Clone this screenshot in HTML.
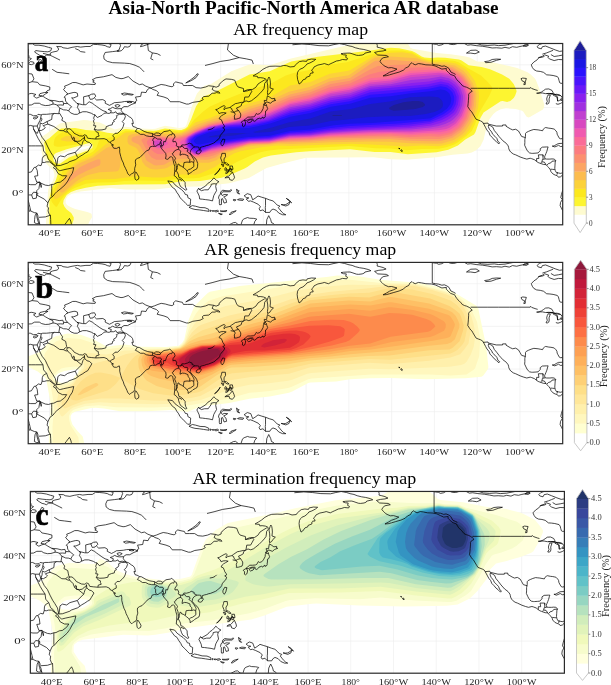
<!DOCTYPE html>
<html><head><meta charset="utf-8"><title>Asia-North Pacific-North America AR database</title>
<style>html,body{margin:0;padding:0;background:#fff;} svg{display:block;}</style></head>
<body>
<svg width="611" height="685" viewBox="0 0 611 685" font-family='"Liberation Serif", "DejaVu Serif", serif'>
<text x="108.6" y="13.8" font-size="18.8" font-weight="bold" textLength="390" lengthAdjust="spacingAndGlyphs" fill="#000">Asia-North Pacific-North America AR database</text>
<text x="233.3" y="35.0" font-size="16.8" textLength="134.8" lengthAdjust="spacingAndGlyphs" fill="#000">AR frequency map</text>
<text x="204.3" y="254.8" font-size="16.8" textLength="191.9" lengthAdjust="spacingAndGlyphs" fill="#000">AR genesis frequency map</text>
<text x="192.4" y="483.6" font-size="16.8" textLength="223.8" lengthAdjust="spacingAndGlyphs" fill="#000">AR termination frequency map</text>
<clipPath id="clipa"><rect x="28.20" y="43.50" width="534.50" height="181.30"/></clipPath>
<g>
<g clip-path="url(#clipa)">
<line x1="49.58" y1="43.50" x2="49.58" y2="224.80" stroke="#ececec" stroke-width="0.6"/>
<line x1="92.34" y1="43.50" x2="92.34" y2="224.80" stroke="#ececec" stroke-width="0.6"/>
<line x1="135.10" y1="43.50" x2="135.10" y2="224.80" stroke="#ececec" stroke-width="0.6"/>
<line x1="177.86" y1="43.50" x2="177.86" y2="224.80" stroke="#ececec" stroke-width="0.6"/>
<line x1="220.62" y1="43.50" x2="220.62" y2="224.80" stroke="#ececec" stroke-width="0.6"/>
<line x1="263.38" y1="43.50" x2="263.38" y2="224.80" stroke="#ececec" stroke-width="0.6"/>
<line x1="306.14" y1="43.50" x2="306.14" y2="224.80" stroke="#ececec" stroke-width="0.6"/>
<line x1="348.90" y1="43.50" x2="348.90" y2="224.80" stroke="#ececec" stroke-width="0.6"/>
<line x1="391.66" y1="43.50" x2="391.66" y2="224.80" stroke="#ececec" stroke-width="0.6"/>
<line x1="434.42" y1="43.50" x2="434.42" y2="224.80" stroke="#ececec" stroke-width="0.6"/>
<line x1="477.18" y1="43.50" x2="477.18" y2="224.80" stroke="#ececec" stroke-width="0.6"/>
<line x1="519.94" y1="43.50" x2="519.94" y2="224.80" stroke="#ececec" stroke-width="0.6"/>
<line x1="28.20" y1="192.81" x2="562.70" y2="192.81" stroke="#ececec" stroke-width="0.6"/>
<line x1="28.20" y1="150.15" x2="562.70" y2="150.15" stroke="#ececec" stroke-width="0.6"/>
<line x1="28.20" y1="107.49" x2="562.70" y2="107.49" stroke="#ececec" stroke-width="0.6"/>
<line x1="28.20" y1="64.83" x2="562.70" y2="64.83" stroke="#ececec" stroke-width="0.6"/>
<path fill="#fefbd0" fill-rule="evenodd" d="M47.2 229.1l3.4 0.5 20.4 0 13.9-1.3 1.1-0.3 1-1 2.4-5.4 2.7-4.3 -0.5-3.2 -1.5-1 -2.9-1.1 -12-3 -4.2-1.8 -3.2-1.6 -1.1-1.1 -1.1-2.1 0.3-3.2 2-3.2 4.1-2.2 8.6-2.2 28.8-3.6 16.1 1.6 28.8-0.1 25.7-2.7 20.3-0.4 29-3.2 19.5-5.3 17.8-9.9 16-4.6 23.5-5.6 67.4-0.6 17.1 2 16 0.6 30-2.6 16-2.5 15-1.3 4.2-1 4.3-2.2 4.3-3.9 3.2-6.5 2.8-12 3-8.6 4-5.3 3-2.5 4.3-2.2 5.3-0.9 9.7 0.7 6.4 1.8 1.2 1 3.1 4.8 2.1 0.9 1.4-0.4 13-7.5 1.2-2.1 0.1-3.2 -5-15.9 -3.2-8.1 -1.1-1.7 -4.1-4.2 -3.3-2.1 -10.3-4.3 -22.8-5.3 -4.4-0.7 -12.8-0.6 -7.5-3.8 -5.4-1.3 -13.8-2.1 -13.9-1.1 -23.9-4.3 -2.3-1 -3.9-6.4 -0.9-1.1 -1.1-0.3 -31 0.1 -27.1 5.5 -56.3 13.2 -20.3 6.5 -18.2-0.8 -3 0.3 -17.3 6.4 -20.3 12.8 -6.4 1.7 -2.2 1.5 -5.4 6.4 -4.2 10 -6.3 21 -1.2 1.8 -2.1 1 -4.3 0.6 -13.9-2.2 -9.6 2.9 -3.2 0.2 -11.8-0.4 -14.9-1.8 -10.7 2.8 -15-6.9 -12.1-2.3 -3.9-0.3 -23.5 3.2 -13.9 10.6 -5.4 3.5 -0.6 2.2 0.1 3.2 1.4 10.6 0.9 3.2 3.6 7.3 7 6.6 1.1 4.3 -0.2 2.1 -1.5 4.3 -3.6 5.3 -0.9 3.2 -1.8 20.3 -0.6 14.9 0.3 3.2 1 1.1zM58.1 160.9l-1.6-1.2 -0.3-1 0.4-2.2 1.5-1.3 10.3-4 10.4-3.2 8.2-2.1 2.5 0 0 1 -1.4 1.1 -19.3 7 -8.5 5.6 -2.2 0.3z"/>
<path fill="#fdf530" fill-rule="evenodd" d="M50.9 226.9l17.9 0.1 1.1-0.1 1.7-1 2.1-6.4 0-2.2 -2.5-4.2 -4.5-3.7 -2.2-2.7 -1.4-3.2 0.5-3.2 3.1-5.3 4.3-2.9 5.3-2 9.6-2.4 11.8-2 26.7-1.3 40.6-0.2 15-2.6 20.3-0.6 21.4-3.3 7.5-2.5 14.9-6.4 3.2-1.8 7.5-5.5 8.2-3.9 7.9-2.1 25.2-3.2 13.2-1.1 40.7-2 24.6 2.8 16-0.1 17.1 2.3 28.9-2 11.7-2.4 9.6-4.3 7.4-6 8.7-5.1 1.5-2.4 4.9-13.9 3.2-5.5 17.1-11.4 2.1-0.3 4.3 1.1 3.2-1 3.4-3.1 1.4-2.1 1.5-4.3 -0.4-2.1 -2.5-5.4 -4.4-5.3 -7.2-4.3 -12.1-5.1 -8.5-2.4 -12.9-1.6 -7-4.7 -2.6-1 -13.9-1.8 -7.5-0.3 -7.5 0.6 -5.7-0.7 -2.8-0.9 -6.4-4.1 -3.2-1.4 -12.9-2.8 -8.5-0.5 -23.8 3.3 -48.9 5.8 -21 3.8 -5.6 1 -3 1.1 -18.5 8.6 -20.3 3.3 -37.4 18.9 -8.6 3 -2.1 1.4 -5.4 8.7 -4.9 12.6 -3.6 7.5 -2.2 1.9 -3.8 1.3 -2.6 0.2 -13.9-1.7 -8.5 2 -3.2 0.3 -12.9-0.4 -14.9-1.3 -2.2 0.6 -7.4 3.6 -2.2 0.4 -6.4-0.8 -7.5-1.8 -13.9-1.1 -10.7-1.9 -13.9 0.5 -2.1 1 -9.6 8.6 -4.3 2.7 -1.2 1.9 1.7 10.6 1.6 5.2 2.1 3.4 6.5 6.1 1.1 2.4 0.8 3.2 -2 6.4 -4.3 8.5 -2.2 9.6 0 26.7 0.2 1.2 1.3 0.9zM56 163.1l-2.1-1.7 -0.6-2.7 0.9-4.3 1.8-1.4 10.7-3.8 21.4-5.9 3.2 0 1.2 1.5 0.1 2.1 -0.5 1.1 -1.9 1.6 -21.3 8 -8.6 6 -2.2 0.2 -2.1-0.7z"/>
<path fill="#fce81e" fill-rule="evenodd" d="M55.9 206.7l1.2-0.1 2.9-5.3 4-5.3 3.8-3.7 3.2-2.4 4.2-2.2 10.7-3.9 10.7-1.2 17.1-0.3 10.7-1.2 12.8-0.6 26.8 0.5 16-2.7 13.9 0 5.3-0.6 20.6-6.2 16.9-9.5 14.4-6.5 9.2-3.2 8.4-1.8 9.6-1.1 70.6-3.4 26.7 2.2 15 0.3 16 1.7 15-1.1 17.1-0.3 7.5-1.5 7.5-2.5 3.2-1.7 9.6-7.2 5.3-4.9 3.5-7.5 4-11.1 10-16.6 2.8-6.4 0.1-2.2 -4.4-5.3 -6.8-6.4 -13.4-7.5 -8.6-5.6 -4.3-1.3 -8.5-1 -7.5-0.2 -6.4 0.4 -5.4-0.8 -5.3-1.5 -9.6-5.8 -9.7-1.7 -11.7-0.1 -15 2.6 -28.8 9.3 -20.3 2.7 -19.3 5.5 -13.9 2.4 -7.5 2.6 -13.9 7.5 -7.5 2.8 -11.7 3 -25.7 10.2 -17.1 7.6 -6.4 4.7 -7.5 6.6 -2.1 2.1 -5.7 7.8 -3.9 2.5 -5.4 1.2 -13.9-1.2 -10.7 1.5 -28.8-1.1 -10.7 5.5 -15 3.5 -1 1.4 -1.9 5.8 -3.5 4.3 -3.2 2 -18.2 7.3 -8.6 7.8 -2 6.4 -7.9 14.9 -2.3 7.5 -0.3 2.1 0.8 2.5 2.2 3.1 2 1.9zM54.4 145.9l2.7 0.8 3.2 0 16-2.1 6.2-1.9 1.9-1.1 1.8-2.1 0.5-2.2 -2.1-2.1 -3-1.7 -6.4-1.9 -4.2-0.2 -8.6 0.9 -4.3 2.6 -2.6 2.4 -1.1 2.2 -0.6 3.2 -0.1 2.1 0.7 1.1z"/>
<path fill="#fcd23a" fill-rule="evenodd" d="M55 199.2l2.1-0.4 2.1-1.4 16-12.6 9.7-4.8 10.6-0.8 19.3-0.2 21.4-2.7 17.1 1.1 10.7 0 16-2.8 16 0.1 4.3-1.2 15-6.8 15-11.2 4.1-2.2 6.3-2.1 22.1-4.3 14.5-1.3 13.9 0.4 58.8-2.2 20.3 0.6 35.3 2.1 16-1 17.1 0.8 6.4-1.2 7.5-2.1 3.2-1.4 9.6-6.9 3.9-4.8 4.5-8.5 4.3-13.9 1-10.7 -0.4-5.3 -4-10.7 -6.1-8.5 -3.3-3.2 -9.5-5.7 -10.7-1.6 -13.9-0.2 -9.6-2.5 -9.6-5.4 -9.7-1.5 -11.7 0.5 -15 2.6 -4.3 1.9 -21.3 13 -3.2 0.9 -17.1 2.6 -19.3 8.3 -20.3 3.6 -21.3 12.3 -20.4 5.9 -16 5.3 -23.1 9.1 -13.3 4.1 -2.1 1.4 -6.4 5.9 -6.4 2.8 -2.2 0.3 -13.9-0.7 -10.7 0.7 -20.3-0.4 -7.5 0.2 -2 0.6 -6.5 4.6 -11.8 6.4 -13.9 11.5 -13.9 5.8 -3.2 1.8 -2.1 1.8 -5.8 6.5 -9.7 14.9 -2 4.3 -1.7 5.5 -0.2 1.9 1.3 1.1zM67.3 141.6l7.9-0.4 3.2-1.1 1-0.6 -0.1-1.1 -0.9-1.1 -2.3-1 -4.1-0.7 -6.5 0.7 -4.4 2.1 -0.4 1.1 0.7 1 5.9 1.1z"/>
<path fill="#fcbc4e" fill-rule="evenodd" d="M59.9 191.7l1.4 1 2.2-0.8 12.8-10.5 5.3-3.5 6.5-2.9 11.7-2.8 16.1-0.8 2.1-0.5 1.1-1.4 0.7-2.3 1.3-9.6 -0.6-3.2 -2.5-6.9 -2.1-1.1 -4.3 0.1 -2.2 0.3 -3 1.2 -13 9.3 -13.3 5.6 -3.6 2.2 -6.6 6.4 -5.4 7.5 -4.3 7.4 -0.7 3.2 0.4 2.1zM152.9 169.3l3.6 0.1 8.5-0.9 2.2-0.7 6.4-3.7 7.5-1.6 27.8 0.2 7.4-2.5 7.8-5.8 3.8-2.1 17.8-5.4 6.3-1 16.7-1.1 9.6-1.2 12.9 0.5 39.5-1.9 39.6-0.6 19.2 0.2 20.3 1.5 27.8 0.5 4.3-0.4 11.8-3.3 8.6-5.9 3.1-3.2 6.1-9.6 1.3-3.2 3.2-11.8 0.5-12.8 -3.9-10.6 -6.5-9.6 -2.8-2.7 -8.6-5.3 -8.5-1.4 -13.9-1.1 -10.7-2.7 -4.3-1.8 -3.2-0.5 -23.5-1.5 -15 1.2 -3.9 1.9 -22.8 15.8 -19.2 3 -20.4 8.7 -20.3 4.7 -19.2 8.8 -20.3 6 -20.3 8.3 -15 4 -16 5.5 -4.3 2 -6.4 4.5 -6.4 2.8 -15 0.7 -6.4-0.7 -22.5-0.1 -4.9 0.7 -3 1 -1.1 1.1 -0.7 2.1 0 3.2 0.8 2.1 1.5 1.3 5.3 2.3 2.1 1.6 2.5 4.4 2.7 8.6 3.1 4.2 4.6 2.6 2.8 0.6z"/>
<path fill="#fca564" fill-rule="evenodd" d="M66.4 184.3l0.3 0.2 4.3-4 7.4-5.4 8.6-4.3 12.8-5.5 0.7-2.4 -0.3-3.2 -1.4-0.5 -2.4 0.5 -8 3.2 -8.6 4.3 -7.8 6.5 -4.2 7.2 -1.4 3.4zM153.9 165.1l2.6 0.4 7.5-0.7 7.4-4.1 9.7-2 24.6 1 3.2-0.3 6.4-2 6.1-4.1 4.5-2.1 4.3-0.7 15-4.6 5.4-1.2 18.1-0.6 9.6-1.6 31-0.8 20.4-1.5 40.6-1 19.2-0.1 20.3 1.6 19.3 0.5 9.6 0.1 3.2-0.5 10.7-3 8.5-6 2.7-3 5.6-8.5 1.4-3.2 3.1-11.7 0.7-9.6 -0.2-2.2 -3.7-9.6 -6.3-9.1 -3.3-2.7 -8.5-5.1 -12.8-1.7 -22.5-4.2 -11.7-0.2 -15-1.3 -15 1 -2.1 1 -23.5 16.4 -20.3 3.3 -19.3 8.4 -20.3 4.7 -20.3 8.6 -20.3 6 -19 8 -22.7 5.7 -12.8 5.4 -7 3.8 -6.9 3 -15 1.2 -10.7-1.5 -13.9 0.3 -4.3 0.7 -4.5 1.6 -1.1 1.1 0 2.1 1.4 1.4 5.3 2.4 1.7 1.6 3.6 6.4 2.2 6.9 1 1.6 7.1 4.3z"/>
<path fill="#fc9070" fill-rule="evenodd" d="M156.3 159.7l6.6 0 7.5-3.2 8.5-1.3 5.4 0.3 10.7 2.3 12.8-0.8 6.4-1.7 10.7-4.7 6.4-1.1 15.4-4.7 4.9-0.9 17.1-0.4 8.6-1.6 6.4-0.5 26.7-1.1 20.3-1.7 41.7-1.2 18.2-0.2 20.3 1.6 27.8 0.1 3.2-0.4 9.6-2.6 8.6-5.9 2.8-3.3 4.9-7.5 1.6-4.2 2.7-9.6 0.7-8.6 -0.2-3.2 -3.2-8.5 -6.1-8.9 -3.2-2.7 -8.6-4.9 -22.4-3.6 -11.8-0.8 -25.6 0.8 -13.9 1.1 -9.7 4.3 -17.8 10.4 -19.6 3.3 -20.3 8.2 -20.3 4.7 -20.3 8.6 -19.2 5.7 -20.4 7.7 -21.3 4.9 -12.9 5.3 -9.6 5 -5.3 2.1 -4.3 0.6 -10.7 0.3 -12.8-1.4 -4.3 0.5 -6 2.1 -1.4 1.1 -0.1 1 7.5 14 2.6 3.1 4.7 2.1z"/>
<path fill="#fc7c80" fill-rule="evenodd" d="M194.3 156.5l3.9-0.1 16-3.4 10.7-3.2 5.3-0.7 19.3-5.5 19.2-0.7 8.6-1.6 11.7-1.2 21.4-0.8 20.3-2 39.6-1.3 19.2-0.5 20.3 1.4 20.3-0.6 8.6 0.4 8.5-1.6 4.3-1.4 7.5-5.1 2.1-2.4 5.3-8 4.1-12.8 0.7-8.6 -0.2-3.2 -3.1-8.5 -5.7-7.9 -3.2-2.7 -8.5-4.7 -20.4-2.5 -13.9 0.1 -6.4 0.3 -20.3 3.3 -9.6 0.8 -10.7 2.8 -19.2 9 -20.3 3.7 -19.3 7.4 -20.3 4.7 -20.3 8.6 -18.2 5.3 -17.6 5.9 -25.1 5.7 -12.9 5.3 -10.7 5.8 -3.2 1.1 -4.2 0.9 -11.8 0.1 -7.5-1 -5.3 0.1 -3.9 1.2 -2.6 3.2 0.3 2.1 3 5 4.2 3.6 3.2 1.6 4.3 0.3 8.6-2.3 8.5-0.7 6.4 1.2 9 4.1z"/>
<path fill="#fb6c98" fill-rule="evenodd" d="M193.5 155.5l3.6 0.3 12.8-3.8 20.3-3.6 19.3-5.2 19.2-0.8 21.4-3.3 20.3-0.8 20.3-2 25.4-1.1 33.4-1.1 21.4 1.2 19.2-1.2 9.7 0.4 7.4-1.5 4.3-1.6 6.9-4.7 6.6-9.6 4-11.7 0.8-8.6 -0.3-3.2 -2.6-7.4 -5.8-8.1 -2.1-1.9 -8.5-4.8 -9.7-1.6 -7.4-0.3 -22.5 1.2 -21.4 5.7 -19.2 1.8 -20.3 7.8 -19.3 3.6 -20.3 7.3 -20.3 4.6 -21.8 9.2 -38.3 10.7 -21.1 4.2 -11.8 4.8 -12.8 7.2 -4.3 1.5 -4.3 0.4 -8.5-0.3 -10.7-1.1 -4.3 0.9 -1.6 1.5 -0.3 2.2 1.5 3.2 1.5 1.3 3.2 1.7 2.1 0.6 3.2 0.1 8.6-2.2 7.5-0.2 6.4 2 9.2 6.3z"/>
<path fill="#f05ab0" fill-rule="evenodd" d="M193 154.4l2 0.8 2.1-0.1 12.8-4.2 20.3-3.4 19.3-4.8 19.2-0.7 21.4-3.7 20.3-0.8 20.3-2.1 38.5-1.9 21.4-0.6 20.3 0.8 19.2-1.3 9.7-0.1 6.4-1.2 4.3-1.5 6.4-4.3 6.4-8.6 4.1-11.3 0.9-7.5 -0.2-3.2 -2.7-8.2 -6.4-8.4 -8.5-5.1 -8.6-1.7 -9.6 0.1 -21.4 1.6 -20.3 5.7 -20.3 1.8 -20.3 7.4 -19.3 3.5 -20.3 7.2 -20.3 4.4 -21.4 9.2 -35.8 9.2 -23 4.5 -11.7 4.6 -10.7 5.8 -6.8 5.3 -0.7 1.1 0.3 1 1.1 1.1 6.1 5.5 5.5 4.1zM155.4 146.9l3.2 1.1 3.2-0.6 4.9-2.6 1.1-1.1 0.3-1 -1.2-1.1 -5.7-2.1 -2.6-0.5 -3.6 0.5 -2 1 -0.6 2.2 0.8 2.1 2.2 2.1z"/>
<path fill="#d848c0" fill-rule="evenodd" d="M194.4 154.4l1.6 0.2 2.2-0.4 12.8-4.5 18.2-3.1 20.3-4.4 19.2-0.7 21.4-4 20.3-0.8 20.3-2.2 39.6-2.3 19.2-0.3 21.4 0.4 27.8-2 7.5-1.4 3.2-1.2 6.4-4.1 5.9-7.6 4.1-10.6 1-7.5 -0.3-3.2 -2.4-7.5 -5.6-7.4 -9.1-5.5 -7.5-1.4 -3.2-0.2 -27.8 2.3 -20.3 5.6 -20.3 1.9 -20.3 7.2 -19.3 3.3 -20.3 7.2 -20.3 4.1 -21.4 9.4 -32.7 7.7 -26.1 5 -11.7 4.6 -5.4 2.6 -5.3 3.3 -1.5 1.5 -1.5 3.2 0.2 3.2 1.7 3.2 2.1 2.3 5.9 4.1zM155.8 145.9l1.7 0.8 2.2-0.1 2.6-1.8 0.5-1.1 -0.3-1 -2.8-2.2 -2.2-0.3 -2.1 0.6 -1 0.8 -0.3 1.1 0.7 2.1 1 1.1z"/>
<path fill="#c040d0" fill-rule="evenodd" d="M193.6 153.3l1.4 0.6 2.1 0 15-5.2 36.3-6.9 21.4-1 20.3-4 20.3-0.8 20.3-2.4 39.6-2.4 40.6-0.3 19.2-1.6 11.8-1.8 5.3-1.4 6.5-3.6 5.7-6.5 1.7-3 2.9-7.6 1.1-6.4 -0.1-3.2 -2.3-7.5 -5.6-7.5 -7.7-4.6 -8.6-1.7 -29.9 2.8 -20.3 5.2 -20.3 1.8 -20.3 7.1 -19.3 3.2 -20.3 7.1 -20.3 4 -21.4 9.5 -20.3 4.5 -27.8 5 -11.7 2.6 -13.9 5.7 -6.5 3.8 -1.7 1.6 -0.9 2.1 -0.1 2.2 0.8 4.2 1.9 2.7 5.1 3.7zM157 143.7l0.5 0.8 1.1-0.3 0.3-0.5 -1.4-1 -0.5 1z"/>
<path fill="#a030e0" fill-rule="evenodd" d="M193.2 152.3l1.8 0.9 2.1 0 15-5.3 19.2-3.8 18.2-3 20.3-0.9 20.3-4.1 20.3-0.9 20.3-2.5 38.5-2.4 41.7-0.9 19.2-1.9 8.6-1.6 6.4-1.8 5.4-2.7 3-2.2 4.1-4.2 1.4-2.3 3.1-7.3 1-6.4 -0.1-3.2 -2.5-7.5 -4.7-5.8 -4.3-2.9 -3.2-1.6 -7.5-1.4 -11.7 1.9 -18.2 1.6 -20.3 4.2 -20.3 1.8 -20.3 7.2 -19.3 3.1 -20.3 7 -20.3 3.9 -21.4 9.3 -19.2 4.2 -28.9 4.4 -11.7 2.6 -13 5.3 -7.3 4.2 -1.1 1.1 -0.9 3.2 0.7 5.3 1.6 2.2 4.3 3.2z"/>
<path fill="#8a20ee" fill-rule="evenodd" d="M195.3 152.3l3.9-0.3 12.9-5 17.1-3.4 20.3-3.1 20.3-1 20.3-4.2 20.3-0.9 20.3-2.6 19.3-1.4 59.8-2.5 21.4-2.5 8.6-2.2 5.3-2 5.4-3 5-4.3 1.5-2.1 2.9-6.4 1-6.4 0-3.2 -2.9-7.5 -3.3-3.7 -5.5-3.8 -8.4-1.7 -2.1 0.1 -9.6 2.2 -17.1 1.7 -21.4 3 -20.3 1.7 -20.3 7.4 -19.3 3.1 -20.3 6.8 -20.3 3.8 -21.4 9.1 -19.2 4.2 -28.6 3.4 -13.1 3.2 -12.9 5.4 -5.3 3.2 -1.9 2.1 -0.3 4.2 0.7 3.2 3.3 3.2 3.9 2.2z"/>
<path fill="#6a18f8" fill-rule="evenodd" d="M196.4 151.2l2.8-0.2 12.9-4.9 16-3.1 21.4-3.2 20.3-1 20.3-4.3 20.3-1.1 20.3-2.7 18.2-1.5 59.9-2.8 21.3-2.6 11.8-3.9 6.4-3.4 5.4-4 1.9-2.9 2.3-5.1 0.8-5.5 0-3.2 -2.6-6.4 -3.5-3.6 -4.3-2.9 -7.5-1.4 -12.8 2.8 -57.7 5.5 -20.3 7.4 -19.3 3 -20.3 6.6 -20.3 3.9 -21.4 8.7 -18.1 4 -24.6 2.2 -7.2 1.1 -9.1 2.1 -13.7 5.4 -5.1 3.1 -2.4 2.2 -0.2 4.2 0.3 2.2 0.6 1 3.6 3 3.6 1.3z"/>
<path fill="#4a14fc" fill-rule="evenodd" d="M195.3 149.1l3.9 0.4 12.9-4.5 16-2.8 21.4-3.2 20.3-1 20.3-4.4 20.3-1.2 20.3-3 17.1-1.5 44.9-2.1 17.2-1.2 20.2-2.5 10.3-3.9 6.8-3.8 4.3-3.2 2.2-2.7 2-4.2 0.7-4.3 0.1-3.2 -1.9-5.3 -2.7-3.2 -4.7-3.3 -6.4-1.1 -12.8 2.8 -57.7 5.5 -20.3 6.9 -19.3 3.1 -20.3 6.5 -20.3 3.8 -21.4 8.2 -18.1 4 -19.3 1.1 -7.3 0.9 -14.9 3.2 -13.6 5.3 -5.7 4.3 -0.6 2.1 1.1 4.3 2.5 2.1 2.5 1.1z"/>
<path fill="#2a12fe" fill-rule="evenodd" d="M195.9 146.9l3.3 0.5 13.9-3.9 35.3-5.2 21.4-1.2 20.3-4.6 20.3-1.4 20.3-3.2 19.3-1.9 48.4-2.5 31.7-3 13.7-6.6 5.9-4.3 1.8-2.1 1.7-3.2 1-4.3 -0.1-3.2 -1.6-4.2 -3.1-3.3 -3.2-2.1 -5.4-0.9 -11.7 2.5 -38.5 4.4 -20.3 1.6 -20.3 6.4 -19.3 3 -20.3 6.4 -20.3 3.9 -18.2 6.6 -7.5 1.9 -13.8 3 -21.4 1.2 -11.1 1.6 -8.2 1.9 -12.4 4.5 -3.6 2.1 -2.3 2.2 -0.8 2.1 1 2.5 1.8 1.8 2.3 1z"/>
<path fill="#1a16e4" fill-rule="evenodd" d="M196 143.7l2.2 0.8 2.1 0 11.8-2.5 36.3-4.9 21.4-1.3 20.3-4.8 20.3-1.6 23.5-4.1 16.1-1.5 22.4-0.9 56.7-4.4 2.1-0.6 10.7-5.5 5.2-3.8 2.3-3 1.1-2.1 0.7-3.5 -0.1-2.1 -1.7-4.3 -2.2-2 -2.1-1.4 -4.3-0.8 -10.7 1.9 -21.3 2.3 -18.2 2.7 -20.3 1.5 -20.3 5.9 -19.3 3.1 -20.3 6.3 -20.3 3.7 -19.2 6.4 -18.2 4.1 -4.3 0.7 -19.2 0.8 -19 3.2 -9.1 3.2 -4.5 2.1 -2.8 3.2 0.1 1.3 2.1 1.9z"/>
<path fill="#1c1cc0" fill-rule="evenodd" d="M208.6 137.3l7.4 0 19.5-2.1 10.8-1.9 4.9-0.2 -21-0.2 -14.9 2.3 -5 1.1 -1.7 1zM253.3 132l0.5 0.5 2.1 0.2 14.2-0.7 18.9-5.1 20.3-1.3 21.4-4.7 11.8-0.8 24.6-2.8 20.3-1 22.4-0.3 16.1-2.1 8.5-1.9 5.7-2.4 2.7-3.2 0.1-3.2 -0.7-2.1 -1.7-2.1 -1.8-1.4 -2.1-0.6 -7.5-0.6 -19.3 0.9 -20.3 4.3 -19.2 2.4 -19.3 4.9 -20.3 2.6 -20.3 6.9 -22 4 -16.5 5.1 -18.6 4.5z"/>
<path fill="#1e1e98" fill-rule="evenodd" d="M332 116l9.4 0 0.8-1 -9 0 -1.2 1zM393.6 110.7l10.9-0.6 10.7-1.2 7.5-1.9 2.2-1.6 0.1-1.1 -2.3-2.2 -4.3-1 -5.4-0.2 -9.7 1.3 -9.5 2.7 -4.3 2.6 -0.4 1.1 0.9 1 3.6 1.1z"/>
<g transform="matrix(2.1380 0 0 2.1329 -35.940 192.806)"><path d="M29.9,-31.2 31.0,-31.6 32.3,-31.3 34.2,-31.3 34.9,-32.8 35.5,-33.9 35.9,-35.3 36.0,-36.0 36.2,-36.6 35.6,-36.6 34.6,-36.8 34.0,-36.2 32.5,-36.1 31.0,-36.8 30.6,-36.8 30.0,-36.3M32.3,-35.0 33.0,-34.6 34.0,-34.9 34.6,-35.7 33.0,-35.4 32.3,-35.0M30.0,-41.1 31.5,-41.2 33.0,-42.0 35.2,-42.0 36.3,-41.3 38.0,-40.9 39.7,-41.0 41.6,-41.6 41.6,-42.6 40.0,-43.4 38.2,-44.4 37.3,-45.0 36.6,-45.3 38.0,-46.3 39.3,-47.1 37.5,-47.0 35.5,-46.5 35.0,-45.7 36.5,-45.4 35.3,-45.0 34.0,-44.4 33.5,-44.6 32.5,-45.4 33.6,-46.1 31.7,-46.6 30.7,-46.5 30.0,-45.9M47.9,-46.0 49.0,-46.5 51.0,-47.0 51.9,-47.1 53.0,-46.7 53.2,-45.3 51.3,-44.5 50.3,-44.5 51.3,-43.5 52.7,-42.0 53.5,-41.5 53.0,-40.0 53.8,-38.8 54.0,-37.4 53.0,-36.8 51.5,-36.8 50.0,-37.4 48.9,-38.4 49.5,-39.5 50.3,-40.4 49.5,-41.0 48.3,-42.0 47.5,-43.0 47.3,-44.6 46.8,-44.8 47.5,-45.6 47.9,-46.0M58.3,-45.5 59.5,-46.2 61.0,-46.4 61.6,-45.3 60.3,-44.0 59.0,-43.8 58.3,-45.5M73.6,-46.4 75.0,-46.8 77.0,-46.5 79.2,-46.1 78.5,-45.8 76.5,-46.1 74.5,-45.8 73.6,-46.4M76.2,-42.5 77.5,-42.8 78.5,-42.4 77.5,-42.2 76.2,-42.5M32.3,-31.3 32.5,-29.9 33.3,-28.3 33.8,-27.2 34.6,-25.6 35.6,-23.9 36.9,-22.0 37.2,-19.6 38.6,-18.0 39.5,-15.6 40.5,-14.9 41.6,-13.5 42.7,-12.8 43.2,-11.6 44.5,-10.4 45.0,-10.4 46.6,-10.8 48.5,-11.2 51.3,-11.8 51.0,-10.4 50.6,-9.1 49.6,-7.6 48.5,-5.5 47.2,-3.7 45.3,-2.0 43.5,-0.6 42.5,0.4 41.6,1.6 40.2,2.6 39.2,4.7 38.8,6.4 39.5,7.0 39.3,8.5 39.8,10.0 40.4,10.5 40.5,12.5 40.6,15.0M32.5,-29.9 33.6,-28.2 34.3,-27.9 34.6,-28.8 35.0,-29.5 35.5,-28.0 36.5,-26.0 38.0,-24.1 39.2,-21.5 40.5,-19.0 41.5,-17.5 42.7,-15.5 43.3,-12.7 45.0,-12.8 48.5,-14.0 49.1,-14.5 52.2,-15.6 54.1,-17.0 55.5,-17.8 56.8,-18.7 57.8,-19.2 58.6,-20.5 59.8,-22.5 58.6,-23.6 57.5,-23.9 56.4,-24.9 56.3,-26.4 56.0,-25.4 55.3,-25.3 54.4,-24.3 53.0,-24.1 51.6,-24.3 51.6,-25.8 51.2,-26.1 50.8,-25.0 50.2,-26.3 50.1,-26.8 49.4,-27.6 48.6,-28.2 48.0,-29.3 48.5,-30.0M48.5,-30.0 49.5,-30.0 50.8,-28.9 51.5,-27.9 52.5,-27.4 54.0,-26.7 55.5,-26.6 56.3,-27.2 57.2,-26.9 57.8,-25.6 59.5,-25.4 61.6,-25.2 63.5,-25.3 65.5,-25.4 67.0,-24.8 67.5,-23.9 68.5,-23.6 68.9,-22.8 69.9,-22.4 69.1,-22.4 70.0,-20.9 71.3,-20.8 72.6,-21.5 72.8,-20.4 72.8,-19.0 73.3,-17.0 73.8,-15.4 74.5,-14.0 74.8,-12.9 75.5,-11.5 76.2,-10.0 76.6,-8.9 77.5,-8.1 78.2,-8.8 79.0,-9.2 79.3,-9.3 79.8,-10.3 79.8,-11.5 80.3,-13.1 80.1,-14.5 80.2,-15.5 81.2,-16.2 82.3,-16.6 83.3,-17.7 84.5,-18.8 85.3,-19.7 86.5,-20.1 87.0,-21.5 88.1,-21.8 89.0,-21.7 90.0,-21.9 90.5,-22.5 91.5,-22.6 91.8,-22.3 92.0,-21.4 92.5,-20.6 92.9,-20.1 93.6,-19.3 94.3,-18.5 94.5,-17.3 94.2,-16.0 95.0,-15.7 95.5,-15.8 96.2,-16.8 97.0,-16.9 97.6,-16.5 97.8,-15.2 98.1,-13.8 98.6,-12.2 98.5,-10.0 98.3,-8.0 99.1,-7.5 100.3,-6.0 100.3,-5.4 100.8,-3.9 101.3,-2.9 102.3,-2.2 103.5,-1.3 103.9,-1.4 104.2,-1.5 103.6,-2.6 103.4,-3.8 103.4,-4.8 102.3,-6.1 101.3,-6.9 100.4,-7.3 100.3,-8.4 99.9,-9.3 99.2,-10.5 99.6,-11.8 99.9,-12.6 100.0,-13.4 100.5,-13.5 100.9,-12.7 101.5,-12.6 102.3,-12.1 103.0,-11.5 104.1,-10.6 104.8,-9.5 104.8,-8.6 105.5,-9.1 106.3,-9.6 106.8,-10.0 107.1,-10.3 108.2,-10.9 108.9,-11.3 109.2,-12.2 109.3,-13.7 108.8,-15.1 108.2,-16.1 107.6,-16.5 106.6,-17.6 105.7,-18.7 106.0,-19.9 106.7,-20.8 107.5,-21.3 108.0,-21.5 109.1,-21.5 109.8,-21.4 110.0,-20.3 110.5,-20.4 110.4,-21.2 111.5,-21.6 112.5,-21.8 113.5,-22.2 114.2,-22.3 115.5,-22.8 116.7,-23.3 117.5,-23.8 118.1,-24.5 118.9,-25.0 119.6,-26.0 119.8,-26.8 120.7,-28.0 121.5,-28.7 121.9,-29.9 121.0,-30.5 121.9,-31.0 121.6,-31.7 121.0,-32.5 120.8,-33.2 120.3,-34.3 119.3,-34.7 119.8,-35.6 120.4,-36.1 121.4,-36.7 122.6,-37.4 121.4,-37.6 120.2,-37.5 119.3,-37.1 118.9,-38.0 117.7,-39.0 118.5,-39.2 119.6,-39.9 120.7,-40.5 121.6,-40.9 122.2,-40.4 121.6,-39.5 121.6,-38.9 122.3,-39.5 123.5,-39.8 124.4,-40.0 125.2,-39.5 125.3,-38.8 125.5,-38.7 126.2,-37.7 126.6,-37.5 126.8,-36.8 126.4,-36.0 126.5,-35.0 126.4,-34.5 127.5,-34.6 128.5,-34.9 129.1,-35.1 129.4,-36.0 129.4,-37.0 128.9,-37.8 128.4,-38.6 127.6,-39.2 127.5,-39.8 128.6,-40.2 129.7,-40.9 129.8,-41.8 130.6,-42.4 131.3,-42.8 131.9,-43.1 133.2,-42.7 134.5,-43.2 135.5,-44.0 137.0,-45.2 138.3,-46.5 139.5,-47.8 140.3,-48.9 140.5,-50.1 140.6,-51.3 141.4,-52.3 141.2,-53.3 140.0,-53.8 138.5,-54.0 137.4,-53.9 137.2,-54.6 136.0,-54.7 135.2,-54.8 136.9,-55.8 138.2,-56.6 139.8,-57.9 141.5,-58.8 143.0,-59.3 145.5,-59.4 148.0,-59.3 149.5,-59.7 150.8,-59.6 152.5,-59.0 154.5,-59.2 155.0,-60.0 156.8,-61.5 158.5,-61.8 160.2,-61.6 160.5,-62.3 162.5,-62.7 164.5,-62.6 163.5,-61.8 161.8,-60.9 160.4,-60.4 159.8,-59.6 158.5,-58.5 157.2,-58.0 156.5,-57.3 156.0,-56.5 155.8,-55.0 156.0,-53.2 156.4,-52.0 156.7,-51.0 157.5,-51.5 158.6,-53.0 159.8,-53.4 160.0,-54.1 161.8,-54.8 161.8,-55.7 162.2,-56.1 163.3,-56.2 163.0,-57.0 162.5,-57.5 163.3,-58.2 163.7,-59.0 165.5,-59.9 167.5,-60.3 168.5,-60.6 170.4,-60.0 171.6,-60.6 172.5,-61.0 174.2,-61.8 175.5,-62.0 177.0,-62.5 179.0,-62.3 179.4,-63.0 178.5,-63.5 178.8,-64.6 177.5,-64.7 176.3,-65.2 177.5,-65.4 179.5,-65.5 180.5,-65.5 181.5,-65.2 183.5,-64.5 184.5,-64.4 186.2,-64.6 187.2,-65.0 187.5,-65.5 188.0,-65.6 190.3,-66.1 189.3,-66.6 187.0,-67.2 185.0,-67.5 183.0,-68.0 181.5,-68.6 180.0,-68.9 178.0,-69.5 176.5,-69.8 175.5,-70.0M30.0,-69.8 32.0,-69.9 33.1,-69.2 35.0,-69.2 37.5,-68.8 39.5,-68.2 41.0,-67.8 40.5,-66.5 39.2,-66.1 37.5,-66.2 35.5,-66.4 33.5,-66.7 33.0,-66.0 34.5,-65.0 35.5,-64.4 36.5,-64.2 37.5,-63.8 38.5,-64.5 39.7,-64.6 40.5,-64.8 40.3,-65.5 41.5,-66.0 43.5,-66.4 44.2,-67.0 44.0,-68.0 43.3,-68.6 45.5,-68.5 46.3,-68.0 48.5,-67.7 50.5,-68.2 53.0,-68.6 54.5,-68.3 57.0,-68.6 59.0,-68.6 60.5,-69.6 62.5,-69.5 64.5,-69.3 66.0,-69.0 67.0,-68.5 68.3,-68.2 68.8,-69.5 67.5,-70.0M72.8,-70.0 73.2,-69.0 72.8,-68.0 72.5,-67.0 71.5,-66.5 72.0,-66.3 73.5,-66.6 74.5,-67.5 75.0,-68.5 76.5,-68.3 77.5,-68.6 78.2,-70.0M84.0,-70.0 83.0,-69.5 82.5,-68.5 84.0,-68.9 86.0,-69.6 87.0,-70.0M129.8,-33.3 130.9,-33.9 131.7,-33.3 131.6,-32.3 131.3,-31.4 130.7,-31.0 130.2,-31.3 130.3,-32.5 129.7,-33.0 129.8,-33.3M132.5,-33.3 133.0,-34.0 134.0,-34.3 134.6,-34.2 134.7,-33.8 134.2,-33.2 133.0,-32.8 132.5,-33.3M130.9,-34.0 131.5,-34.5 132.7,-35.5 134.0,-35.5 135.3,-35.6 136.0,-35.9 136.7,-37.2 137.3,-36.8 138.3,-37.1 139.1,-38.0 139.9,-39.5 140.0,-40.5 140.3,-41.2 141.1,-40.9 141.4,-41.4 141.6,-40.5 142.0,-39.5 141.5,-38.5 141.0,-38.3 141.0,-37.0 140.8,-36.0 140.9,-35.7 140.4,-35.1 139.8,-35.0 139.8,-35.5 139.2,-35.2 138.8,-34.6 138.3,-35.0 137.0,-34.6 136.9,-34.3 136.0,-33.5 135.3,-33.7 135.1,-34.2 135.2,-34.6 134.0,-34.6 133.0,-34.4 132.0,-33.9 130.9,-34.0M140.0,-41.5 141.0,-41.8 140.5,-42.6 140.4,-43.3 141.5,-43.2 141.7,-44.5 141.9,-45.5 143.0,-44.8 144.0,-44.1 145.3,-44.3 145.2,-43.6 145.8,-43.4 144.4,-42.9 143.3,-42.0 141.7,-42.6 141.0,-42.3 140.4,-41.4 140.0,-41.5M142.0,-46.0 143.0,-46.6 143.5,-47.5 144.7,-48.6 143.1,-49.2 143.3,-51.0 143.2,-52.5 143.0,-53.6 142.6,-54.3 142.2,-53.5 141.7,-52.0 142.0,-50.5 142.1,-48.5 141.9,-47.0 142.0,-46.0M121.0,-25.2 122.0,-25.0 121.5,-23.0 120.8,-21.9 120.2,-22.7 120.1,-23.5 121.0,-25.2M108.6,-19.2 109.7,-20.0 110.7,-20.1 111.0,-19.6 110.1,-18.3 109.5,-18.2 108.6,-18.5 108.6,-19.2M79.8,-8.0 80.0,-9.6 80.4,-9.8 81.2,-8.5 81.8,-7.4 81.6,-6.4 80.6,-5.9 80.0,-6.4 79.8,-8.0M47.0,15.0 47.8,14.0 48.3,13.3 49.3,12.0 49.9,13.3 50.2,14.5 50.4,15.0M95.3,-5.6 96.0,-4.5 97.5,-2.5 98.7,-1.7 99.5,-0.2 100.4,1.0 101.0,2.3 102.3,3.5 103.7,5.0 104.6,5.9 105.8,5.8 105.9,4.2 106.0,3.0 104.7,2.3 104.5,1.0 103.5,0.8 103.0,-0.2 101.5,-1.7 100.3,-2.5 98.7,-3.7 97.5,-5.2 95.3,-5.6M105.2,6.8 106.8,6.0 108.3,6.3 110.4,6.9 112.7,7.0 114.4,7.7 114.6,8.7 112.0,8.3 110.0,8.0 108.0,7.8 106.5,7.4 105.2,6.8M115.1,8.1 115.7,8.4 115.2,8.8 115.1,8.1M116.0,8.4 116.7,8.3 116.5,8.9 116.0,8.4M117.0,8.5 118.5,8.2 119.1,8.6 117.8,9.0 117.0,8.5M119.8,8.5 121.5,8.5 123.0,8.3 122.5,8.8 120.5,8.8 119.8,8.5M124.0,10.1 125.2,9.0 127.3,8.4 126.0,9.3 124.4,10.3 124.0,10.1M119.0,9.6 120.8,10.0 120.2,10.3 119.0,9.6M109.6,-2.0 110.3,-1.6 111.3,-2.2 113.0,-3.2 114.0,-4.4 115.0,-5.0 116.0,-6.0 116.8,-7.0 117.5,-6.4 118.1,-5.8 119.2,-5.2 118.0,-4.3 117.7,-3.0 118.1,-1.0 117.5,-0.0 116.8,1.3 116.5,2.5 116.2,3.8 114.6,3.4 113.0,3.2 111.5,3.0 110.2,2.9 110.0,1.5 109.3,-0.0 108.9,-0.8 109.6,-2.0M119.8,0.9 120.1,-0.5 121.0,-1.2 122.5,-1.0 124.0,-0.9 124.9,-1.5 125.2,-1.3 124.5,-0.5 123.0,-0.5 121.0,-0.5 120.3,0.5 120.8,1.3 121.6,0.8 123.3,0.9 122.5,1.5 121.4,2.0 122.5,3.0 122.8,4.5 121.6,4.8 121.3,3.8 120.9,2.7 120.4,2.9 120.4,5.5 119.5,5.6 119.4,5.1 119.4,3.0 119.0,2.5 119.3,1.2 119.8,0.9M127.5,-1.8 128.0,-1.0 128.7,-0.9 128.0,-0.4 128.9,0.6 127.9,0.2 127.6,-0.8 127.5,-1.8M127.9,3.2 129.0,2.8 130.8,3.0 130.4,3.6 128.5,3.4 127.9,3.2M126.0,3.1 127.2,3.3 126.7,3.8 126.0,3.6 126.0,3.1M131.0,1.4 132.5,0.4 134.1,0.9 135.0,3.3 136.5,2.3 137.5,1.5 139.0,2.0 141.0,2.6 142.8,3.3 144.5,3.8 145.8,5.0 146.5,5.8 147.7,6.2 147.0,7.0 147.8,8.0 148.6,9.0 149.5,9.8 150.5,10.3 149.0,10.3 147.2,9.5 146.0,8.2 144.5,7.6 143.5,8.3 143.0,9.2 141.0,9.2 139.8,8.0 138.5,8.4 138.0,7.5 138.6,6.5 137.6,5.4 135.5,4.4 134.0,3.8 133.0,4.0 132.0,2.9 133.2,2.4 132.0,2.2 131.0,1.4M148.3,5.5 149.5,5.6 150.5,5.5 151.5,4.9 152.3,4.2 152.0,5.5 150.5,6.2 148.3,5.5M150.7,2.6 152.0,3.3 153.2,4.7 152.5,4.2 150.7,2.6M129.5,15.0 130.1,13.2 130.3,12.7 131.0,12.2 132.6,11.6 133.5,11.9 135.5,12.0 136.9,12.3 136.0,13.4 135.5,15.0M141.4,15.0 141.6,12.6 142.5,10.7 143.4,12.5 143.8,14.0 144.5,14.3 145.3,15.0M124.0,15.0 125.0,14.5 126.0,14.0 127.0,13.9 128.2,14.9 129.0,15.0M120.6,-18.5 122.2,-18.5 122.3,-17.0 121.6,-15.9 121.6,-14.9 121.8,-14.0 122.6,-14.2 123.1,-13.7 124.0,-13.0 123.0,-13.0 122.0,-13.8 120.6,-14.2 120.6,-14.8 120.0,-16.3 120.4,-17.5 120.6,-18.5M122.0,-7.0 123.0,-7.7 123.8,-7.8 124.5,-8.5 125.5,-9.8 126.3,-8.0 126.5,-7.0 125.5,-5.8 124.2,-6.2 124.0,-7.2 122.0,-7.0M124.5,-11.0 125.8,-11.0 125.5,-12.6 124.3,-12.5 124.5,-11.0M124.3,-10.0 125.3,-10.2 125.0,-11.3 124.3,-11.6 124.3,-10.0M122.0,-10.5 123.0,-11.0 122.5,-11.8 122.0,-11.5 122.0,-10.5M122.4,-9.0 123.3,-9.3 123.5,-10.8 122.8,-10.6 122.4,-9.0M123.3,-9.5 124.1,-11.2 123.8,-10.3 123.3,-9.5M120.3,-13.5 121.5,-13.2 121.2,-12.2 120.3,-13.5M117.2,-8.4 118.5,-9.4 119.8,-11.5 119.3,-10.5 117.9,-9.2 117.2,-8.4M204.2,-19.8 204.9,-19.3 205.0,-19.8 204.4,-20.2 204.2,-19.8M203.3,-20.9 203.9,-20.7 203.5,-20.6 203.3,-20.9M193.0,-70.0 193.3,-69.0 193.2,-68.3 194.5,-68.0 196.0,-67.6 197.4,-66.9 196.0,-66.5 194.0,-66.3 192.0,-65.8 193.5,-64.6 195.5,-64.5 197.5,-64.4 198.5,-63.8 196.0,-63.3 195.0,-62.5 194.5,-61.5 195.5,-60.5 196.5,-59.5 198.5,-58.6 200.0,-58.7 202.5,-58.0 201.0,-57.2 199.0,-56.5 197.5,-55.6 196.0,-54.8 197.5,-54.9 199.0,-55.3 201.0,-55.9 203.5,-56.6 205.5,-57.5 206.5,-58.5 208.0,-59.2 208.5,-60.3 209.5,-61.0 210.0,-60.5 211.0,-60.0 212.5,-60.6 214.0,-60.4 216.0,-60.0 218.5,-59.9 220.3,-59.5 222.0,-58.7 223.5,-58.0 225.6,-58.3 225.5,-57.5 226.5,-56.5 227.5,-55.5 229.5,-54.8 229.7,-54.3 230.5,-53.0 231.5,-52.0 232.5,-51.0 233.0,-50.3 234.0,-49.8 235.0,-49.5 236.5,-48.8 237.0,-48.2 237.7,-47.6 236.6,-47.0 236.0,-46.2 236.0,-45.0 235.9,-43.4 235.8,-42.0 235.6,-40.4 236.5,-39.0 237.0,-38.3 237.6,-37.8 238.0,-37.0 238.9,-35.5 239.5,-34.5 240.5,-34.1 241.6,-33.7 242.5,-33.2 242.8,-32.7 243.3,-31.8 244.0,-30.5 244.6,-29.4 245.5,-28.3 246.0,-27.0 247.0,-26.0 248.0,-24.8 249.0,-24.0 250.1,-22.9 250.5,-23.5 249.7,-24.1 249.2,-25.5 248.3,-26.5 247.2,-27.5 246.8,-28.5 245.7,-29.8 245.2,-31.0 245.3,-31.8 246.3,-31.4 247.3,-30.8 248.0,-29.2 249.1,-27.9 250.3,-26.3 251.2,-25.3 252.0,-24.4 253.6,-23.2 254.5,-22.0 254.7,-21.3 254.8,-20.6 255.3,-19.6 255.7,-19.1 256.9,-18.2 258.0,-17.8 260.1,-16.8 261.8,-16.2 263.2,-15.8 264.8,-16.2 265.5,-16.0 266.8,-15.5 267.8,-14.7 268.5,-14.2 269.3,-13.9 271.0,-13.3 272.2,-13.2 272.8,-12.5 273.5,-11.8 274.3,-10.7 274.5,-9.9 275.5,-8.8 276.5,-8.3 277.5,-8.0 278.0,-7.3 279.0,-7.5 279.8,-8.2 280.0,-8.5M280.0,-9.4 279.0,-9.1 278.0,-9.3 277.0,-9.5 276.5,-10.5 276.3,-11.5 276.4,-13.0 276.5,-14.5 276.8,-15.1 276.0,-15.8 275.0,-15.9 274.0,-15.8 272.5,-15.8 271.8,-15.9 271.5,-16.8 271.8,-17.5 272.2,-18.5 272.6,-19.5 273.0,-21.0 273.2,-21.5 272.5,-21.5 270.5,-21.4 269.5,-20.7 269.5,-19.8 268.5,-18.7 267.5,-18.6 266.0,-18.5 265.5,-18.5 264.5,-18.7 263.9,-19.2 263.3,-20.0 262.8,-21.0 262.2,-22.3 262.3,-23.5 262.3,-25.0 262.6,-26.5 262.6,-27.8 263.0,-28.3 264.0,-28.8 265.2,-29.3 266.5,-29.7 267.5,-29.6 268.5,-29.5 269.5,-29.3 270.6,-29.1 270.9,-29.8 271.5,-30.3 272.0,-30.6 273.5,-30.3 274.5,-30.2 275.5,-30.0 276.0,-29.9 276.9,-29.0 277.3,-28.3 277.4,-27.5 277.8,-26.7 278.5,-25.5 279.1,-25.3 279.8,-25.4 280.0,-25.7M275.1,-21.9 276.0,-22.0 277.0,-22.6 278.0,-23.1 280.0,-23.2M280.0,-21.8 279.0,-21.7 278.0,-22.3 277.5,-22.0 276.3,-21.5 275.1,-21.9M265.8,-58.8 266.5,-57.8 267.8,-57.1 269.5,-56.9 271.0,-56.5 272.5,-55.3 274.0,-55.2 275.5,-55.0 277.5,-54.5 278.0,-53.8 278.3,-52.6 278.6,-51.6 279.2,-51.3 280.0,-51.4M280.0,-62.4 278.0,-62.5 276.0,-62.0 274.0,-62.7 273.0,-63.5 273.5,-64.0 271.5,-64.7 270.5,-64.0 269.0,-63.5 268.0,-62.3 266.5,-61.3 265.3,-60.0 265.5,-59.5 265.8,-58.8M280.0,-66.5 278.5,-66.3 276.5,-67.0 274.0,-68.0 272.0,-68.8 270.5,-68.5 270.0,-67.5 268.5,-67.9 268.0,-68.5 269.0,-69.5 270.5,-70.0M197.8,-70.0 200.0,-70.3M224.5,-70.0 223.5,-69.4 222.0,-69.1 221.0,-69.6 219.5,-69.8 218.5,-70.0M226.5,-70.0 227.5,-69.6 229.0,-69.5 230.5,-69.9M234.0,-70.0 235.5,-69.2 237.0,-69.4 239.5,-69.0 242.5,-68.7 245.0,-68.3 247.0,-67.9 249.0,-68.0 251.5,-67.8 253.0,-68.2 255.0,-67.8 256.5,-68.5 258.5,-68.2 260.0,-68.6 262.0,-69.0 263.5,-69.3 264.0,-70.0M267.8,-46.7 269.0,-46.9 270.0,-47.2 271.0,-47.9 272.0,-48.6 273.5,-48.7 275.0,-48.0 275.5,-47.0 275.4,-46.5 273.5,-46.6 272.0,-46.5 270.5,-46.8 269.5,-46.8 268.5,-46.6 267.8,-46.7M272.2,-41.7 272.8,-42.8 272.5,-44.0 272.8,-45.1 273.2,-45.9 274.2,-45.8 273.9,-44.9 273.6,-44.0 273.7,-43.0 273.5,-42.0 272.8,-41.6 272.2,-41.7M275.5,-45.9 277.0,-46.2 278.4,-46.0 279.3,-45.4 279.7,-44.6 278.4,-43.2 277.6,-43.0 277.5,-44.0 277.2,-45.0 276.3,-45.4 275.5,-45.9M276.8,-41.8 277.8,-41.5 279.0,-41.9 280.0,-42.5M280.0,-43.3 279.0,-43.4 280.0,-43.9M235.0,-65.5 237.0,-66.8 239.5,-66.9 241.0,-66.0 239.0,-65.2 237.0,-65.5 235.0,-65.5M243.5,-61.5 245.5,-61.8 247.0,-62.5 249.0,-62.7 251.0,-62.6 249.0,-62.1 246.5,-61.2 244.0,-61.0 243.5,-61.5M261.8,-50.7 262.2,-52.0 261.0,-52.5 260.5,-53.5 261.3,-53.8 263.0,-53.6 262.5,-52.0 262.5,-50.8 261.8,-50.7M103.7,-51.5 104.5,-51.8 106.5,-52.7 108.5,-54.0 109.6,-55.7 109.0,-55.8 108.0,-54.5 106.0,-53.0 104.0,-51.7 103.7,-51.5M31.6,1.0 32.5,-0.3 33.9,-0.1 34.6,0.4 34.0,1.0 33.8,2.5 32.2,2.8 31.6,1.0M30.0,3.5 30.5,5.5 30.8,6.8 31.2,8.5 30.6,8.7 30.1,7.0 29.6,5.5 29.3,4.0 30.0,3.5M34.0,9.5 34.5,10.5 34.6,11.8 35.0,12.8 35.3,14.3 34.8,14.0 34.3,12.3 34.0,11.0 34.0,9.5M35.7,-4.5 36.2,-3.5 36.1,-2.5 35.8,-3.5 35.7,-4.5M72.6,-66.6 69.5,-66.2 66.0,-65.8 65.3,-64.2 65.5,-62.7 67.0,-61.6 69.5,-61.0 72.5,-60.9 75.0,-60.8 77.5,-60.6 80.0,-59.8 82.0,-58.9 83.5,-57.5 84.2,-56.7M85.8,-70.2 86.2,-66.7 88.1,-65.6 87.3,-62.9 88.5,-62.3M88.1,-65.6 90.4,-65.2 91.9,-64.4M123.7,-70.2 123.2,-67.0 126.0,-64.5 128.6,-63.4 132.0,-62.8 134.7,-62.2 135.3,-60.4M128.6,-63.4 124.0,-62.2 120.0,-61.6 116.0,-60.5 112.7,-59.7M130.7,-47.5 132.5,-48.3 135.0,-48.5 136.5,-49.5 137.5,-51.0 139.0,-52.0 140.7,-53.0M114.0,-29.5 115.5,-29.8 116.5,-30.3 117.2,-31.0M274.0,-46.5 276.0,-46.3 277.5,-45.8 279.0,-45.5M36.9,-65.4 40.0,-64.6 41.5,-63.9 43.5,-62.9 44.9,-62.2M52.0,-67.6 53.5,-67.0 54.5,-66.2 56.7,-65.9M41.2,-57.9 43.5,-56.5 46.0,-56.2 49.2,-55.8M30.2,-60.8 31.0,-61.5 32.5,-61.3 32.8,-60.6 31.6,-60.1 30.6,-60.2 30.2,-60.8M34.6,-61.2 35.4,-62.6 36.3,-62.1 35.9,-61.3 35.2,-61.0 34.6,-61.2M280.0,-1.2 279.8,-0.5 279.4,0.8 279.1,2.2 279.8,3.2 279.0,4.5 278.8,6.0 279.5,7.5 280.0,8.3M240.0,-70.0 242.0,-69.3 245.0,-69.1 248.0,-69.3 250.0,-69.0 253.0,-69.2 255.0,-69.6 257.0,-70.0M261.5,-68.8 263.0,-68.6 264.0,-69.2 262.5,-69.6 261.5,-68.8M274.5,-64.8 276.0,-63.9 278.0,-64.2 280.0,-64.6M270.5,-65.0 272.5,-65.6 274.0,-66.2 275.5,-66.8M268.5,-63.3 270.5,-63.6 271.5,-64.0M153.6,-69.4 158.0,-69.8 162.0,-69.5 166.0,-69.0 170.5,-68.9 173.0,-69.5 175.5,-70.0M30.0,-22.0 31.4,-22.0 33.5,-22.0 36.9,-22.0M36.5,-14.3 36.6,-16.0 37.0,-17.0 38.6,-18.0M36.5,-14.3 37.5,-14.2 38.5,-14.5 40.0,-14.5 41.7,-13.2 42.4,-12.5M42.4,-12.5 41.8,-11.7 42.9,-11.0 43.2,-11.5M42.9,-11.0 44.0,-9.0 46.0,-8.0 48.0,-8.0 47.0,-6.5 45.0,-5.0 43.5,-4.8 42.0,-4.0M42.0,-4.0 41.0,-3.9 39.5,-3.4 38.0,-3.6 36.0,-4.5 35.5,-5.0M41.0,-3.9 41.0,-2.0 41.0,1.7M33.9,1.0 37.6,3.0 39.2,4.7M40.4,10.5 38.0,11.3 35.0,11.5M33.9,1.0 34.0,-1.0 35.0,-2.0 35.5,-5.0M30.0,1.0 31.6,1.0M33.9,9.4 32.9,9.3 31.3,8.6M33.9,9.4 33.2,10.8 33.0,12.5 32.9,14.0 34.0,14.5 35.3,14.3M35.3,14.3 35.8,16.0M30.0,-4.0 31.2,-3.8 33.5,-3.8 34.0,-4.6 35.5,-5.0M33.5,-12.0 34.2,-10.5 34.5,-8.0 33.0,-7.8 34.0,-5.0 35.5,-5.0M30.0,-9.5 31.5,-9.8 32.8,-11.9 33.5,-12.0M33.5,-12.0 34.8,-13.0 36.0,-12.7 36.5,-14.3M34.2,-31.3 34.9,-29.5M35.5,-33.0 35.6,-32.5 35.5,-31.0 35.0,-29.5M35.9,-35.3 36.5,-34.6 36.0,-33.5 35.8,-33.3M35.6,-32.7 36.8,-32.3 38.8,-33.4M36.2,-36.6 36.8,-36.8 38.5,-36.8 40.5,-37.0 42.3,-37.2M38.8,-33.4 41.0,-34.4 41.2,-36.5 42.3,-37.2M38.8,-33.4 39.2,-32.2 37.0,-31.5 38.0,-30.5 37.5,-30.0 36.1,-29.2 34.9,-29.3M39.2,-32.2 42.0,-31.1 44.7,-29.2 46.5,-29.1 47.7,-28.5 48.4,-28.5M46.5,-29.1 47.4,-30.0 48.0,-30.0M42.3,-37.2 44.3,-37.1 44.8,-37.2 45.5,-35.9 46.1,-35.1 45.7,-34.0 47.5,-33.0 47.8,-31.5 48.0,-30.5 48.5,-30.0M44.3,-37.1 44.8,-39.7 44.4,-40.0 43.6,-41.1 42.5,-41.5 41.6,-41.6M44.8,-39.7 46.5,-38.9 48.0,-38.8 48.9,-38.4M43.6,-41.1 45.0,-41.2 46.5,-41.1 46.5,-41.9 46.2,-42.9 44.5,-42.7 42.5,-43.2 40.0,-43.4M46.5,-41.9 48.5,-41.8M43.3,-12.7 43.5,-13.5 43.9,-16.5 45.0,-17.3 47.0,-16.9 48.5,-18.0 52.0,-19.0 53.1,-16.6M52.0,-19.0 55.0,-22.0 55.2,-22.7 55.6,-24.0 56.4,-24.9M51.6,-24.3 52.5,-24.0 55.0,-22.0M50.8,-25.0 51.6,-24.3M54.0,-37.4 55.5,-38.0 57.3,-38.0 59.5,-37.3 60.5,-36.7 61.2,-36.6M61.2,-36.6 60.6,-35.0 60.9,-34.3 60.5,-33.7 60.9,-32.5 60.6,-31.5 61.7,-31.4 60.9,-29.8M60.9,-29.8 61.8,-28.6 62.8,-28.2 62.8,-27.4 63.2,-26.6 61.8,-26.2 61.6,-25.2M60.9,-29.8 62.5,-29.4 64.5,-29.5 66.3,-29.9 66.5,-31.0 68.0,-31.6 69.3,-31.9 69.5,-33.0 70.3,-33.4 69.9,-34.0 71.1,-34.7 71.5,-35.6 71.2,-36.1 72.6,-36.8 74.0,-36.8 74.8,-37.0M61.2,-36.6 62.3,-35.3 64.5,-36.3 65.5,-37.3 66.5,-37.4 67.8,-37.2 68.5,-37.5 70.0,-37.5 71.0,-38.0 71.5,-37.1 73.0,-37.4 74.8,-37.0M52.9,-41.9 55.5,-41.3 56.0,-41.3 57.0,-41.3 58.5,-42.7 60.0,-42.0 61.0,-41.2 62.0,-40.5 63.5,-39.4 65.0,-38.5 66.5,-38.0 66.5,-37.4M53.5,-41.5 52.9,-41.9M55.9,-45.0 56.0,-41.3M55.9,-45.0 58.5,-45.6M61.0,-44.4 62.0,-43.5 64.9,-43.7 66.1,-43.0 66.0,-42.0 68.0,-41.0 69.0,-41.5 70.4,-42.3 71.0,-42.3M71.0,-42.3 73.5,-42.5 75.0,-42.8 77.0,-42.9 79.0,-42.8 80.2,-42.1M68.5,-37.5 68.9,-38.5 67.4,-39.1 68.5,-39.5 69.5,-40.1 70.5,-39.6 71.7,-39.4 73.6,-39.5M70.6,-41.0 71.0,-40.3 71.8,-40.1 73.0,-40.9 71.9,-41.4 70.6,-41.0M73.6,-39.5 73.5,-38.5 74.8,-37.0M73.6,-39.5 74.8,-40.4 76.5,-40.4 78.5,-41.5 80.2,-42.1M80.2,-42.1 80.1,-42.8 80.8,-43.2 80.2,-44.9 82.6,-45.2 83.0,-47.2 85.1,-47.0 85.7,-48.3 86.8,-49.1 87.4,-49.1M46.5,-48.5 47.3,-49.2 47.0,-50.0 48.6,-50.6 50.8,-51.7 52.3,-51.7 55.7,-50.6 57.5,-51.0 59.9,-50.8 61.3,-50.8 61.5,-51.3 60.2,-52.0 60.9,-52.5 60.0,-53.0 61.7,-53.9 65.2,-54.4 69.2,-55.4 71.0,-54.1 73.4,-53.5 74.4,-53.6 76.8,-54.5 79.0,-52.4 82.0,-50.7 83.4,-51.0 85.0,-50.0 87.4,-49.1M46.5,-48.5 47.5,-47.3 48.5,-46.5 47.9,-46.0M87.4,-49.1 89.0,-49.6 90.7,-50.3 92.2,-50.8 94.1,-50.5 95.8,-50.0 97.3,-49.7 98.2,-50.4 97.8,-51.0 99.0,-52.0 101.0,-51.5 102.1,-51.3 102.6,-50.3 104.6,-50.3 106.9,-50.3 108.5,-49.3 110.7,-49.1 113.0,-49.6 114.4,-50.2 116.7,-49.9M87.4,-49.1 88.2,-48.5 90.0,-47.9 91.0,-46.9 90.3,-45.7 93.5,-44.9 95.3,-44.2 96.4,-42.7 100.8,-42.7 104.0,-41.6 105.0,-41.6 107.0,-42.4 110.4,-42.9 111.9,-43.7 111.4,-44.4 112.0,-45.1 114.5,-45.3 116.0,-46.7 117.4,-46.7 118.0,-47.0 119.7,-46.7 119.0,-47.5 117.3,-47.7 116.0,-48.5 116.7,-49.9M116.7,-49.9 117.9,-49.5 119.3,-50.1 119.3,-50.9 120.2,-51.6 121.0,-52.5 122.5,-53.4 125.0,-53.2 126.6,-52.8 127.5,-50.5 128.2,-49.6 130.7,-48.9 130.7,-47.5 132.5,-47.8 134.0,-48.3 134.6,-47.6 133.9,-46.3 133.1,-44.9 131.3,-44.9 131.0,-43.0 130.6,-42.4M130.6,-42.4 129.6,-42.4 128.0,-42.0 126.9,-41.8 125.0,-40.5 124.4,-40.0M124.7,-38.0 126.2,-37.7 127.0,-38.2 128.4,-38.6M74.8,-37.0 75.9,-36.7 77.5,-35.5 78.0,-35.3 78.8,-34.3 79.2,-32.5 78.5,-32.6 79.0,-31.1 80.0,-30.8 81.1,-30.2M74.8,-37.0 75.5,-35.9 75.0,-34.5 74.0,-33.4 74.8,-32.5 74.4,-31.0 73.9,-30.0 72.9,-28.9 71.8,-27.9 70.6,-27.9 69.5,-26.7 70.2,-26.0 70.2,-24.8 69.1,-24.3 68.3,-23.7M81.1,-30.2 80.1,-28.8 81.0,-28.4 82.5,-27.4 84.0,-27.4 85.3,-26.7 86.8,-26.4 88.1,-26.4 88.2,-27.8 87.0,-28.0 85.9,-28.2 84.2,-28.8 82.0,-30.1 81.1,-30.2M88.8,-27.3 89.6,-28.1 91.0,-28.0 92.0,-27.5 91.7,-26.8 90.0,-26.8 88.8,-27.3M88.2,-27.8 88.8,-27.3M92.0,-27.5 93.5,-28.7 95.5,-29.0 96.2,-29.4 97.3,-28.3 97.4,-27.9M88.1,-26.4 88.8,-26.3 89.4,-25.9 88.5,-25.5 88.2,-24.5 88.7,-24.2 88.6,-22.9 89.0,-22.0M89.4,-25.9 90.5,-25.2 92.0,-25.2 92.4,-24.3 91.9,-24.1 91.6,-23.0 92.1,-23.6 92.4,-22.0 92.6,-21.3M92.4,-22.0 93.2,-22.3 93.3,-23.0 93.4,-24.1 94.2,-23.9 94.6,-25.2 95.3,-26.6 96.4,-27.3 97.1,-27.1 97.4,-27.9M97.4,-27.9 98.3,-27.5 98.7,-26.2 97.7,-24.8 97.7,-23.9 98.9,-24.1 99.5,-22.9 99.2,-22.1 100.1,-21.6 101.2,-21.4M101.2,-21.4 101.8,-22.4 102.2,-22.5 103.0,-22.4 104.5,-22.8 105.3,-23.3 106.7,-22.8 106.6,-22.2 107.9,-21.6M100.1,-21.6 100.5,-20.4 100.1,-20.4 99.5,-20.2 98.5,-19.7 97.8,-18.6 97.4,-18.4 97.8,-17.6 98.5,-16.8 98.9,-16.2 98.5,-15.3 99.1,-13.8 99.2,-12.8 99.7,-11.2 98.9,-10.0 98.6,-9.9M100.5,-20.4 101.3,-19.5 101.0,-17.6 102.1,-18.1 103.2,-18.0 104.7,-17.4 104.8,-16.4 105.6,-15.6 105.5,-14.3M101.2,-21.4 102.2,-22.0 102.4,-21.4 103.2,-20.8 104.4,-20.8 104.8,-19.9 104.2,-19.6 105.1,-18.7 106.0,-17.9 106.6,-17.0 107.3,-15.9 107.6,-15.2 107.4,-14.2M105.5,-14.3 106.5,-14.6 107.4,-14.2M105.5,-14.3 104.3,-14.4 102.9,-14.2 102.6,-12.2 102.3,-12.1M107.4,-14.2 107.5,-12.3 106.0,-11.2 105.1,-10.9 104.4,-10.4M100.4,-6.5 101.0,-6.3 101.8,-5.8 102.1,-6.2M109.6,-2.0 111.0,-1.0 112.5,-1.4 114.2,-1.4 114.8,-2.3 115.5,-3.2 115.6,-4.0 117.0,-4.3 117.9,-4.1M141.0,2.6 141.0,6.0 140.9,6.9 141.0,9.2M124.9,9.1 125.1,9.4M219.0,-70.0 219.0,-60.3M219.0,-60.3 220.5,-60.0 222.0,-59.8 223.5,-59.3 224.6,-59.5 225.8,-59.0 226.8,-58.3 227.7,-56.6 229.0,-56.0 229.9,-55.5M236.9,-49.0 240.0,-49.0 245.0,-49.0 250.0,-49.0 255.0,-49.0 260.0,-49.0 264.8,-49.0 265.0,-49.4 265.5,-48.9 267.5,-48.2 268.3,-48.0M272.5,-46.5 276.0,-46.3 277.6,-45.0 277.6,-43.0M242.9,-32.5 245.0,-32.7 245.2,-32.2 248.9,-31.3 251.9,-31.3 251.9,-31.8 253.5,-31.8 253.5,-31.2 255.5,-30.0 256.6,-29.5 258.0,-29.8 259.3,-29.0 260.0,-27.8 260.8,-26.4 262.6,-25.9M267.8,-14.7 267.8,-16.1 268.9,-16.1 268.6,-17.8 270.8,-17.8 270.8,-17.0M270.8,-15.8 270.8,-17.8M269.7,-14.0 270.3,-14.5 270.5,-15.6 271.8,-15.9M270.3,-14.5 271.4,-14.4 272.2,-13.2M272.7,-13.0 273.3,-13.7 274.4,-14.0 275.0,-14.8 276.8,-15.0M274.3,-11.1 275.2,-11.0 276.3,-10.9M277.3,-8.5 277.6,-9.6M30.0,-67.5 30.1,-65.7 29.8,-64.8 30.5,-64.2 30.0,-63.5 31.5,-62.9 30.0,-61.7M30.0,-55.9 31.8,-55.7 32.7,-53.4 31.8,-52.1M30.0,-51.5 31.8,-52.1 34.4,-51.8 35.4,-50.6 38.2,-50.1 40.1,-49.6 40.1,-48.3 38.8,-47.8 38.2,-47.1" fill="none" stroke="#000" stroke-width="0.337" stroke-linejoin="round"/></g>
</g>
<rect x="28.20" y="43.50" width="534.50" height="181.30" fill="none" stroke="#2a2a2a" stroke-width="1.2"/>
<text x="38.58" y="236.40" font-size="8.8" fill="#222" textLength="22.0" lengthAdjust="spacingAndGlyphs">40°E</text>
<text x="81.34" y="236.40" font-size="8.8" fill="#222" textLength="22.0" lengthAdjust="spacingAndGlyphs">60°E</text>
<text x="124.10" y="236.40" font-size="8.8" fill="#222" textLength="22.0" lengthAdjust="spacingAndGlyphs">80°E</text>
<text x="164.36" y="236.40" font-size="8.8" fill="#222" textLength="27.0" lengthAdjust="spacingAndGlyphs">100°E</text>
<text x="207.12" y="236.40" font-size="8.8" fill="#222" textLength="27.0" lengthAdjust="spacingAndGlyphs">120°E</text>
<text x="249.88" y="236.40" font-size="8.8" fill="#222" textLength="27.0" lengthAdjust="spacingAndGlyphs">140°E</text>
<text x="292.64" y="236.40" font-size="8.8" fill="#222" textLength="27.0" lengthAdjust="spacingAndGlyphs">160°E</text>
<text x="339.75" y="236.40" font-size="8.8" fill="#222" textLength="18.3" lengthAdjust="spacingAndGlyphs">180°</text>
<text x="376.86" y="236.40" font-size="8.8" fill="#222" textLength="29.6" lengthAdjust="spacingAndGlyphs">160°W</text>
<text x="419.62" y="236.40" font-size="8.8" fill="#222" textLength="29.6" lengthAdjust="spacingAndGlyphs">140°W</text>
<text x="462.38" y="236.40" font-size="8.8" fill="#222" textLength="29.6" lengthAdjust="spacingAndGlyphs">120°W</text>
<text x="505.14" y="236.40" font-size="8.8" fill="#222" textLength="29.6" lengthAdjust="spacingAndGlyphs">100°W</text>
<text x="12.00" y="195.71" font-size="8.8" fill="#222" textLength="11.6" lengthAdjust="spacingAndGlyphs">0°</text>
<text x="1.20" y="153.05" font-size="8.8" fill="#222" textLength="22.4" lengthAdjust="spacingAndGlyphs">20°N</text>
<text x="1.20" y="110.39" font-size="8.8" fill="#222" textLength="22.4" lengthAdjust="spacingAndGlyphs">40°N</text>
<text x="1.20" y="67.73" font-size="8.8" fill="#222" textLength="22.4" lengthAdjust="spacingAndGlyphs">60°N</text>
<text x="34.80" y="71.00" font-size="32" font-weight="bold" fill="#000" stroke="#000" stroke-width="0.7" textLength="13.5" lengthAdjust="spacingAndGlyphs">a</text>
<rect x="574.00" y="214.47" width="12.30" height="8.94" fill="#ffffff"/>
<rect x="574.00" y="205.83" width="12.30" height="8.94" fill="#fefbd0"/>
<rect x="574.00" y="197.19" width="12.30" height="8.94" fill="#fdf530"/>
<rect x="574.00" y="188.56" width="12.30" height="8.94" fill="#fce81e"/>
<rect x="574.00" y="179.93" width="12.30" height="8.94" fill="#fcd23a"/>
<rect x="574.00" y="171.29" width="12.30" height="8.94" fill="#fcbc4e"/>
<rect x="574.00" y="162.66" width="12.30" height="8.94" fill="#fca564"/>
<rect x="574.00" y="154.02" width="12.30" height="8.94" fill="#fc9070"/>
<rect x="574.00" y="145.38" width="12.30" height="8.94" fill="#fc7c80"/>
<rect x="574.00" y="136.75" width="12.30" height="8.94" fill="#fb6c98"/>
<rect x="574.00" y="128.12" width="12.30" height="8.94" fill="#f05ab0"/>
<rect x="574.00" y="119.48" width="12.30" height="8.94" fill="#d848c0"/>
<rect x="574.00" y="110.84" width="12.30" height="8.94" fill="#c040d0"/>
<rect x="574.00" y="102.21" width="12.30" height="8.94" fill="#a030e0"/>
<rect x="574.00" y="93.57" width="12.30" height="8.94" fill="#8a20ee"/>
<rect x="574.00" y="84.94" width="12.30" height="8.94" fill="#6a18f8"/>
<rect x="574.00" y="76.31" width="12.30" height="8.94" fill="#4a14fc"/>
<rect x="574.00" y="67.67" width="12.30" height="8.94" fill="#2a12fe"/>
<rect x="574.00" y="59.03" width="12.30" height="8.94" fill="#1a16e4"/>
<rect x="574.00" y="50.40" width="12.30" height="8.94" fill="#1c1cc0"/>
<polygon points="574.00,50.70 580.15,40.80 586.30,50.70" fill="#1e1e98"/>
<polygon points="574.00,50.40 580.15,40.80 586.30,50.40 586.30,223.10 580.15,232.60 574.00,223.10" fill="none" stroke="#bbbbbb" stroke-width="0.8"/>
<line x1="586.30" y1="223.10" x2="588.10" y2="223.10" stroke="#444" stroke-width="0.6"/>
<text x="588.90" y="225.60" font-size="7.4" fill="#333" textLength="3.6" lengthAdjust="spacingAndGlyphs">0</text>
<line x1="586.30" y1="197.19" x2="588.10" y2="197.19" stroke="#444" stroke-width="0.6"/>
<text x="588.90" y="199.69" font-size="7.4" fill="#333" textLength="3.6" lengthAdjust="spacingAndGlyphs">3</text>
<line x1="586.30" y1="171.29" x2="588.10" y2="171.29" stroke="#444" stroke-width="0.6"/>
<text x="588.90" y="173.79" font-size="7.4" fill="#333" textLength="3.6" lengthAdjust="spacingAndGlyphs">6</text>
<line x1="586.30" y1="145.38" x2="588.10" y2="145.38" stroke="#444" stroke-width="0.6"/>
<text x="588.90" y="147.88" font-size="7.4" fill="#333" textLength="3.6" lengthAdjust="spacingAndGlyphs">9</text>
<line x1="586.30" y1="119.48" x2="588.10" y2="119.48" stroke="#444" stroke-width="0.6"/>
<text x="588.90" y="121.98" font-size="7.4" fill="#333" textLength="7.3" lengthAdjust="spacingAndGlyphs">12</text>
<line x1="586.30" y1="93.58" x2="588.10" y2="93.58" stroke="#444" stroke-width="0.6"/>
<text x="588.90" y="96.08" font-size="7.4" fill="#333" textLength="7.3" lengthAdjust="spacingAndGlyphs">15</text>
<line x1="586.30" y1="67.67" x2="588.10" y2="67.67" stroke="#444" stroke-width="0.6"/>
<text x="588.90" y="70.17" font-size="7.4" fill="#333" textLength="7.3" lengthAdjust="spacingAndGlyphs">18</text>
<text x="573.60" y="137.00" font-size="9.6" fill="#222" textLength="62" lengthAdjust="spacingAndGlyphs" transform="rotate(-90 604.60 137.00)">Frequency (%)</text>
</g>
<clipPath id="clipb"><rect x="28.20" y="262.40" width="534.50" height="181.30"/></clipPath>
<g>
<g clip-path="url(#clipb)">
<line x1="49.58" y1="262.40" x2="49.58" y2="443.70" stroke="#ececec" stroke-width="0.6"/>
<line x1="92.34" y1="262.40" x2="92.34" y2="443.70" stroke="#ececec" stroke-width="0.6"/>
<line x1="135.10" y1="262.40" x2="135.10" y2="443.70" stroke="#ececec" stroke-width="0.6"/>
<line x1="177.86" y1="262.40" x2="177.86" y2="443.70" stroke="#ececec" stroke-width="0.6"/>
<line x1="220.62" y1="262.40" x2="220.62" y2="443.70" stroke="#ececec" stroke-width="0.6"/>
<line x1="263.38" y1="262.40" x2="263.38" y2="443.70" stroke="#ececec" stroke-width="0.6"/>
<line x1="306.14" y1="262.40" x2="306.14" y2="443.70" stroke="#ececec" stroke-width="0.6"/>
<line x1="348.90" y1="262.40" x2="348.90" y2="443.70" stroke="#ececec" stroke-width="0.6"/>
<line x1="391.66" y1="262.40" x2="391.66" y2="443.70" stroke="#ececec" stroke-width="0.6"/>
<line x1="434.42" y1="262.40" x2="434.42" y2="443.70" stroke="#ececec" stroke-width="0.6"/>
<line x1="477.18" y1="262.40" x2="477.18" y2="443.70" stroke="#ececec" stroke-width="0.6"/>
<line x1="519.94" y1="262.40" x2="519.94" y2="443.70" stroke="#ececec" stroke-width="0.6"/>
<line x1="28.20" y1="411.71" x2="562.70" y2="411.71" stroke="#ececec" stroke-width="0.6"/>
<line x1="28.20" y1="369.05" x2="562.70" y2="369.05" stroke="#ececec" stroke-width="0.6"/>
<line x1="28.20" y1="326.39" x2="562.70" y2="326.39" stroke="#ececec" stroke-width="0.6"/>
<line x1="28.20" y1="283.73" x2="562.70" y2="283.73" stroke="#ececec" stroke-width="0.6"/>
<path fill="#ffffd1" fill-rule="evenodd" d="M50.3 448l3.6 0.5 24.5 0 4.3-0.5 1.8-1.1 0.1-2.1 -1.9-8.3 -5.3-5.4 -5-6.6 -1.7-5.3 -0.1-3.2 1.4-2.6 2.8-1.7 16.5-3.7 4.2-0.2 8.5 0.7 16.1 2.7 25.7 0 25.6-1.1 16.1 1.8 12.8-5.5 28.9-3.4 20.3-4.2 20.3-2.3 19.2-3.8 3.2-1.2 16.1-8.4 2.1-0.7 25.7-0.9 13.9-2.2 20.3-1 20.3-0.2 35.3 1.2 39.5-1.1 16.1-1.5 1.8-1.3 2.4-3.1 2.2-3.3 0.5-2.1 -1.6-14.9 -2.1-12.8 -6.5-30.9 -1.4-2.2 -16.7-10.2 -11.8-6.5 -3.2-1.1 -20.3-4.3 -9.6-1.5 -33.2-2.6 -23.5-3.6 -21.4-0.9 -8.5 1.4 -88.7 9.1 -30 5.9 -2.1 1.3 -3.2 3 -9 9 -1.6 2.1 -5.8 13.9 -3.9 18.4 -2.2 3.6 -3.2 2.6 -12.8 1.2 -24.6-0.2 -17.1-2.3 -17.1 2 -2.6-0.8 -11.3-6.4 -12.8-4.5 -12.8-1.1 -11.8 2.6 -2.1 1 -2.2 1.9 -11.7 12.8 -11.5 4.3 -1.3 1.1 -0.2 1.1 0.3 7.4 1.2 1.1 9.3 4.5 6.4 5.4 1.5 1.8 0.7 2 4.7 24.7 -2.3 21.3 0.1 19.2 0.3 1.1 1.1 1.1zM61.3 383l-2.1-0.7 -2.4-1.5 -1.6-2.2 0.2-2.1 2.7-2.9 2.2-1.2 4.2-1.3 10.7-1.9 3.2 0.1 0.4 0.8 -1.2 3.2 -5.6 6.6 -5.3 2.3 -5.4 0.8z"/>
<path fill="#fff7be" fill-rule="evenodd" d="M55.9 445.8l19.6 0 1.9-0.1 1.7-0.9 -0.7-7.5 -7.7-11.7 -1.5-5.4 -0.3-4.2 1.5-3.2 2.7-2.8 3.2-1.3 8.6-2.4 13.9-1 17.1 2 37.4 0.2 24.6-1 8.5-0.8 41.7-7 21.4-5.9 20.3-1.8 18.2-3 3.2-1 17.1-7.7 3.2-0.7 59.8-4 57.8-0.2 21.4 1.1 16-1.1 6.8-4.3 1.7-1.7 4.2-12.2 1-17 -3.1-17.1 -5.9-12.8 -8.1-8.5 -3-2.5 -7.5-4.3 -8.6-3.3 -28.8-6.9 -34.2-0.7 -31-3.3 -12.9 0.2 -20.3 1.1 -20.3 2.8 -24.6 4.6 -50.2 8.1 -12.8 4.2 -2.2 1.5 -7.5 7.2 -3.2 4.1 -5.3 9.4 -6.1 18.3 -2.4 3.2 -3.3 2.2 -12.8 1.6 -22.4 0.4 -19.3-1.6 -17.1 2.1 -3.2-0.8 -12.8-6 -10.7-3.4 -12.8-1 -8.8 2.3 -3 1.2 -5.4 4.5 -5.3 6.8 -1.1 2.4 0.6 6.4 4.3 17 3.2 16 1.3 9.6 0.4 4.3 -1.5 18.1 0.2 17.1 0.1 1.1 1.1 0.7 2 0.3zM59.2 384.1l-5.3-3.3 -0.9-2.2 0.2-3.2 0.7-1 4.2-3.7 3.2-2.2 4.3-1.1 9.6-0.8 5.4 0.6 1 0.8 -3 5.3 -6.6 8.5 -6.4 2.3 -4.3 0.5 -2.1-0.5z"/>
<path fill="#fff0ac" fill-rule="evenodd" d="M61 416l1.4 0.5 1.1-0.7 6.7-6.2 2.9-2 11.8-3.9 14.9-1.4 13.9 0.8 42.8 1.1 13.9-0.4 17.1-1.8 13.9-2.3 33.1-11.6 15-3.3 19.2-1.6 19.3-2.4 4.2-1.1 15-5.9 4.3-0.9 57.7-4.2 21.4 0.6 58.8-2.5 11.7-1.8 3.3-1.3 2.4-2.1 4-7.2 2.9-7.7 1-6.4 0.1-6.4 -0.2-4.3 -1.2-6.4 -2.3-7.5 -2.6-5.3 -5.5-7.5 -5-4.2 -7.4-4.3 -6.6-2.3 -10.7-3 -19.2-4.5 -23.5-0.2 -20.3 0.7 -21.4-0.3 -31 2.5 -22.5 3.8 -28.8 7.4 -41 7.6 -12.5 4 -9.6 5.8 -6.4 5.1 -3.2 3.8 -4.3 6.6 -3 7.8 -1.7 3.2 -1.8 2.1 -3.1 2.4 -13.9 2.2 -16 0.3 -7.5 0.9 -18.2 0.1 -18.2 4 -17.1-1.4 -3.2 0.2 -3.1 0.9 -0.6 1.1 0 1 1.9 9.6 -0.3 2.2 -3.2 3.6 -7.5 10.8 -3.2 2.3 -9.6 5.2 -1.5 1.5 -1.7 8.6 -0.2 3.2 2.5 9.6 1.6 3.2z"/>
<path fill="#ffe79a" fill-rule="evenodd" d="M63.6 407.4l0.9 0.8 1.1 0.1 7.5-3.4 10.7-3.8 17.1-2.5 19.2-0.1 32.1 2 16 0.2 23.8-2.9 8.3-1.8 29.9-15.8 20.4-3.2 38.4-3.2 21.4-6.6 58.8-4.5 22.5 1.4 37.4-3.3 21.4-3.3 9.6-3.3 4.3-4.9 4.1-5.8 2.2-12.8 -2.1-13.6 -2.4-5.6 -4.5-7.5 -3.6-3.2 -6.3-4.3 -5.4-2.1 -14.1-4.3 -17.9-4.2 -24.9-0.2 -20.3 2.6 -38.5 3.4 -22.4 3.4 -18.2 4.3 -21.4 7.6 -39.5 8.4 -27.8 9.3 -3.2 1.8 -6.4 5.9 -6.9 11.1 -3.5 3.2 -2.1 1 -14.1 2.2 -15.1 0.3 -16.1 2.3 -8.5 1.8 -11.8 4.5 -14.9 3.5 -6.5 2 -5.3 3.2 -5.3 4.7 -4.3 5.8 -3 4.9 -7.8 9.6 -5.1 9.6 0.1 2.1 2 3.2z"/>
<path fill="#fedf88" fill-rule="evenodd" d="M72.7 400l3.6 0.6 2.1-0.4 5.4-2.2 23.6-7.6 3.6-2.2 4.8-4.2 4.3-5.4 -0.5-1 -8.3-3.2 -10.4-2 -5.4 0.3 -6.4 2.6 -3.2 2 -5.3 4.3 -8.8 10.9 -1 2.1 -0.3 3.2 0.5 1.1 1.7 1.1zM163.1 394.6l7.3 0.9 13.9-0.7 13.9-2.5 4.2-1.8 15-9.9 8.6-5 3.2-1.5 3.2-0.9 55.6-4.4 23.5-5.2 57.7-4.5 21.4 0.6 59.9-6.3 3.4-1.4 3.4-2.1 5.2-5.4 1.9-2.9 2.7-13.1 -0.1-3.2 -1.6-6.9 -2.1-5.7 -2.2-3.2 -4.2-4.4 -6.4-4.5 -18.2-6.7 -20.3-4.4 -22.5-1.4 -20.3 4.7 -21.4 0.7 -18.1 1.7 -21.4 2.8 -17.1 5.3 -21.4 8.1 -21.4 4.9 -17.1 4.6 -28.9 9.4 -8.5 4.9 -4.3 3.8 -4.9 5.5 -4.7 3.5 -13.9 2.3 -17.1 0.7 -8.4 2 -5.7 3.2 -3.2 3.2 -4.6 6.4 -6.7 11.8 0.1 1 1.8 0.7 13.1 7.9 4 1.7 13.9 4.3 9.8 1.4z"/>
<path fill="#fed076" fill-rule="evenodd" d="M77.7 394.6l0.7 0.7 2.2-0.6 7.1-3.3 9.6-5.3 1.1-1.1 -0.3-1 -1.5-0.9 -1.1 0 -9.6 4.1 -3.1 2.1 -5.1 5.3zM168.4 389.3l4.1 0.8 12.8-0.1 13.9-2.7 17.1-11.9 10.8-6.4 4.2-1.5 19.3-0.4 35.2-2.7 24.6-3.8 57.7-4.6 21.4-0.6 39.6-5.1 20.3-0.7 3.3-1.9 6.9-6.4 3.7-11.6 0.4-4.4 -2.6-8.2 -1.6-3.5 -4.8-4.1 -5.3-3.6 -19.3-7.3 -35.2-6.3 -4.3-0.6 -2.1 0.3 -19.3 5.5 -20.3-0.8 -39.6 3.6 -39.5 15.3 -20.3 5 -19.3 6.2 -16 5.9 -16 4.6 -8.6 4 -6.5 5.4 -3.1 1.8 -13.9 2.3 -16 0.8 -4.3 0.9 -4.2 1.6 -2 2.1 -1.1 2.2 -0.3 2.1 0.4 6.4 1.4 4.3 4.7 7.4 2.2 2.1 9.6 5.3 11.9 3.3z"/>
<path fill="#fec065" fill-rule="evenodd" d="M173.3 381.8l12 0.7 11.8-1.1 15-7 16-8.7 3.2-1 58.8-3.8 19.2-2.7 21.4-1.7 19.3-2.3 39.5-3.2 39.6-5.2 18.1-1.7 4.3-1.8 3.4-3.1 4.4-11.7 0.2-3.2 -1.6-4.3 -2.3-4.3 -3.1-3.2 -4.2-2.3 -19.2-6.6 -37.4-6.6 -3.2 0.1 -18.2 4.4 -21.4-1 -38.5 3.1 -39.5 15.4 -21.4 5.5 -20.3 6.8 -15 6.8 -13.9 2.3 -9.6 3 -10.7 5.6 -13.9 2.3 -16 1.1 -4.3 1.1 -2.7 1.7 -1.9 4.2 0.9 6.4 1.6 3.1 4.2 5.2 3.2 2 7.5 2.4 14.7 3.3z"/>
<path fill="#feb05a" fill-rule="evenodd" d="M182.3 375.4l12.7 0.7 6.4-1.1 10.7-3.2 16-8.2 3.2-0.9 23.5-2.2 35.3-2.2 19.2-2.4 20.4-1.7 20.3-3.1 21.3-1.7 63.1-8.8 12.5-2.5 2.8-1 0.9-1.1 2-4.7 1.9-4.9 0.4-2.1 -1.2-2.8 -3-4.7 -1.3-1.3 -1.8-0.8 -18.5-5.9 -37.4-6.5 -3.2 0 -18.2 3.3 -20.3-1.2 -39.6 3.1 -38.9 14.6 -22 5.9 -19.3 6.3 -15.1 8.1 -15.9 1.1 -9.6 2.6 -9.6 3.5 -12.8 2.1 -17.1 1.8 -3.2 1 -1.8 1.7 -1.1 3.2 0.6 4.3 2 3.2 3.5 3.2 2.1 0.7 11.1 1.4 13.5 2.8 5.5 0.4z"/>
<path fill="#fda053" fill-rule="evenodd" d="M182.4 373.3l12.6 0.9 5.3-0.5 12.8-4 15-7.8 3.2-1 19.3-2 39.5-2.8 39.6-4.3 20.3-3.2 20.3-1.7 21.4-5 38.4-5 4.3-1.4 9.6-4.8 1.7-3.2 0.1-3.2 -1.2-2.2 -1.2-1 -9.1-5.4 -4.2-1.7 -17.1-4.1 -21.3-2.7 -3.2 0.1 -18.2 3.5 -20.3-1.9 -38.5 3 -3.2 0.7 -18.5 6.3 -17.3 5.4 -41.2 11.7 -15 7.5 -3.2 0.5 -12.8 0.7 -20.3 5.7 -28.9 3.9 -2.2 0.9 -1.7 2.1 -0.6 3.2 0.6 2.1 2.1 3.2 1.8 1.8 21.4 4.5 9.9 1.2z"/>
<path fill="#fd8b4c" fill-rule="evenodd" d="M186.3 372.2l9.7 0.9 5.4-0.9 11.7-3.8 15-8.2 3.2-1 19.3-1.9 39.5-2.9 39.6-5.2 20.3-3.4 20.3-2.3 20.3-6.8 37.4-5 2.6-1 4.8-4.3 -1.2-2.1 -3.4-3.2 -4.4-2.2 -14.3-4.2 -11.9-1.1 -10.7-0.6 -19.2 3.8 -21.4-3.1 -37.4 2.7 -3.2 0.6 -18.2 5.2 -20.3 4.9 -20.3 6 -18.2 4.6 -12.4 5.8 -3.4 1 -14.1 0.6 -10.7 3 -8.6 3.1 -29.9 3.8 -2.1 1.2 -0.7 1.1 -0.3 3.2 0.6 2.1 1.4 2.2 2.2 1.5 20.3 4.5 12.7 1.4z"/>
<path fill="#fd7044" fill-rule="evenodd" d="M187.5 371.2l7.5 0.8 3.2-0.1 10.7-3 6.4-2.5 6.4-3.5 6.4-4.3 3.2-1.2 58.8-4.5 41.7-7.4 13.9-3.6 3.9-1.6 8.4-7.5 1.6-2.1 0.1-1.1 -2.5-3.2 -4.1-3.2 -3.1-1.5 -6.4-1.6 -12.9-0.3 -20.3 1.2 -20.3 4.4 -20.3 3.7 -20.3 6.5 -19.3 4.1 -11.8 4.8 -4.2 0.7 -12.8 0.5 -11.8 3.4 -8.5 3.6 -26.8 2.8 -2.4 0.7 -0.8 1.1 -0.3 3.2 0.6 2.1 1.9 2.1 2.1 1.1 19.3 3.6 12.8 1.8z"/>
<path fill="#f8573d" fill-rule="evenodd" d="M187.2 370.1l9.9 1 10.7-2.7 8.5-3.3 8.6-5 3.2-2.8 4.3-1.5 57.7-4.3 21.2-4.8 19.5-5.4 11.5-4.2 1.4-1.1 0.4-1.1 0.7-5.3 -1.2-1.5 -3.3-1.8 -11.7-1.1 -19.3 0.5 -37.4 5 -4.1 1 -18.3 6.4 -19.3 3.2 -8.5 3.3 -7.5 1 -12.8 0.5 -10.7 3.1 -7.5 3.8 -3.2 1.1 -11.8 1.6 -12.2 0.5 -2.7 0.8 -1 1.4 -0.2 2.1 0.6 2.1 1.6 1.6 2.2 1.1 4.3 0.6 5.3-0.1 21.1 4.3z"/>
<path fill="#ee4137" fill-rule="evenodd" d="M193.2 370.1l3.9 0.2 3.2-0.5 13.9-4.3 7.3-3.9 6.6-5.2 4.3-1.7 19.2-2 39.6-3 5.6-2 6.6-3.2 5.4-5.3 1.6-2.1 0.2-1.1 -1.9-2.1 -2.6-1.4 -3.2-1 -6.4-1 -7.5 0.3 -17.1 2 -3.2 0.7 -19.2 6.9 -19.3 2.6 -8.5 2.5 -20.3 1 -10.7 3.2 -10.7 5.4 -8.6 2.2 -4.2 1.8 -5.4-1.6 -3.2-0.3 -3.2 0.6 -1.2 0.6 -0.6 1 0 2.2 0.6 1 3.3 2 4.3 0.1 4.3-2.1 1.1-0.1 3.6 2.3 6.6 2.1 9 2.2 6.8 1z"/>
<path fill="#e22e34" fill-rule="evenodd" d="M191.6 369l4.4 0.6 4.3-0.4 13.9-4.3 6.3-3.3 3.3-2.2 4.3-3.8 4.3-2.1 12.8-2.4 6.4-0.6 12.8-0.1 25.4-2.7 4.4-2.1 4.4-3.2 1.1-2.1 0.3-3.2 -1.3-1.6 -3.7-1.6 -4.9-0.5 -6.4 0.4 -13.9 2 -19.2 7.3 -4.3 0.8 -16.1 1.2 -7.4 1.1 -20.4 0.6 -12.8 3.8 -6.4 3.8 -10.3 5 -0.9 1.1 -0.1 1.1 0.5 1 5.7 3.2 7.3 2.2 6.2 1zM157.4 362.6l3.1 0 0.5-1 -1.3-1.3 -3.1 0.2 -0.3 1.1 1.1 1z"/>
<path fill="#d22338" fill-rule="evenodd" d="M190.1 368l5.9 0.8 4.3-0.3 9.3-2.7 5.6-2.1 8.6-5.1 5-4.5 1.8-2.1 -0.2-2.1 -2.4-2.2 -2-0.7 -7.5-0.3 -16.1 0.6 -12.1 3.6 -13.7 8.5 -0.8 2.2 0.5 1 2.7 2.2 2.5 1 8.6 2.2zM261.2 346.7l3.2 0.7 10.3-1.8 10-3.2 2.2-2.2 -0.4-1 -2.8-0.4 -10.7 1.5 -8.9 3.2 -2.5 2.1 -0.4 1.1z"/>
<path fill="#c0193c" fill-rule="evenodd" d="M189.6 366.9l5.4 1 5.3-0.2 13-4 6.3-3.2 3.2-2.1 4.6-5.4 0.1-2.1 -2.6-2.4 -5.3-1.1 -3.3-0.1 -12.8 0.4 -13.8 4.3 -8 5.3 -2.4 2.1 -0.5 1.1 0.1 1.2 2 2 8.7 3.2z"/>
<path fill="#a7193c" fill-rule="evenodd" d="M193.8 366.9l4.4 0.1 4.2-0.8 12-4.6 5.3-3.2 2.3-2.2 1.8-3.2 -0.4-2.1 -2.8-2.1 -2.1-0.7 -7.5 0.1 -8.6 0.8 -11.5 4 -4 3.2 -1.6 2.2 -0.6 2.1 1.3 2.1 2.4 2.2 2.3 1.4 3.1 0.7z"/>
<path fill="#8d193c" fill-rule="evenodd" d="M193.2 365.8l2.8 0.3 5.4-1 8.5-4 7.8-4.9 2.4-3.2 -0.1-2.1 -0.8-1 -1.8-0.9 -7.5 0.5 -8.5 1.7 -4.3 1.5 -4.3 2.1 -2.9 2.5 -0.8 2.1 -0.2 2.2 1.8 3.2 2.5 1z"/>
<g transform="matrix(2.1380 0 0 2.1329 -35.940 411.706)"><path d="M29.9,-31.2 31.0,-31.6 32.3,-31.3 34.2,-31.3 34.9,-32.8 35.5,-33.9 35.9,-35.3 36.0,-36.0 36.2,-36.6 35.6,-36.6 34.6,-36.8 34.0,-36.2 32.5,-36.1 31.0,-36.8 30.6,-36.8 30.0,-36.3M32.3,-35.0 33.0,-34.6 34.0,-34.9 34.6,-35.7 33.0,-35.4 32.3,-35.0M30.0,-41.1 31.5,-41.2 33.0,-42.0 35.2,-42.0 36.3,-41.3 38.0,-40.9 39.7,-41.0 41.6,-41.6 41.6,-42.6 40.0,-43.4 38.2,-44.4 37.3,-45.0 36.6,-45.3 38.0,-46.3 39.3,-47.1 37.5,-47.0 35.5,-46.5 35.0,-45.7 36.5,-45.4 35.3,-45.0 34.0,-44.4 33.5,-44.6 32.5,-45.4 33.6,-46.1 31.7,-46.6 30.7,-46.5 30.0,-45.9M47.9,-46.0 49.0,-46.5 51.0,-47.0 51.9,-47.1 53.0,-46.7 53.2,-45.3 51.3,-44.5 50.3,-44.5 51.3,-43.5 52.7,-42.0 53.5,-41.5 53.0,-40.0 53.8,-38.8 54.0,-37.4 53.0,-36.8 51.5,-36.8 50.0,-37.4 48.9,-38.4 49.5,-39.5 50.3,-40.4 49.5,-41.0 48.3,-42.0 47.5,-43.0 47.3,-44.6 46.8,-44.8 47.5,-45.6 47.9,-46.0M58.3,-45.5 59.5,-46.2 61.0,-46.4 61.6,-45.3 60.3,-44.0 59.0,-43.8 58.3,-45.5M73.6,-46.4 75.0,-46.8 77.0,-46.5 79.2,-46.1 78.5,-45.8 76.5,-46.1 74.5,-45.8 73.6,-46.4M76.2,-42.5 77.5,-42.8 78.5,-42.4 77.5,-42.2 76.2,-42.5M32.3,-31.3 32.5,-29.9 33.3,-28.3 33.8,-27.2 34.6,-25.6 35.6,-23.9 36.9,-22.0 37.2,-19.6 38.6,-18.0 39.5,-15.6 40.5,-14.9 41.6,-13.5 42.7,-12.8 43.2,-11.6 44.5,-10.4 45.0,-10.4 46.6,-10.8 48.5,-11.2 51.3,-11.8 51.0,-10.4 50.6,-9.1 49.6,-7.6 48.5,-5.5 47.2,-3.7 45.3,-2.0 43.5,-0.6 42.5,0.4 41.6,1.6 40.2,2.6 39.2,4.7 38.8,6.4 39.5,7.0 39.3,8.5 39.8,10.0 40.4,10.5 40.5,12.5 40.6,15.0M32.5,-29.9 33.6,-28.2 34.3,-27.9 34.6,-28.8 35.0,-29.5 35.5,-28.0 36.5,-26.0 38.0,-24.1 39.2,-21.5 40.5,-19.0 41.5,-17.5 42.7,-15.5 43.3,-12.7 45.0,-12.8 48.5,-14.0 49.1,-14.5 52.2,-15.6 54.1,-17.0 55.5,-17.8 56.8,-18.7 57.8,-19.2 58.6,-20.5 59.8,-22.5 58.6,-23.6 57.5,-23.9 56.4,-24.9 56.3,-26.4 56.0,-25.4 55.3,-25.3 54.4,-24.3 53.0,-24.1 51.6,-24.3 51.6,-25.8 51.2,-26.1 50.8,-25.0 50.2,-26.3 50.1,-26.8 49.4,-27.6 48.6,-28.2 48.0,-29.3 48.5,-30.0M48.5,-30.0 49.5,-30.0 50.8,-28.9 51.5,-27.9 52.5,-27.4 54.0,-26.7 55.5,-26.6 56.3,-27.2 57.2,-26.9 57.8,-25.6 59.5,-25.4 61.6,-25.2 63.5,-25.3 65.5,-25.4 67.0,-24.8 67.5,-23.9 68.5,-23.6 68.9,-22.8 69.9,-22.4 69.1,-22.4 70.0,-20.9 71.3,-20.8 72.6,-21.5 72.8,-20.4 72.8,-19.0 73.3,-17.0 73.8,-15.4 74.5,-14.0 74.8,-12.9 75.5,-11.5 76.2,-10.0 76.6,-8.9 77.5,-8.1 78.2,-8.8 79.0,-9.2 79.3,-9.3 79.8,-10.3 79.8,-11.5 80.3,-13.1 80.1,-14.5 80.2,-15.5 81.2,-16.2 82.3,-16.6 83.3,-17.7 84.5,-18.8 85.3,-19.7 86.5,-20.1 87.0,-21.5 88.1,-21.8 89.0,-21.7 90.0,-21.9 90.5,-22.5 91.5,-22.6 91.8,-22.3 92.0,-21.4 92.5,-20.6 92.9,-20.1 93.6,-19.3 94.3,-18.5 94.5,-17.3 94.2,-16.0 95.0,-15.7 95.5,-15.8 96.2,-16.8 97.0,-16.9 97.6,-16.5 97.8,-15.2 98.1,-13.8 98.6,-12.2 98.5,-10.0 98.3,-8.0 99.1,-7.5 100.3,-6.0 100.3,-5.4 100.8,-3.9 101.3,-2.9 102.3,-2.2 103.5,-1.3 103.9,-1.4 104.2,-1.5 103.6,-2.6 103.4,-3.8 103.4,-4.8 102.3,-6.1 101.3,-6.9 100.4,-7.3 100.3,-8.4 99.9,-9.3 99.2,-10.5 99.6,-11.8 99.9,-12.6 100.0,-13.4 100.5,-13.5 100.9,-12.7 101.5,-12.6 102.3,-12.1 103.0,-11.5 104.1,-10.6 104.8,-9.5 104.8,-8.6 105.5,-9.1 106.3,-9.6 106.8,-10.0 107.1,-10.3 108.2,-10.9 108.9,-11.3 109.2,-12.2 109.3,-13.7 108.8,-15.1 108.2,-16.1 107.6,-16.5 106.6,-17.6 105.7,-18.7 106.0,-19.9 106.7,-20.8 107.5,-21.3 108.0,-21.5 109.1,-21.5 109.8,-21.4 110.0,-20.3 110.5,-20.4 110.4,-21.2 111.5,-21.6 112.5,-21.8 113.5,-22.2 114.2,-22.3 115.5,-22.8 116.7,-23.3 117.5,-23.8 118.1,-24.5 118.9,-25.0 119.6,-26.0 119.8,-26.8 120.7,-28.0 121.5,-28.7 121.9,-29.9 121.0,-30.5 121.9,-31.0 121.6,-31.7 121.0,-32.5 120.8,-33.2 120.3,-34.3 119.3,-34.7 119.8,-35.6 120.4,-36.1 121.4,-36.7 122.6,-37.4 121.4,-37.6 120.2,-37.5 119.3,-37.1 118.9,-38.0 117.7,-39.0 118.5,-39.2 119.6,-39.9 120.7,-40.5 121.6,-40.9 122.2,-40.4 121.6,-39.5 121.6,-38.9 122.3,-39.5 123.5,-39.8 124.4,-40.0 125.2,-39.5 125.3,-38.8 125.5,-38.7 126.2,-37.7 126.6,-37.5 126.8,-36.8 126.4,-36.0 126.5,-35.0 126.4,-34.5 127.5,-34.6 128.5,-34.9 129.1,-35.1 129.4,-36.0 129.4,-37.0 128.9,-37.8 128.4,-38.6 127.6,-39.2 127.5,-39.8 128.6,-40.2 129.7,-40.9 129.8,-41.8 130.6,-42.4 131.3,-42.8 131.9,-43.1 133.2,-42.7 134.5,-43.2 135.5,-44.0 137.0,-45.2 138.3,-46.5 139.5,-47.8 140.3,-48.9 140.5,-50.1 140.6,-51.3 141.4,-52.3 141.2,-53.3 140.0,-53.8 138.5,-54.0 137.4,-53.9 137.2,-54.6 136.0,-54.7 135.2,-54.8 136.9,-55.8 138.2,-56.6 139.8,-57.9 141.5,-58.8 143.0,-59.3 145.5,-59.4 148.0,-59.3 149.5,-59.7 150.8,-59.6 152.5,-59.0 154.5,-59.2 155.0,-60.0 156.8,-61.5 158.5,-61.8 160.2,-61.6 160.5,-62.3 162.5,-62.7 164.5,-62.6 163.5,-61.8 161.8,-60.9 160.4,-60.4 159.8,-59.6 158.5,-58.5 157.2,-58.0 156.5,-57.3 156.0,-56.5 155.8,-55.0 156.0,-53.2 156.4,-52.0 156.7,-51.0 157.5,-51.5 158.6,-53.0 159.8,-53.4 160.0,-54.1 161.8,-54.8 161.8,-55.7 162.2,-56.1 163.3,-56.2 163.0,-57.0 162.5,-57.5 163.3,-58.2 163.7,-59.0 165.5,-59.9 167.5,-60.3 168.5,-60.6 170.4,-60.0 171.6,-60.6 172.5,-61.0 174.2,-61.8 175.5,-62.0 177.0,-62.5 179.0,-62.3 179.4,-63.0 178.5,-63.5 178.8,-64.6 177.5,-64.7 176.3,-65.2 177.5,-65.4 179.5,-65.5 180.5,-65.5 181.5,-65.2 183.5,-64.5 184.5,-64.4 186.2,-64.6 187.2,-65.0 187.5,-65.5 188.0,-65.6 190.3,-66.1 189.3,-66.6 187.0,-67.2 185.0,-67.5 183.0,-68.0 181.5,-68.6 180.0,-68.9 178.0,-69.5 176.5,-69.8 175.5,-70.0M30.0,-69.8 32.0,-69.9 33.1,-69.2 35.0,-69.2 37.5,-68.8 39.5,-68.2 41.0,-67.8 40.5,-66.5 39.2,-66.1 37.5,-66.2 35.5,-66.4 33.5,-66.7 33.0,-66.0 34.5,-65.0 35.5,-64.4 36.5,-64.2 37.5,-63.8 38.5,-64.5 39.7,-64.6 40.5,-64.8 40.3,-65.5 41.5,-66.0 43.5,-66.4 44.2,-67.0 44.0,-68.0 43.3,-68.6 45.5,-68.5 46.3,-68.0 48.5,-67.7 50.5,-68.2 53.0,-68.6 54.5,-68.3 57.0,-68.6 59.0,-68.6 60.5,-69.6 62.5,-69.5 64.5,-69.3 66.0,-69.0 67.0,-68.5 68.3,-68.2 68.8,-69.5 67.5,-70.0M72.8,-70.0 73.2,-69.0 72.8,-68.0 72.5,-67.0 71.5,-66.5 72.0,-66.3 73.5,-66.6 74.5,-67.5 75.0,-68.5 76.5,-68.3 77.5,-68.6 78.2,-70.0M84.0,-70.0 83.0,-69.5 82.5,-68.5 84.0,-68.9 86.0,-69.6 87.0,-70.0M129.8,-33.3 130.9,-33.9 131.7,-33.3 131.6,-32.3 131.3,-31.4 130.7,-31.0 130.2,-31.3 130.3,-32.5 129.7,-33.0 129.8,-33.3M132.5,-33.3 133.0,-34.0 134.0,-34.3 134.6,-34.2 134.7,-33.8 134.2,-33.2 133.0,-32.8 132.5,-33.3M130.9,-34.0 131.5,-34.5 132.7,-35.5 134.0,-35.5 135.3,-35.6 136.0,-35.9 136.7,-37.2 137.3,-36.8 138.3,-37.1 139.1,-38.0 139.9,-39.5 140.0,-40.5 140.3,-41.2 141.1,-40.9 141.4,-41.4 141.6,-40.5 142.0,-39.5 141.5,-38.5 141.0,-38.3 141.0,-37.0 140.8,-36.0 140.9,-35.7 140.4,-35.1 139.8,-35.0 139.8,-35.5 139.2,-35.2 138.8,-34.6 138.3,-35.0 137.0,-34.6 136.9,-34.3 136.0,-33.5 135.3,-33.7 135.1,-34.2 135.2,-34.6 134.0,-34.6 133.0,-34.4 132.0,-33.9 130.9,-34.0M140.0,-41.5 141.0,-41.8 140.5,-42.6 140.4,-43.3 141.5,-43.2 141.7,-44.5 141.9,-45.5 143.0,-44.8 144.0,-44.1 145.3,-44.3 145.2,-43.6 145.8,-43.4 144.4,-42.9 143.3,-42.0 141.7,-42.6 141.0,-42.3 140.4,-41.4 140.0,-41.5M142.0,-46.0 143.0,-46.6 143.5,-47.5 144.7,-48.6 143.1,-49.2 143.3,-51.0 143.2,-52.5 143.0,-53.6 142.6,-54.3 142.2,-53.5 141.7,-52.0 142.0,-50.5 142.1,-48.5 141.9,-47.0 142.0,-46.0M121.0,-25.2 122.0,-25.0 121.5,-23.0 120.8,-21.9 120.2,-22.7 120.1,-23.5 121.0,-25.2M108.6,-19.2 109.7,-20.0 110.7,-20.1 111.0,-19.6 110.1,-18.3 109.5,-18.2 108.6,-18.5 108.6,-19.2M79.8,-8.0 80.0,-9.6 80.4,-9.8 81.2,-8.5 81.8,-7.4 81.6,-6.4 80.6,-5.9 80.0,-6.4 79.8,-8.0M47.0,15.0 47.8,14.0 48.3,13.3 49.3,12.0 49.9,13.3 50.2,14.5 50.4,15.0M95.3,-5.6 96.0,-4.5 97.5,-2.5 98.7,-1.7 99.5,-0.2 100.4,1.0 101.0,2.3 102.3,3.5 103.7,5.0 104.6,5.9 105.8,5.8 105.9,4.2 106.0,3.0 104.7,2.3 104.5,1.0 103.5,0.8 103.0,-0.2 101.5,-1.7 100.3,-2.5 98.7,-3.7 97.5,-5.2 95.3,-5.6M105.2,6.8 106.8,6.0 108.3,6.3 110.4,6.9 112.7,7.0 114.4,7.7 114.6,8.7 112.0,8.3 110.0,8.0 108.0,7.8 106.5,7.4 105.2,6.8M115.1,8.1 115.7,8.4 115.2,8.8 115.1,8.1M116.0,8.4 116.7,8.3 116.5,8.9 116.0,8.4M117.0,8.5 118.5,8.2 119.1,8.6 117.8,9.0 117.0,8.5M119.8,8.5 121.5,8.5 123.0,8.3 122.5,8.8 120.5,8.8 119.8,8.5M124.0,10.1 125.2,9.0 127.3,8.4 126.0,9.3 124.4,10.3 124.0,10.1M119.0,9.6 120.8,10.0 120.2,10.3 119.0,9.6M109.6,-2.0 110.3,-1.6 111.3,-2.2 113.0,-3.2 114.0,-4.4 115.0,-5.0 116.0,-6.0 116.8,-7.0 117.5,-6.4 118.1,-5.8 119.2,-5.2 118.0,-4.3 117.7,-3.0 118.1,-1.0 117.5,-0.0 116.8,1.3 116.5,2.5 116.2,3.8 114.6,3.4 113.0,3.2 111.5,3.0 110.2,2.9 110.0,1.5 109.3,-0.0 108.9,-0.8 109.6,-2.0M119.8,0.9 120.1,-0.5 121.0,-1.2 122.5,-1.0 124.0,-0.9 124.9,-1.5 125.2,-1.3 124.5,-0.5 123.0,-0.5 121.0,-0.5 120.3,0.5 120.8,1.3 121.6,0.8 123.3,0.9 122.5,1.5 121.4,2.0 122.5,3.0 122.8,4.5 121.6,4.8 121.3,3.8 120.9,2.7 120.4,2.9 120.4,5.5 119.5,5.6 119.4,5.1 119.4,3.0 119.0,2.5 119.3,1.2 119.8,0.9M127.5,-1.8 128.0,-1.0 128.7,-0.9 128.0,-0.4 128.9,0.6 127.9,0.2 127.6,-0.8 127.5,-1.8M127.9,3.2 129.0,2.8 130.8,3.0 130.4,3.6 128.5,3.4 127.9,3.2M126.0,3.1 127.2,3.3 126.7,3.8 126.0,3.6 126.0,3.1M131.0,1.4 132.5,0.4 134.1,0.9 135.0,3.3 136.5,2.3 137.5,1.5 139.0,2.0 141.0,2.6 142.8,3.3 144.5,3.8 145.8,5.0 146.5,5.8 147.7,6.2 147.0,7.0 147.8,8.0 148.6,9.0 149.5,9.8 150.5,10.3 149.0,10.3 147.2,9.5 146.0,8.2 144.5,7.6 143.5,8.3 143.0,9.2 141.0,9.2 139.8,8.0 138.5,8.4 138.0,7.5 138.6,6.5 137.6,5.4 135.5,4.4 134.0,3.8 133.0,4.0 132.0,2.9 133.2,2.4 132.0,2.2 131.0,1.4M148.3,5.5 149.5,5.6 150.5,5.5 151.5,4.9 152.3,4.2 152.0,5.5 150.5,6.2 148.3,5.5M150.7,2.6 152.0,3.3 153.2,4.7 152.5,4.2 150.7,2.6M129.5,15.0 130.1,13.2 130.3,12.7 131.0,12.2 132.6,11.6 133.5,11.9 135.5,12.0 136.9,12.3 136.0,13.4 135.5,15.0M141.4,15.0 141.6,12.6 142.5,10.7 143.4,12.5 143.8,14.0 144.5,14.3 145.3,15.0M124.0,15.0 125.0,14.5 126.0,14.0 127.0,13.9 128.2,14.9 129.0,15.0M120.6,-18.5 122.2,-18.5 122.3,-17.0 121.6,-15.9 121.6,-14.9 121.8,-14.0 122.6,-14.2 123.1,-13.7 124.0,-13.0 123.0,-13.0 122.0,-13.8 120.6,-14.2 120.6,-14.8 120.0,-16.3 120.4,-17.5 120.6,-18.5M122.0,-7.0 123.0,-7.7 123.8,-7.8 124.5,-8.5 125.5,-9.8 126.3,-8.0 126.5,-7.0 125.5,-5.8 124.2,-6.2 124.0,-7.2 122.0,-7.0M124.5,-11.0 125.8,-11.0 125.5,-12.6 124.3,-12.5 124.5,-11.0M124.3,-10.0 125.3,-10.2 125.0,-11.3 124.3,-11.6 124.3,-10.0M122.0,-10.5 123.0,-11.0 122.5,-11.8 122.0,-11.5 122.0,-10.5M122.4,-9.0 123.3,-9.3 123.5,-10.8 122.8,-10.6 122.4,-9.0M123.3,-9.5 124.1,-11.2 123.8,-10.3 123.3,-9.5M120.3,-13.5 121.5,-13.2 121.2,-12.2 120.3,-13.5M117.2,-8.4 118.5,-9.4 119.8,-11.5 119.3,-10.5 117.9,-9.2 117.2,-8.4M204.2,-19.8 204.9,-19.3 205.0,-19.8 204.4,-20.2 204.2,-19.8M203.3,-20.9 203.9,-20.7 203.5,-20.6 203.3,-20.9M193.0,-70.0 193.3,-69.0 193.2,-68.3 194.5,-68.0 196.0,-67.6 197.4,-66.9 196.0,-66.5 194.0,-66.3 192.0,-65.8 193.5,-64.6 195.5,-64.5 197.5,-64.4 198.5,-63.8 196.0,-63.3 195.0,-62.5 194.5,-61.5 195.5,-60.5 196.5,-59.5 198.5,-58.6 200.0,-58.7 202.5,-58.0 201.0,-57.2 199.0,-56.5 197.5,-55.6 196.0,-54.8 197.5,-54.9 199.0,-55.3 201.0,-55.9 203.5,-56.6 205.5,-57.5 206.5,-58.5 208.0,-59.2 208.5,-60.3 209.5,-61.0 210.0,-60.5 211.0,-60.0 212.5,-60.6 214.0,-60.4 216.0,-60.0 218.5,-59.9 220.3,-59.5 222.0,-58.7 223.5,-58.0 225.6,-58.3 225.5,-57.5 226.5,-56.5 227.5,-55.5 229.5,-54.8 229.7,-54.3 230.5,-53.0 231.5,-52.0 232.5,-51.0 233.0,-50.3 234.0,-49.8 235.0,-49.5 236.5,-48.8 237.0,-48.2 237.7,-47.6 236.6,-47.0 236.0,-46.2 236.0,-45.0 235.9,-43.4 235.8,-42.0 235.6,-40.4 236.5,-39.0 237.0,-38.3 237.6,-37.8 238.0,-37.0 238.9,-35.5 239.5,-34.5 240.5,-34.1 241.6,-33.7 242.5,-33.2 242.8,-32.7 243.3,-31.8 244.0,-30.5 244.6,-29.4 245.5,-28.3 246.0,-27.0 247.0,-26.0 248.0,-24.8 249.0,-24.0 250.1,-22.9 250.5,-23.5 249.7,-24.1 249.2,-25.5 248.3,-26.5 247.2,-27.5 246.8,-28.5 245.7,-29.8 245.2,-31.0 245.3,-31.8 246.3,-31.4 247.3,-30.8 248.0,-29.2 249.1,-27.9 250.3,-26.3 251.2,-25.3 252.0,-24.4 253.6,-23.2 254.5,-22.0 254.7,-21.3 254.8,-20.6 255.3,-19.6 255.7,-19.1 256.9,-18.2 258.0,-17.8 260.1,-16.8 261.8,-16.2 263.2,-15.8 264.8,-16.2 265.5,-16.0 266.8,-15.5 267.8,-14.7 268.5,-14.2 269.3,-13.9 271.0,-13.3 272.2,-13.2 272.8,-12.5 273.5,-11.8 274.3,-10.7 274.5,-9.9 275.5,-8.8 276.5,-8.3 277.5,-8.0 278.0,-7.3 279.0,-7.5 279.8,-8.2 280.0,-8.5M280.0,-9.4 279.0,-9.1 278.0,-9.3 277.0,-9.5 276.5,-10.5 276.3,-11.5 276.4,-13.0 276.5,-14.5 276.8,-15.1 276.0,-15.8 275.0,-15.9 274.0,-15.8 272.5,-15.8 271.8,-15.9 271.5,-16.8 271.8,-17.5 272.2,-18.5 272.6,-19.5 273.0,-21.0 273.2,-21.5 272.5,-21.5 270.5,-21.4 269.5,-20.7 269.5,-19.8 268.5,-18.7 267.5,-18.6 266.0,-18.5 265.5,-18.5 264.5,-18.7 263.9,-19.2 263.3,-20.0 262.8,-21.0 262.2,-22.3 262.3,-23.5 262.3,-25.0 262.6,-26.5 262.6,-27.8 263.0,-28.3 264.0,-28.8 265.2,-29.3 266.5,-29.7 267.5,-29.6 268.5,-29.5 269.5,-29.3 270.6,-29.1 270.9,-29.8 271.5,-30.3 272.0,-30.6 273.5,-30.3 274.5,-30.2 275.5,-30.0 276.0,-29.9 276.9,-29.0 277.3,-28.3 277.4,-27.5 277.8,-26.7 278.5,-25.5 279.1,-25.3 279.8,-25.4 280.0,-25.7M275.1,-21.9 276.0,-22.0 277.0,-22.6 278.0,-23.1 280.0,-23.2M280.0,-21.8 279.0,-21.7 278.0,-22.3 277.5,-22.0 276.3,-21.5 275.1,-21.9M265.8,-58.8 266.5,-57.8 267.8,-57.1 269.5,-56.9 271.0,-56.5 272.5,-55.3 274.0,-55.2 275.5,-55.0 277.5,-54.5 278.0,-53.8 278.3,-52.6 278.6,-51.6 279.2,-51.3 280.0,-51.4M280.0,-62.4 278.0,-62.5 276.0,-62.0 274.0,-62.7 273.0,-63.5 273.5,-64.0 271.5,-64.7 270.5,-64.0 269.0,-63.5 268.0,-62.3 266.5,-61.3 265.3,-60.0 265.5,-59.5 265.8,-58.8M280.0,-66.5 278.5,-66.3 276.5,-67.0 274.0,-68.0 272.0,-68.8 270.5,-68.5 270.0,-67.5 268.5,-67.9 268.0,-68.5 269.0,-69.5 270.5,-70.0M197.8,-70.0 200.0,-70.3M224.5,-70.0 223.5,-69.4 222.0,-69.1 221.0,-69.6 219.5,-69.8 218.5,-70.0M226.5,-70.0 227.5,-69.6 229.0,-69.5 230.5,-69.9M234.0,-70.0 235.5,-69.2 237.0,-69.4 239.5,-69.0 242.5,-68.7 245.0,-68.3 247.0,-67.9 249.0,-68.0 251.5,-67.8 253.0,-68.2 255.0,-67.8 256.5,-68.5 258.5,-68.2 260.0,-68.6 262.0,-69.0 263.5,-69.3 264.0,-70.0M267.8,-46.7 269.0,-46.9 270.0,-47.2 271.0,-47.9 272.0,-48.6 273.5,-48.7 275.0,-48.0 275.5,-47.0 275.4,-46.5 273.5,-46.6 272.0,-46.5 270.5,-46.8 269.5,-46.8 268.5,-46.6 267.8,-46.7M272.2,-41.7 272.8,-42.8 272.5,-44.0 272.8,-45.1 273.2,-45.9 274.2,-45.8 273.9,-44.9 273.6,-44.0 273.7,-43.0 273.5,-42.0 272.8,-41.6 272.2,-41.7M275.5,-45.9 277.0,-46.2 278.4,-46.0 279.3,-45.4 279.7,-44.6 278.4,-43.2 277.6,-43.0 277.5,-44.0 277.2,-45.0 276.3,-45.4 275.5,-45.9M276.8,-41.8 277.8,-41.5 279.0,-41.9 280.0,-42.5M280.0,-43.3 279.0,-43.4 280.0,-43.9M235.0,-65.5 237.0,-66.8 239.5,-66.9 241.0,-66.0 239.0,-65.2 237.0,-65.5 235.0,-65.5M243.5,-61.5 245.5,-61.8 247.0,-62.5 249.0,-62.7 251.0,-62.6 249.0,-62.1 246.5,-61.2 244.0,-61.0 243.5,-61.5M261.8,-50.7 262.2,-52.0 261.0,-52.5 260.5,-53.5 261.3,-53.8 263.0,-53.6 262.5,-52.0 262.5,-50.8 261.8,-50.7M103.7,-51.5 104.5,-51.8 106.5,-52.7 108.5,-54.0 109.6,-55.7 109.0,-55.8 108.0,-54.5 106.0,-53.0 104.0,-51.7 103.7,-51.5M31.6,1.0 32.5,-0.3 33.9,-0.1 34.6,0.4 34.0,1.0 33.8,2.5 32.2,2.8 31.6,1.0M30.0,3.5 30.5,5.5 30.8,6.8 31.2,8.5 30.6,8.7 30.1,7.0 29.6,5.5 29.3,4.0 30.0,3.5M34.0,9.5 34.5,10.5 34.6,11.8 35.0,12.8 35.3,14.3 34.8,14.0 34.3,12.3 34.0,11.0 34.0,9.5M35.7,-4.5 36.2,-3.5 36.1,-2.5 35.8,-3.5 35.7,-4.5M72.6,-66.6 69.5,-66.2 66.0,-65.8 65.3,-64.2 65.5,-62.7 67.0,-61.6 69.5,-61.0 72.5,-60.9 75.0,-60.8 77.5,-60.6 80.0,-59.8 82.0,-58.9 83.5,-57.5 84.2,-56.7M85.8,-70.2 86.2,-66.7 88.1,-65.6 87.3,-62.9 88.5,-62.3M88.1,-65.6 90.4,-65.2 91.9,-64.4M123.7,-70.2 123.2,-67.0 126.0,-64.5 128.6,-63.4 132.0,-62.8 134.7,-62.2 135.3,-60.4M128.6,-63.4 124.0,-62.2 120.0,-61.6 116.0,-60.5 112.7,-59.7M130.7,-47.5 132.5,-48.3 135.0,-48.5 136.5,-49.5 137.5,-51.0 139.0,-52.0 140.7,-53.0M114.0,-29.5 115.5,-29.8 116.5,-30.3 117.2,-31.0M274.0,-46.5 276.0,-46.3 277.5,-45.8 279.0,-45.5M36.9,-65.4 40.0,-64.6 41.5,-63.9 43.5,-62.9 44.9,-62.2M52.0,-67.6 53.5,-67.0 54.5,-66.2 56.7,-65.9M41.2,-57.9 43.5,-56.5 46.0,-56.2 49.2,-55.8M30.2,-60.8 31.0,-61.5 32.5,-61.3 32.8,-60.6 31.6,-60.1 30.6,-60.2 30.2,-60.8M34.6,-61.2 35.4,-62.6 36.3,-62.1 35.9,-61.3 35.2,-61.0 34.6,-61.2M280.0,-1.2 279.8,-0.5 279.4,0.8 279.1,2.2 279.8,3.2 279.0,4.5 278.8,6.0 279.5,7.5 280.0,8.3M240.0,-70.0 242.0,-69.3 245.0,-69.1 248.0,-69.3 250.0,-69.0 253.0,-69.2 255.0,-69.6 257.0,-70.0M261.5,-68.8 263.0,-68.6 264.0,-69.2 262.5,-69.6 261.5,-68.8M274.5,-64.8 276.0,-63.9 278.0,-64.2 280.0,-64.6M270.5,-65.0 272.5,-65.6 274.0,-66.2 275.5,-66.8M268.5,-63.3 270.5,-63.6 271.5,-64.0M153.6,-69.4 158.0,-69.8 162.0,-69.5 166.0,-69.0 170.5,-68.9 173.0,-69.5 175.5,-70.0M30.0,-22.0 31.4,-22.0 33.5,-22.0 36.9,-22.0M36.5,-14.3 36.6,-16.0 37.0,-17.0 38.6,-18.0M36.5,-14.3 37.5,-14.2 38.5,-14.5 40.0,-14.5 41.7,-13.2 42.4,-12.5M42.4,-12.5 41.8,-11.7 42.9,-11.0 43.2,-11.5M42.9,-11.0 44.0,-9.0 46.0,-8.0 48.0,-8.0 47.0,-6.5 45.0,-5.0 43.5,-4.8 42.0,-4.0M42.0,-4.0 41.0,-3.9 39.5,-3.4 38.0,-3.6 36.0,-4.5 35.5,-5.0M41.0,-3.9 41.0,-2.0 41.0,1.7M33.9,1.0 37.6,3.0 39.2,4.7M40.4,10.5 38.0,11.3 35.0,11.5M33.9,1.0 34.0,-1.0 35.0,-2.0 35.5,-5.0M30.0,1.0 31.6,1.0M33.9,9.4 32.9,9.3 31.3,8.6M33.9,9.4 33.2,10.8 33.0,12.5 32.9,14.0 34.0,14.5 35.3,14.3M35.3,14.3 35.8,16.0M30.0,-4.0 31.2,-3.8 33.5,-3.8 34.0,-4.6 35.5,-5.0M33.5,-12.0 34.2,-10.5 34.5,-8.0 33.0,-7.8 34.0,-5.0 35.5,-5.0M30.0,-9.5 31.5,-9.8 32.8,-11.9 33.5,-12.0M33.5,-12.0 34.8,-13.0 36.0,-12.7 36.5,-14.3M34.2,-31.3 34.9,-29.5M35.5,-33.0 35.6,-32.5 35.5,-31.0 35.0,-29.5M35.9,-35.3 36.5,-34.6 36.0,-33.5 35.8,-33.3M35.6,-32.7 36.8,-32.3 38.8,-33.4M36.2,-36.6 36.8,-36.8 38.5,-36.8 40.5,-37.0 42.3,-37.2M38.8,-33.4 41.0,-34.4 41.2,-36.5 42.3,-37.2M38.8,-33.4 39.2,-32.2 37.0,-31.5 38.0,-30.5 37.5,-30.0 36.1,-29.2 34.9,-29.3M39.2,-32.2 42.0,-31.1 44.7,-29.2 46.5,-29.1 47.7,-28.5 48.4,-28.5M46.5,-29.1 47.4,-30.0 48.0,-30.0M42.3,-37.2 44.3,-37.1 44.8,-37.2 45.5,-35.9 46.1,-35.1 45.7,-34.0 47.5,-33.0 47.8,-31.5 48.0,-30.5 48.5,-30.0M44.3,-37.1 44.8,-39.7 44.4,-40.0 43.6,-41.1 42.5,-41.5 41.6,-41.6M44.8,-39.7 46.5,-38.9 48.0,-38.8 48.9,-38.4M43.6,-41.1 45.0,-41.2 46.5,-41.1 46.5,-41.9 46.2,-42.9 44.5,-42.7 42.5,-43.2 40.0,-43.4M46.5,-41.9 48.5,-41.8M43.3,-12.7 43.5,-13.5 43.9,-16.5 45.0,-17.3 47.0,-16.9 48.5,-18.0 52.0,-19.0 53.1,-16.6M52.0,-19.0 55.0,-22.0 55.2,-22.7 55.6,-24.0 56.4,-24.9M51.6,-24.3 52.5,-24.0 55.0,-22.0M50.8,-25.0 51.6,-24.3M54.0,-37.4 55.5,-38.0 57.3,-38.0 59.5,-37.3 60.5,-36.7 61.2,-36.6M61.2,-36.6 60.6,-35.0 60.9,-34.3 60.5,-33.7 60.9,-32.5 60.6,-31.5 61.7,-31.4 60.9,-29.8M60.9,-29.8 61.8,-28.6 62.8,-28.2 62.8,-27.4 63.2,-26.6 61.8,-26.2 61.6,-25.2M60.9,-29.8 62.5,-29.4 64.5,-29.5 66.3,-29.9 66.5,-31.0 68.0,-31.6 69.3,-31.9 69.5,-33.0 70.3,-33.4 69.9,-34.0 71.1,-34.7 71.5,-35.6 71.2,-36.1 72.6,-36.8 74.0,-36.8 74.8,-37.0M61.2,-36.6 62.3,-35.3 64.5,-36.3 65.5,-37.3 66.5,-37.4 67.8,-37.2 68.5,-37.5 70.0,-37.5 71.0,-38.0 71.5,-37.1 73.0,-37.4 74.8,-37.0M52.9,-41.9 55.5,-41.3 56.0,-41.3 57.0,-41.3 58.5,-42.7 60.0,-42.0 61.0,-41.2 62.0,-40.5 63.5,-39.4 65.0,-38.5 66.5,-38.0 66.5,-37.4M53.5,-41.5 52.9,-41.9M55.9,-45.0 56.0,-41.3M55.9,-45.0 58.5,-45.6M61.0,-44.4 62.0,-43.5 64.9,-43.7 66.1,-43.0 66.0,-42.0 68.0,-41.0 69.0,-41.5 70.4,-42.3 71.0,-42.3M71.0,-42.3 73.5,-42.5 75.0,-42.8 77.0,-42.9 79.0,-42.8 80.2,-42.1M68.5,-37.5 68.9,-38.5 67.4,-39.1 68.5,-39.5 69.5,-40.1 70.5,-39.6 71.7,-39.4 73.6,-39.5M70.6,-41.0 71.0,-40.3 71.8,-40.1 73.0,-40.9 71.9,-41.4 70.6,-41.0M73.6,-39.5 73.5,-38.5 74.8,-37.0M73.6,-39.5 74.8,-40.4 76.5,-40.4 78.5,-41.5 80.2,-42.1M80.2,-42.1 80.1,-42.8 80.8,-43.2 80.2,-44.9 82.6,-45.2 83.0,-47.2 85.1,-47.0 85.7,-48.3 86.8,-49.1 87.4,-49.1M46.5,-48.5 47.3,-49.2 47.0,-50.0 48.6,-50.6 50.8,-51.7 52.3,-51.7 55.7,-50.6 57.5,-51.0 59.9,-50.8 61.3,-50.8 61.5,-51.3 60.2,-52.0 60.9,-52.5 60.0,-53.0 61.7,-53.9 65.2,-54.4 69.2,-55.4 71.0,-54.1 73.4,-53.5 74.4,-53.6 76.8,-54.5 79.0,-52.4 82.0,-50.7 83.4,-51.0 85.0,-50.0 87.4,-49.1M46.5,-48.5 47.5,-47.3 48.5,-46.5 47.9,-46.0M87.4,-49.1 89.0,-49.6 90.7,-50.3 92.2,-50.8 94.1,-50.5 95.8,-50.0 97.3,-49.7 98.2,-50.4 97.8,-51.0 99.0,-52.0 101.0,-51.5 102.1,-51.3 102.6,-50.3 104.6,-50.3 106.9,-50.3 108.5,-49.3 110.7,-49.1 113.0,-49.6 114.4,-50.2 116.7,-49.9M87.4,-49.1 88.2,-48.5 90.0,-47.9 91.0,-46.9 90.3,-45.7 93.5,-44.9 95.3,-44.2 96.4,-42.7 100.8,-42.7 104.0,-41.6 105.0,-41.6 107.0,-42.4 110.4,-42.9 111.9,-43.7 111.4,-44.4 112.0,-45.1 114.5,-45.3 116.0,-46.7 117.4,-46.7 118.0,-47.0 119.7,-46.7 119.0,-47.5 117.3,-47.7 116.0,-48.5 116.7,-49.9M116.7,-49.9 117.9,-49.5 119.3,-50.1 119.3,-50.9 120.2,-51.6 121.0,-52.5 122.5,-53.4 125.0,-53.2 126.6,-52.8 127.5,-50.5 128.2,-49.6 130.7,-48.9 130.7,-47.5 132.5,-47.8 134.0,-48.3 134.6,-47.6 133.9,-46.3 133.1,-44.9 131.3,-44.9 131.0,-43.0 130.6,-42.4M130.6,-42.4 129.6,-42.4 128.0,-42.0 126.9,-41.8 125.0,-40.5 124.4,-40.0M124.7,-38.0 126.2,-37.7 127.0,-38.2 128.4,-38.6M74.8,-37.0 75.9,-36.7 77.5,-35.5 78.0,-35.3 78.8,-34.3 79.2,-32.5 78.5,-32.6 79.0,-31.1 80.0,-30.8 81.1,-30.2M74.8,-37.0 75.5,-35.9 75.0,-34.5 74.0,-33.4 74.8,-32.5 74.4,-31.0 73.9,-30.0 72.9,-28.9 71.8,-27.9 70.6,-27.9 69.5,-26.7 70.2,-26.0 70.2,-24.8 69.1,-24.3 68.3,-23.7M81.1,-30.2 80.1,-28.8 81.0,-28.4 82.5,-27.4 84.0,-27.4 85.3,-26.7 86.8,-26.4 88.1,-26.4 88.2,-27.8 87.0,-28.0 85.9,-28.2 84.2,-28.8 82.0,-30.1 81.1,-30.2M88.8,-27.3 89.6,-28.1 91.0,-28.0 92.0,-27.5 91.7,-26.8 90.0,-26.8 88.8,-27.3M88.2,-27.8 88.8,-27.3M92.0,-27.5 93.5,-28.7 95.5,-29.0 96.2,-29.4 97.3,-28.3 97.4,-27.9M88.1,-26.4 88.8,-26.3 89.4,-25.9 88.5,-25.5 88.2,-24.5 88.7,-24.2 88.6,-22.9 89.0,-22.0M89.4,-25.9 90.5,-25.2 92.0,-25.2 92.4,-24.3 91.9,-24.1 91.6,-23.0 92.1,-23.6 92.4,-22.0 92.6,-21.3M92.4,-22.0 93.2,-22.3 93.3,-23.0 93.4,-24.1 94.2,-23.9 94.6,-25.2 95.3,-26.6 96.4,-27.3 97.1,-27.1 97.4,-27.9M97.4,-27.9 98.3,-27.5 98.7,-26.2 97.7,-24.8 97.7,-23.9 98.9,-24.1 99.5,-22.9 99.2,-22.1 100.1,-21.6 101.2,-21.4M101.2,-21.4 101.8,-22.4 102.2,-22.5 103.0,-22.4 104.5,-22.8 105.3,-23.3 106.7,-22.8 106.6,-22.2 107.9,-21.6M100.1,-21.6 100.5,-20.4 100.1,-20.4 99.5,-20.2 98.5,-19.7 97.8,-18.6 97.4,-18.4 97.8,-17.6 98.5,-16.8 98.9,-16.2 98.5,-15.3 99.1,-13.8 99.2,-12.8 99.7,-11.2 98.9,-10.0 98.6,-9.9M100.5,-20.4 101.3,-19.5 101.0,-17.6 102.1,-18.1 103.2,-18.0 104.7,-17.4 104.8,-16.4 105.6,-15.6 105.5,-14.3M101.2,-21.4 102.2,-22.0 102.4,-21.4 103.2,-20.8 104.4,-20.8 104.8,-19.9 104.2,-19.6 105.1,-18.7 106.0,-17.9 106.6,-17.0 107.3,-15.9 107.6,-15.2 107.4,-14.2M105.5,-14.3 106.5,-14.6 107.4,-14.2M105.5,-14.3 104.3,-14.4 102.9,-14.2 102.6,-12.2 102.3,-12.1M107.4,-14.2 107.5,-12.3 106.0,-11.2 105.1,-10.9 104.4,-10.4M100.4,-6.5 101.0,-6.3 101.8,-5.8 102.1,-6.2M109.6,-2.0 111.0,-1.0 112.5,-1.4 114.2,-1.4 114.8,-2.3 115.5,-3.2 115.6,-4.0 117.0,-4.3 117.9,-4.1M141.0,2.6 141.0,6.0 140.9,6.9 141.0,9.2M124.9,9.1 125.1,9.4M219.0,-70.0 219.0,-60.3M219.0,-60.3 220.5,-60.0 222.0,-59.8 223.5,-59.3 224.6,-59.5 225.8,-59.0 226.8,-58.3 227.7,-56.6 229.0,-56.0 229.9,-55.5M236.9,-49.0 240.0,-49.0 245.0,-49.0 250.0,-49.0 255.0,-49.0 260.0,-49.0 264.8,-49.0 265.0,-49.4 265.5,-48.9 267.5,-48.2 268.3,-48.0M272.5,-46.5 276.0,-46.3 277.6,-45.0 277.6,-43.0M242.9,-32.5 245.0,-32.7 245.2,-32.2 248.9,-31.3 251.9,-31.3 251.9,-31.8 253.5,-31.8 253.5,-31.2 255.5,-30.0 256.6,-29.5 258.0,-29.8 259.3,-29.0 260.0,-27.8 260.8,-26.4 262.6,-25.9M267.8,-14.7 267.8,-16.1 268.9,-16.1 268.6,-17.8 270.8,-17.8 270.8,-17.0M270.8,-15.8 270.8,-17.8M269.7,-14.0 270.3,-14.5 270.5,-15.6 271.8,-15.9M270.3,-14.5 271.4,-14.4 272.2,-13.2M272.7,-13.0 273.3,-13.7 274.4,-14.0 275.0,-14.8 276.8,-15.0M274.3,-11.1 275.2,-11.0 276.3,-10.9M277.3,-8.5 277.6,-9.6M30.0,-67.5 30.1,-65.7 29.8,-64.8 30.5,-64.2 30.0,-63.5 31.5,-62.9 30.0,-61.7M30.0,-55.9 31.8,-55.7 32.7,-53.4 31.8,-52.1M30.0,-51.5 31.8,-52.1 34.4,-51.8 35.4,-50.6 38.2,-50.1 40.1,-49.6 40.1,-48.3 38.8,-47.8 38.2,-47.1" fill="none" stroke="#000" stroke-width="0.337" stroke-linejoin="round"/></g>
</g>
<rect x="28.20" y="262.40" width="534.50" height="181.30" fill="none" stroke="#2a2a2a" stroke-width="1.2"/>
<text x="38.58" y="455.30" font-size="8.8" fill="#222" textLength="22.0" lengthAdjust="spacingAndGlyphs">40°E</text>
<text x="81.34" y="455.30" font-size="8.8" fill="#222" textLength="22.0" lengthAdjust="spacingAndGlyphs">60°E</text>
<text x="124.10" y="455.30" font-size="8.8" fill="#222" textLength="22.0" lengthAdjust="spacingAndGlyphs">80°E</text>
<text x="164.36" y="455.30" font-size="8.8" fill="#222" textLength="27.0" lengthAdjust="spacingAndGlyphs">100°E</text>
<text x="207.12" y="455.30" font-size="8.8" fill="#222" textLength="27.0" lengthAdjust="spacingAndGlyphs">120°E</text>
<text x="249.88" y="455.30" font-size="8.8" fill="#222" textLength="27.0" lengthAdjust="spacingAndGlyphs">140°E</text>
<text x="292.64" y="455.30" font-size="8.8" fill="#222" textLength="27.0" lengthAdjust="spacingAndGlyphs">160°E</text>
<text x="339.75" y="455.30" font-size="8.8" fill="#222" textLength="18.3" lengthAdjust="spacingAndGlyphs">180°</text>
<text x="376.86" y="455.30" font-size="8.8" fill="#222" textLength="29.6" lengthAdjust="spacingAndGlyphs">160°W</text>
<text x="419.62" y="455.30" font-size="8.8" fill="#222" textLength="29.6" lengthAdjust="spacingAndGlyphs">140°W</text>
<text x="462.38" y="455.30" font-size="8.8" fill="#222" textLength="29.6" lengthAdjust="spacingAndGlyphs">120°W</text>
<text x="505.14" y="455.30" font-size="8.8" fill="#222" textLength="29.6" lengthAdjust="spacingAndGlyphs">100°W</text>
<text x="12.00" y="414.61" font-size="8.8" fill="#222" textLength="11.6" lengthAdjust="spacingAndGlyphs">0°</text>
<text x="1.20" y="371.95" font-size="8.8" fill="#222" textLength="22.4" lengthAdjust="spacingAndGlyphs">20°N</text>
<text x="1.20" y="329.29" font-size="8.8" fill="#222" textLength="22.4" lengthAdjust="spacingAndGlyphs">40°N</text>
<text x="1.20" y="286.63" font-size="8.8" fill="#222" textLength="22.4" lengthAdjust="spacingAndGlyphs">60°N</text>
<text x="35.20" y="298.00" font-size="32" font-weight="bold" fill="#000" stroke="#000" stroke-width="0.7" textLength="18.0" lengthAdjust="spacingAndGlyphs">b</text>
<rect x="574.40" y="433.07" width="12.50" height="9.93" fill="#ffffff"/>
<rect x="574.40" y="423.43" width="12.50" height="9.93" fill="#ffffd1"/>
<rect x="574.40" y="413.80" width="12.50" height="9.93" fill="#fff7be"/>
<rect x="574.40" y="404.17" width="12.50" height="9.93" fill="#fff0ac"/>
<rect x="574.40" y="394.53" width="12.50" height="9.93" fill="#ffe79a"/>
<rect x="574.40" y="384.90" width="12.50" height="9.93" fill="#fedf88"/>
<rect x="574.40" y="375.27" width="12.50" height="9.93" fill="#fed076"/>
<rect x="574.40" y="365.63" width="12.50" height="9.93" fill="#fec065"/>
<rect x="574.40" y="356.00" width="12.50" height="9.93" fill="#feb05a"/>
<rect x="574.40" y="346.37" width="12.50" height="9.93" fill="#fda053"/>
<rect x="574.40" y="336.73" width="12.50" height="9.93" fill="#fd8b4c"/>
<rect x="574.40" y="327.10" width="12.50" height="9.93" fill="#fd7044"/>
<rect x="574.40" y="317.47" width="12.50" height="9.93" fill="#f8573d"/>
<rect x="574.40" y="307.83" width="12.50" height="9.93" fill="#ee4137"/>
<rect x="574.40" y="298.20" width="12.50" height="9.93" fill="#e22e34"/>
<rect x="574.40" y="288.57" width="12.50" height="9.93" fill="#d22338"/>
<rect x="574.40" y="278.93" width="12.50" height="9.93" fill="#c0193c"/>
<rect x="574.40" y="269.30" width="12.50" height="9.93" fill="#a7193c"/>
<polygon points="574.40,269.60 580.65,260.30 586.90,269.60" fill="#8d193c"/>
<polygon points="574.40,269.30 580.65,260.30 586.90,269.30 586.90,442.70 580.65,450.80 574.40,442.70" fill="none" stroke="#bbbbbb" stroke-width="0.8"/>
<line x1="586.90" y1="442.70" x2="588.70" y2="442.70" stroke="#444" stroke-width="0.6"/>
<text x="589.50" y="445.20" font-size="7.4" fill="#333" textLength="10.6" lengthAdjust="spacingAndGlyphs">0.0</text>
<line x1="586.90" y1="423.43" x2="588.70" y2="423.43" stroke="#444" stroke-width="0.6"/>
<text x="589.50" y="425.93" font-size="7.4" fill="#333" textLength="10.6" lengthAdjust="spacingAndGlyphs">0.5</text>
<line x1="586.90" y1="404.17" x2="588.70" y2="404.17" stroke="#444" stroke-width="0.6"/>
<text x="589.50" y="406.67" font-size="7.4" fill="#333" textLength="10.6" lengthAdjust="spacingAndGlyphs">1.0</text>
<line x1="586.90" y1="384.90" x2="588.70" y2="384.90" stroke="#444" stroke-width="0.6"/>
<text x="589.50" y="387.40" font-size="7.4" fill="#333" textLength="10.6" lengthAdjust="spacingAndGlyphs">1.5</text>
<line x1="586.90" y1="365.63" x2="588.70" y2="365.63" stroke="#444" stroke-width="0.6"/>
<text x="589.50" y="368.13" font-size="7.4" fill="#333" textLength="10.6" lengthAdjust="spacingAndGlyphs">2.0</text>
<line x1="586.90" y1="346.37" x2="588.70" y2="346.37" stroke="#444" stroke-width="0.6"/>
<text x="589.50" y="348.87" font-size="7.4" fill="#333" textLength="10.6" lengthAdjust="spacingAndGlyphs">2.5</text>
<line x1="586.90" y1="327.10" x2="588.70" y2="327.10" stroke="#444" stroke-width="0.6"/>
<text x="589.50" y="329.60" font-size="7.4" fill="#333" textLength="10.6" lengthAdjust="spacingAndGlyphs">3.0</text>
<line x1="586.90" y1="307.83" x2="588.70" y2="307.83" stroke="#444" stroke-width="0.6"/>
<text x="589.50" y="310.33" font-size="7.4" fill="#333" textLength="10.6" lengthAdjust="spacingAndGlyphs">3.5</text>
<line x1="586.90" y1="288.57" x2="588.70" y2="288.57" stroke="#444" stroke-width="0.6"/>
<text x="589.50" y="291.07" font-size="7.4" fill="#333" textLength="10.6" lengthAdjust="spacingAndGlyphs">4.0</text>
<line x1="586.90" y1="269.30" x2="588.70" y2="269.30" stroke="#444" stroke-width="0.6"/>
<text x="589.50" y="271.80" font-size="7.4" fill="#333" textLength="10.6" lengthAdjust="spacingAndGlyphs">4.5</text>
<text x="576.00" y="356.20" font-size="9.6" fill="#222" textLength="62" lengthAdjust="spacingAndGlyphs" transform="rotate(-90 607.00 356.20)">Frequency (%)</text>
</g>
<clipPath id="clipc"><rect x="30.35" y="491.45" width="534.05" height="181.75"/></clipPath>
<g>
<g clip-path="url(#clipc)">
<line x1="51.71" y1="491.45" x2="51.71" y2="673.20" stroke="#ececec" stroke-width="0.6"/>
<line x1="94.44" y1="491.45" x2="94.44" y2="673.20" stroke="#ececec" stroke-width="0.6"/>
<line x1="137.16" y1="491.45" x2="137.16" y2="673.20" stroke="#ececec" stroke-width="0.6"/>
<line x1="179.88" y1="491.45" x2="179.88" y2="673.20" stroke="#ececec" stroke-width="0.6"/>
<line x1="222.61" y1="491.45" x2="222.61" y2="673.20" stroke="#ececec" stroke-width="0.6"/>
<line x1="265.33" y1="491.45" x2="265.33" y2="673.20" stroke="#ececec" stroke-width="0.6"/>
<line x1="308.06" y1="491.45" x2="308.06" y2="673.20" stroke="#ececec" stroke-width="0.6"/>
<line x1="350.78" y1="491.45" x2="350.78" y2="673.20" stroke="#ececec" stroke-width="0.6"/>
<line x1="393.50" y1="491.45" x2="393.50" y2="673.20" stroke="#ececec" stroke-width="0.6"/>
<line x1="436.23" y1="491.45" x2="436.23" y2="673.20" stroke="#ececec" stroke-width="0.6"/>
<line x1="478.95" y1="491.45" x2="478.95" y2="673.20" stroke="#ececec" stroke-width="0.6"/>
<line x1="521.68" y1="491.45" x2="521.68" y2="673.20" stroke="#ececec" stroke-width="0.6"/>
<line x1="30.35" y1="641.13" x2="564.40" y2="641.13" stroke="#ececec" stroke-width="0.6"/>
<line x1="30.35" y1="598.36" x2="564.40" y2="598.36" stroke="#ececec" stroke-width="0.6"/>
<line x1="30.35" y1="555.60" x2="564.40" y2="555.60" stroke="#ececec" stroke-width="0.6"/>
<line x1="30.35" y1="512.83" x2="564.40" y2="512.83" stroke="#ececec" stroke-width="0.6"/>
<path fill="#ffffdd" fill-rule="evenodd" d="M52.4 677.5l3.6 0.5 24.6 0 4.2-0.5 1.8-1.1 0-3.2 -1.9-7.5 -6.3-6.4 -4.8-7.5 0.1-5.3 0.7-2.2 4-3.1 4.3-1.5 40.6-4.9 24.5 0.8 7.5-0.9 13.9-2.3 18.2-4.4 64-8.5 13-4 22.3-8.7 25.6-3 4.3-0.2 42.7 1.9 44.9 1 42.7-0.7 10.7-1.3 12.2-6.1 7.7-7.5 9.1-11.8 3.4-9.6 6-6.1 10.7-2.5 14.5-4.2 10.1-4 2.1-1.4 6.4-11 3.2-8.2 0-1.5 -1-2 -6.7-8.3 -9.6-5.3 -4.9-2.2 -14.1-3.7 -21.3-2.4 -22.5-4.5 -22.4-2.1 -2.6-1.2 -11.3-9.7 -2.1-1.1 -28.9-0.2 -2.1 0.4 -9.6 6 -3.2 1.4 -44.9 4.6 -41.6 8.3 -19.3 4.7 -47 9.6 -12.1 7 -10 9.7 -4.9 9.6 -9.1 25.6 -1.2 1.5 -1.1 0.5 -5 1.2 -4.6 0.9 -18.2 1.1 -25.6-2.9 -10.7-3.1 -8.4-3.4 -9.7-8.5 -6.5-3.3 -1 0.2 -3.8 4.1 -1.6 0.9 -10.6-0.2 -13.9-1 -11.8 2.7 -2.1 0.9 -2.2 1.9 -11.7 12.9 -11.5 4.3 -1.2 1.1 -0.3 1.1 0.3 7.5 1.2 1 9.4 4.5 6.4 5.4 1.4 1.9 0.7 1.9 4.6 23.7 -2.1 22.5 0 19.2 0.3 1.1 1.1 1.1zM62.4 609.5l-2.2-1.5 -0.5-1.1 0.1-2.1 2.1-2.2 4.8-2.7 10.6-1.2 8.6 0.7 3 1.1 1 2.1 -0.3 1.1 -1.1 1.1 -5.8 3.1 -10.7 1.9 -9.6-0.3z"/>
<path fill="#f7fccc" fill-rule="evenodd" d="M55.1 674.3l2 0.8 3.2 0.1 17-0.2 3.6-0.7 0.1-2.2 -0.8-5.3 -8.4-13.9 -0.2-2.2 0.7-5.3 1.8-3 5.4-4.2 11.7-3.6 15-2.3 17.1-1.9 25.6 0.6 17.3-2.7 20.1-5.2 24.6-2.7 38.4-7.2 15-4.2 21.3-8.1 4.3-0.8 25.6-1.8 43.8 1 21.4-1.8 34.2 2.9 33.1 1.6 3.2-0.1 5.3-1.2 9.3-5.5 5.2-4.3 8.4-13.9 6-12.3 6.4-8.9 2.1-1.3 7.5-2.1 10.7-3.9 4.2-2.5 6.4-5.4 3-7.5 0.4-2.1 -1.3-2.1 -5.3-5.3 -3.2-2 -20.3-6.5 -29.9-7.4 -7.4-2.9 -13.6-0.5 -5.7-1 -23.5-0.1 -36.3-1.8 -43.8 4.4 -40.3 8.1 -19.5 4.9 -50.6 11.1 -12.4 7.5 -7.5 8.7 -2.1 3.8 -9.1 23.9 -2 3.2 -1.7 1.4 -8.6 2.4 -18.1 1.2 -27.8-2.7 -8.6-1.9 -9.6-2.8 -3.2-2 -6.4-5.3 -6.4-2.5 -1.5 0.4 -3.8 3.2 -2.2 0.8 -23.5-1.5 -8.3 1.8 -3.4 1.1 -5.4 4.2 -5.3 6.4 -1.7 3.3 0.5 6.4 4 16 3.1 16.1 0.9 7.4 0.3 7.5 -1.6 16.1 1.1 20.3zM61.3 612.6l-3.2-1.7 -1.7-1.8 -0.3-4.3 2-3.1 6.4-5 9.6-1.3 7.5 0.2 7.5 1.2 1.1 0.8 1 2.1 1.1 2.9 -0.7 2.2 -6 4.3 -2.9 1.1 -10.7 2.3 -7.5 0.5 -3.2-0.4z"/>
<path fill="#f0f9bb" fill-rule="evenodd" d="M57.8 651.8l2.5-0.5 3.2-2 6.9-7.1 6.9-5.9 10.7-5.2 4.3-1.5 17.1-4 14.9-2 21.1-1.7 13.1-2.3 17.1-4 18.2-1.3 16-2 31.6-8.6 21.8-4.4 25.6-6.4 51.3-0.3 40.6-1.7 35.2 4.7 32.1 2.9 3.5-0.1 4-1.7 6.4-3.8 5.3-5 4-4.5 8.5-13.9 4.6-12 2.1-4.2 2.9-3 7.3-5.4 1.5-2.1 2.4-9.7 0.1-3.2 -2-3.2 -6.8-6.1 -32.1-14.6 -2.1-0.5 -12.8-0.3 -4.3-0.9 -15 1.4 -17 0.4 -11.8 1.6 -17.1 1 -36.3 4.5 -7.5 1.1 -27.7 6.9 -17.1 7.1 -8.6 4.1 -20.3 11 -32.8 19.7 -14.5 6.4 -16.8 5.8 -3.2 1.7 -2.3 2.1 -1.9 1.1 -9.6 2.6 -11.8 0.7 -24.6-1.5 -11.7 0.1 -12.8 2.3 -12.8 4.8 -8.6 5.2 -4.3 3.1 -0.6 1.9 0.3 4.3 -1.6 2.1 -6.8 4.3 -12.2 4.3 -6.2 5.3 -5.2 5.4 -3.8 6.4 -1.1 3.2 -0.3 10.7 0.2 5 0.7 1.4z"/>
<path fill="#e1f3ba" fill-rule="evenodd" d="M59.7 645.4l1.6 0.4 2.2-1.1 10.6-12.2 9.4-6.3 15.2-5.9 31-14.5 1-1 0.3-2.2 -1.7-5.3 -2.8-1.6 -1.7-2.7 -1.5-1.2 -2.2-0.5 -2.1 0.4 -9.6 3.7 -10.7 4.8 -2 1.4 -1.5 3.2 -2.4 2.1 -8 4.5 -10.5 4.1 -10.5 10.7 -5 7.4 -0.4 2.2 0.2 7.5 1.1 2.1zM150.7 606.9l5.7 0.8 3.2-0.2 5.3-2.8 2.2-0.6 20.3 2.4 8.5 0.4 5.3-0.4 15-2.5 28.8-7.3 19.3-2.8 25.6-5.4 49.1-0.1 41.7-1.7 35.2 4.9 34.2 3.2 3.2-1.3 6.4-3.7 15.5-15 3.9-6.4 4.8-13.9 2.5-5.7 7.6-8.2 1.5-7.5 0-2.1 -1.3-2.1 -4.2-4.3 -13.2-7.5 -3.2-3.6 -12.8-6.5 -3.2-1 -12.8-0.3 -6.4-1 -12.9 2.1 -17 0.7 -16.1 3.4 -54.4 7.6 -28.9 7.4 -19 8.3 -23.7 12.8 -36.3 22 -12.8 6 -2.2 0.6 -6.4-0.6 -6.4 1.6 -6.4 2.1 -4.3 3.1 -10.6 3.2 -11.8 0.1 -8.5-1.5 -5.4-0.2 -9.6 0.3 -2.1 0.4 -1.4 1.4 -0.4 2.2 -0.2 6.4 0.4 3.2 4.3 7.5 1.5 1.3 2.9 0.8z"/>
<path fill="#d1edbb" fill-rule="evenodd" d="M60.8 642.2l0.5 0.4 1.1-0.3 1.1-1 9-10.9 10.2-7 5.3-2.7 17.1-7.3 17.6-8.6 1.2-1.1 0.6-2.1 -2.4-6.4 -1-0.7 -2.1 0.1 -19.2 7.9 -5.2 4.4 -4.4 2.7 -6.4 3.2 -9 3.7 -10.3 10.8 -4.4 6.3 -0.5 2.2 0.5 5.3 0.7 1.1zM150.8 603.7l6.7 0.9 2.1-0.4 5.3-3.1 6.7-2.7 3.2-2.2 1-1 0.3-1.1 -2.3-3.2 -3.3-3.2 -8.8-3.1 -8.5-0.4 -7.5 1.3 -1 2.2 0.1 7.5 3.4 6.4 0.8 1 1.8 1.1zM191.8 600.5l5.2 0.6 5.3 0 12.8-1.5 4.5-1.2 9.4-3.9 3.8-2.6 4.3-5.3 1.5-3.2 0-1.1 -2.1-1.3 -9.6-2.6 -10.7 0.2 -6.4-1.3 -12.3 2.9 -4.8 3.6 -6.7 3.9 -3 3.2 -2 3.2 0.1 1.1 0.8 1 3 2.2 3.5 1.5 3.4 0.6zM444.2 590.9l5.9 0.3 3.2-1.2 6.4-3.9 15-11.9 3.7-5.8 5.6-17.1 4.8-10.7 0.9-3.2 0-4.3 -0.9-2.1 -2.5-3.2 -9.5-9 -3.2-4.4 -11.7-6.4 -4.3-1.6 -12.8-0.3 -6.4-0.9 -13.2 2.3 -16.7 0.9 -16.1 3.8 -21.3 4.4 -34.2 8.8 -25.6 9.8 -24.6 12 -16 9 -18.4 12.2 -4.7 5.4 -1.9 3.2 -0.6 2.1 0.3 1.1 1.3 1.1 5.8 2.7 4.3 1.1 9.6 1.4 3.2 0 20.3-2.2 49.1-0.7 41.7-1.2 8.5 0.6 26.7 5 28.3 2.9z"/>
<path fill="#b6e2be" fill-rule="evenodd" d="M62.4 635.8l1.1-0.5 6.4-7.6 16-10.6 19.4-8 13-6.5 1-1 -0.3-2.9 -1.1-0.1 -2.6 0.8 -12.5 5.4 -14.8 8.3 -11.7 5.3 -10.7 11.9 -3 4.4 -0.2 1.1zM153.7 601.6l4.8 0.1 7.2-4.4 1-2.1 0.9-4.3 -0.3-2.2 -1-1 -4.6-2.3 -3.2-0.5 -5.3 0.2 -5.4 1.9 -0.8 2.8 0.4 5.4 3.4 5.3 2.9 1.1zM199.5 595.2l3.9 0.1 12-1.2 7.5-4.3 0.7-1.1 -0.2-1 -1.2-2.2 -1.7-1.5 -9.6-3 -4.6 0.3 -7.2 1.8 -2.1 1.3 -4.7 4.3 -1.3 2.2 0.6 2 1.1 0.8 6.8 1.5zM447.5 587.7l3.7-0.3 4.3-2.1 11.7-6.3 6.9-5.2 3.8-5.6 2.4-7.3 4.4-16 0-6.4 -0.5-4.3 -5.5-10.7 -4.4-7.5 -2.8-2.6 -9.6-5 -4.3-1.7 -12.8-0.2 -6.4-0.9 -12.9 2.3 -17 1.7 -21.5 5.4 -17.1 5.3 -28.7 10.8 -17.6 8.5 -16.6 9.7 -15.8 7.4 -12.8 7.5 -13.5 9.6 -1.2 1 -0.2 1.1 1.2 1.1 3.8 1.9 3.2 0.6 48.1-0.2 43.8-1.3 24.6 0 27.7 6.3 31.6 3.4z"/>
<path fill="#97d6c1" fill-rule="evenodd" d="M156.2 597.3l2.3-0.2 2.2-0.8 1.5-1.1 1.4-2.2 0.8-3.2 -0.4-1.1 -2.2-2.1 -2.2-0.7 -4.3 0 -2.1 0.7 -2.3 2.1 -0.8 3.2 0.6 2.2 2.5 2.4 3 0.8zM446.1 583.4l5.1-0.1 10.7-3.5 5.3-2 5.3-3.5 4.6-5.9 2.1-6.4 1.2-5.3 1.3-10.7 -0.9-10.7 -0.9-5.4 -3.8-9.6 -3.6-5.8 -9.6-5.2 -5.3-2.3 -12.8-0.2 -6.4-0.9 -23.5 4.1 -18.5 6 -26.4 13.7 -18.2 6.7 -17 7.3 -17.9 9.8 -11 6.6 -3.8 3 -2.4 3.2 0 1.1 0.6 1 2.7 2.2 2.9 1.5 3.2 1.1 10.7 2.1 59.8-3.5 11.8 1.5 25.6 6.6 15 2.1 14.1 1.4z"/>
<path fill="#7bccc4" fill-rule="evenodd" d="M156.7 589.8l0.8 0.7 1.3-0.7 -1.3-0.4 -0.8 0.4zM442.6 579.1l9.6 0.3 9.7-1.6 6.3-1.9 4.3-2.9 3.2-3.9 1.1-1.7 1.6-6.5 1.3-11.7 -0.2-16.1 -0.5-3.2 -2.7-7.4 -2.4-5.4 -1.4-2.1 -10.6-5.9 -4.3-1.8 -12.8-0.3 -6.4-0.8 -19.3 3.6 -5.3 1.5 -17.1 9.3 -17.9 13.6 -6.7 4.5 -16.8 6.2 -15.1 6.4 -9.7 5.9 -10 4.8 -5.7 4.3 -0.1 1.1 1.6 1 5.6 1.9 39.6-3.8 18.1-0.8 17.9 3.8 19.5 5.7 15 2.8 10.6 1.1z"/>
<path fill="#61c2c8" fill-rule="evenodd" d="M439.2 575.9l13 0.9 7.5-0.7 5.7-1.3 2.9-1 4.2-2.6 2.3-2.8 1-2.1 2.1-8.6 0.7-6.4 0.3-11.7 -0.5-9.7 -3.4-9.6 -2.5-4.7 -2.4-1.7 -11.4-5.9 -2.2-0.5 -12.8-0.2 -5.3-0.8 -19.3 3.8 -6.4 2.3 -7.4 4.3 -3.3 2.8 -5.3 3.2 -17.5 13.5 -1.9 2.1 -9.7 15 0.2 1 2.4 2.2 9.4 4.6 20.3 4.2 22.4 6.9 16.9 3.5z"/>
<path fill="#4cb5c9" fill-rule="evenodd" d="M448.6 574.8l3.6 0.2 7.5-0.8 10.8-3.6 1.3-1.1 1.8-3.2 3.7-10.7 0.8-7.5 0.2-13.9 -0.2-3.2 -1.3-4 -4.4-11 -1.2-1 -9.6-5.4 -4-1.6 -12.8-0.3 -5.4-0.8 -14.9 2.8 -8.4 2.1 -9.9 5.3 -3.1 3.1 -17.4 12.9 -5.5 5.4 -0.7 3.2 -0.3 10.7 1.4 3.2 2.2 2 7.5 1.3 11.7 3.2 5.4 1.9 4.3 2.5 16 5.3 12.8 2.5 8.1 0.5z"/>
<path fill="#3da6c7" fill-rule="evenodd" d="M450.1 573.8l8.7-1.1 10.5-3.6 2.2-2.7 4.2-9.3 1.5-6.8 0.4-18.2 -3.7-11.8 -1.3-3.2 -1.1-1.4 -13.3-7.1 -14.5-0.6 -5.3-0.7 -18.2 3.9 -5 1.6 -8.9 5.2 -11.5 10.9 -6.3 9.6 -1 2.1 -0.2 2.2 1.1 6.4 7.8 7.5 12.3 6.2 3.3 2.3 15.9 5.4 5.3 1.3 7.5 1.1 9.6 0.8z"/>
<path fill="#3494c2" fill-rule="evenodd" d="M441.2 571.6l11 0.7 7.2-1.7 8.5-3.2 2.5-3.3 4.3-8.3 1.2-3.4 0.9-9 0.1-11.3 -4.4-13.7 -1-1.8 -2.3-1.6 -7.4-4.3 -4.2-1.7 -18.2-1.1 -13.9 2.8 -7.8 2.1 -4.4 2.2 -6.5 4.2 -6.5 7.5 -2.6 4.3 -2 10.7 3.1 10.7 1.8 3.2 12.5 8.6 15.8 5.3 4.3 1.1 8 1z"/>
<path fill="#377eb8" fill-rule="evenodd" d="M443.9 568.4l8.3 0.7 13.9-4.5 1.8-1.5 1.4-2.1 5.6-10.7 0.8-9.4 0.2-8.8 -4.4-13.6 -2.5-2.5 -7.1-4.3 -4.3-1.9 -18.2-0.8 -12.2 2.8 -5.9 1.8 -3.4 2.4 -7.2 7.5 -2.5 4.3 -2 5.3 -1.2 8.6 0.9 6.4 1.8 3.2 6.4 6.4 4 2.9 13.9 5.8 3.2 0.9 8.7 1.1z"/>
<path fill="#386aaf" fill-rule="evenodd" d="M446.1 564.2l6.1 0.5 12.9-3.6 2.1-2.1 5.9-9.8 0.9-9.6 0.1-6.5 -3.6-11.7 -2.4-3.2 -7.3-5.4 -2.1-0.8 -10.6-1.3 -5.2 0 -17.4 4.9 -1 0.5 -1.9 2.1 -5.6 9.6 -1.2 3.2 -1.7 13.9 1.1 2.1 5.3 6.5 2.9 2.4 11.8 6.2 10.9 2.1z"/>
<path fill="#3a58a6" fill-rule="evenodd" d="M448.1 559.9l4.1 0.2 7.5-1 3.2-1 1.9-1.4 4.5-5.1 1.4-2.4 1.4-11.8 -0.3-4.3 -1.5-6.4 -2-4 -2.1-2.4 -3.8-3.2 -2.7-1.5 -11.7-1.9 -4.3 0.5 -9.6 2.8 -2.5 1.2 -2.4 2.1 -2 3.2 -2.8 7.5 -1.6 9.6 0.3 2.2 1.9 3.2 2.5 3.2 4.6 4.3 6.3 3.5 9.7 2.9z"/>
<path fill="#39479c" fill-rule="evenodd" d="M450.3 555.6l9.4-0.3 2.2-0.9 4.2-3.2 2.3-3.1 1.7-10.7 -1.8-10.1 -1.1-1.8 -2.9-3 -4.6-3.6 -10.7-1.9 -10.6 2.9 -2.9 1.5 -1.2 2.1 -1.5 5.4 -1.6 10.7 1.3 3.2 4.8 6.8 9.6 5.1 3.4 0.9z"/>
<path fill="#2d3d82" fill-rule="evenodd" d="M450.2 551.3l3.1 0.5 5.4-0.6 5.3-2.4 1.1-1.1 1-2.4 1.8-5.7 0.1-2.2 -1.9-9.2 -4.2-4.5 -3.2-2.1 -9.7-1.3 -6.4 2.6 -3.2 2.1 -1.2 3.9 -1 8.5 0.8 3.2 3 5.4 2.7 2.1 6.5 3.2z"/>
<path fill="#213469" fill-rule="evenodd" d="M452.2 548.1l4.3-0.2 5.4-1.4 1.5-1.6 1.6-3.2 0.9-2.1 0.2-2.2 -1.5-7.5 -1.7-2.2 -3.2-2.7 -2.1-1 -7.5-0.7 -2.1 0.5 -2.2 1.3 -2.8 2.7 -1 8.6 0.9 3.2 2 4.2 2 1.8 5.3 2.5z"/>
<g transform="matrix(2.1362 0 0 2.1382 -33.736 641.126)"><path d="M29.9,-31.2 31.0,-31.6 32.3,-31.3 34.2,-31.3 34.9,-32.8 35.5,-33.9 35.9,-35.3 36.0,-36.0 36.2,-36.6 35.6,-36.6 34.6,-36.8 34.0,-36.2 32.5,-36.1 31.0,-36.8 30.6,-36.8 30.0,-36.3M32.3,-35.0 33.0,-34.6 34.0,-34.9 34.6,-35.7 33.0,-35.4 32.3,-35.0M30.0,-41.1 31.5,-41.2 33.0,-42.0 35.2,-42.0 36.3,-41.3 38.0,-40.9 39.7,-41.0 41.6,-41.6 41.6,-42.6 40.0,-43.4 38.2,-44.4 37.3,-45.0 36.6,-45.3 38.0,-46.3 39.3,-47.1 37.5,-47.0 35.5,-46.5 35.0,-45.7 36.5,-45.4 35.3,-45.0 34.0,-44.4 33.5,-44.6 32.5,-45.4 33.6,-46.1 31.7,-46.6 30.7,-46.5 30.0,-45.9M47.9,-46.0 49.0,-46.5 51.0,-47.0 51.9,-47.1 53.0,-46.7 53.2,-45.3 51.3,-44.5 50.3,-44.5 51.3,-43.5 52.7,-42.0 53.5,-41.5 53.0,-40.0 53.8,-38.8 54.0,-37.4 53.0,-36.8 51.5,-36.8 50.0,-37.4 48.9,-38.4 49.5,-39.5 50.3,-40.4 49.5,-41.0 48.3,-42.0 47.5,-43.0 47.3,-44.6 46.8,-44.8 47.5,-45.6 47.9,-46.0M58.3,-45.5 59.5,-46.2 61.0,-46.4 61.6,-45.3 60.3,-44.0 59.0,-43.8 58.3,-45.5M73.6,-46.4 75.0,-46.8 77.0,-46.5 79.2,-46.1 78.5,-45.8 76.5,-46.1 74.5,-45.8 73.6,-46.4M76.2,-42.5 77.5,-42.8 78.5,-42.4 77.5,-42.2 76.2,-42.5M32.3,-31.3 32.5,-29.9 33.3,-28.3 33.8,-27.2 34.6,-25.6 35.6,-23.9 36.9,-22.0 37.2,-19.6 38.6,-18.0 39.5,-15.6 40.5,-14.9 41.6,-13.5 42.7,-12.8 43.2,-11.6 44.5,-10.4 45.0,-10.4 46.6,-10.8 48.5,-11.2 51.3,-11.8 51.0,-10.4 50.6,-9.1 49.6,-7.6 48.5,-5.5 47.2,-3.7 45.3,-2.0 43.5,-0.6 42.5,0.4 41.6,1.6 40.2,2.6 39.2,4.7 38.8,6.4 39.5,7.0 39.3,8.5 39.8,10.0 40.4,10.5 40.5,12.5 40.6,15.0M32.5,-29.9 33.6,-28.2 34.3,-27.9 34.6,-28.8 35.0,-29.5 35.5,-28.0 36.5,-26.0 38.0,-24.1 39.2,-21.5 40.5,-19.0 41.5,-17.5 42.7,-15.5 43.3,-12.7 45.0,-12.8 48.5,-14.0 49.1,-14.5 52.2,-15.6 54.1,-17.0 55.5,-17.8 56.8,-18.7 57.8,-19.2 58.6,-20.5 59.8,-22.5 58.6,-23.6 57.5,-23.9 56.4,-24.9 56.3,-26.4 56.0,-25.4 55.3,-25.3 54.4,-24.3 53.0,-24.1 51.6,-24.3 51.6,-25.8 51.2,-26.1 50.8,-25.0 50.2,-26.3 50.1,-26.8 49.4,-27.6 48.6,-28.2 48.0,-29.3 48.5,-30.0M48.5,-30.0 49.5,-30.0 50.8,-28.9 51.5,-27.9 52.5,-27.4 54.0,-26.7 55.5,-26.6 56.3,-27.2 57.2,-26.9 57.8,-25.6 59.5,-25.4 61.6,-25.2 63.5,-25.3 65.5,-25.4 67.0,-24.8 67.5,-23.9 68.5,-23.6 68.9,-22.8 69.9,-22.4 69.1,-22.4 70.0,-20.9 71.3,-20.8 72.6,-21.5 72.8,-20.4 72.8,-19.0 73.3,-17.0 73.8,-15.4 74.5,-14.0 74.8,-12.9 75.5,-11.5 76.2,-10.0 76.6,-8.9 77.5,-8.1 78.2,-8.8 79.0,-9.2 79.3,-9.3 79.8,-10.3 79.8,-11.5 80.3,-13.1 80.1,-14.5 80.2,-15.5 81.2,-16.2 82.3,-16.6 83.3,-17.7 84.5,-18.8 85.3,-19.7 86.5,-20.1 87.0,-21.5 88.1,-21.8 89.0,-21.7 90.0,-21.9 90.5,-22.5 91.5,-22.6 91.8,-22.3 92.0,-21.4 92.5,-20.6 92.9,-20.1 93.6,-19.3 94.3,-18.5 94.5,-17.3 94.2,-16.0 95.0,-15.7 95.5,-15.8 96.2,-16.8 97.0,-16.9 97.6,-16.5 97.8,-15.2 98.1,-13.8 98.6,-12.2 98.5,-10.0 98.3,-8.0 99.1,-7.5 100.3,-6.0 100.3,-5.4 100.8,-3.9 101.3,-2.9 102.3,-2.2 103.5,-1.3 103.9,-1.4 104.2,-1.5 103.6,-2.6 103.4,-3.8 103.4,-4.8 102.3,-6.1 101.3,-6.9 100.4,-7.3 100.3,-8.4 99.9,-9.3 99.2,-10.5 99.6,-11.8 99.9,-12.6 100.0,-13.4 100.5,-13.5 100.9,-12.7 101.5,-12.6 102.3,-12.1 103.0,-11.5 104.1,-10.6 104.8,-9.5 104.8,-8.6 105.5,-9.1 106.3,-9.6 106.8,-10.0 107.1,-10.3 108.2,-10.9 108.9,-11.3 109.2,-12.2 109.3,-13.7 108.8,-15.1 108.2,-16.1 107.6,-16.5 106.6,-17.6 105.7,-18.7 106.0,-19.9 106.7,-20.8 107.5,-21.3 108.0,-21.5 109.1,-21.5 109.8,-21.4 110.0,-20.3 110.5,-20.4 110.4,-21.2 111.5,-21.6 112.5,-21.8 113.5,-22.2 114.2,-22.3 115.5,-22.8 116.7,-23.3 117.5,-23.8 118.1,-24.5 118.9,-25.0 119.6,-26.0 119.8,-26.8 120.7,-28.0 121.5,-28.7 121.9,-29.9 121.0,-30.5 121.9,-31.0 121.6,-31.7 121.0,-32.5 120.8,-33.2 120.3,-34.3 119.3,-34.7 119.8,-35.6 120.4,-36.1 121.4,-36.7 122.6,-37.4 121.4,-37.6 120.2,-37.5 119.3,-37.1 118.9,-38.0 117.7,-39.0 118.5,-39.2 119.6,-39.9 120.7,-40.5 121.6,-40.9 122.2,-40.4 121.6,-39.5 121.6,-38.9 122.3,-39.5 123.5,-39.8 124.4,-40.0 125.2,-39.5 125.3,-38.8 125.5,-38.7 126.2,-37.7 126.6,-37.5 126.8,-36.8 126.4,-36.0 126.5,-35.0 126.4,-34.5 127.5,-34.6 128.5,-34.9 129.1,-35.1 129.4,-36.0 129.4,-37.0 128.9,-37.8 128.4,-38.6 127.6,-39.2 127.5,-39.8 128.6,-40.2 129.7,-40.9 129.8,-41.8 130.6,-42.4 131.3,-42.8 131.9,-43.1 133.2,-42.7 134.5,-43.2 135.5,-44.0 137.0,-45.2 138.3,-46.5 139.5,-47.8 140.3,-48.9 140.5,-50.1 140.6,-51.3 141.4,-52.3 141.2,-53.3 140.0,-53.8 138.5,-54.0 137.4,-53.9 137.2,-54.6 136.0,-54.7 135.2,-54.8 136.9,-55.8 138.2,-56.6 139.8,-57.9 141.5,-58.8 143.0,-59.3 145.5,-59.4 148.0,-59.3 149.5,-59.7 150.8,-59.6 152.5,-59.0 154.5,-59.2 155.0,-60.0 156.8,-61.5 158.5,-61.8 160.2,-61.6 160.5,-62.3 162.5,-62.7 164.5,-62.6 163.5,-61.8 161.8,-60.9 160.4,-60.4 159.8,-59.6 158.5,-58.5 157.2,-58.0 156.5,-57.3 156.0,-56.5 155.8,-55.0 156.0,-53.2 156.4,-52.0 156.7,-51.0 157.5,-51.5 158.6,-53.0 159.8,-53.4 160.0,-54.1 161.8,-54.8 161.8,-55.7 162.2,-56.1 163.3,-56.2 163.0,-57.0 162.5,-57.5 163.3,-58.2 163.7,-59.0 165.5,-59.9 167.5,-60.3 168.5,-60.6 170.4,-60.0 171.6,-60.6 172.5,-61.0 174.2,-61.8 175.5,-62.0 177.0,-62.5 179.0,-62.3 179.4,-63.0 178.5,-63.5 178.8,-64.6 177.5,-64.7 176.3,-65.2 177.5,-65.4 179.5,-65.5 180.5,-65.5 181.5,-65.2 183.5,-64.5 184.5,-64.4 186.2,-64.6 187.2,-65.0 187.5,-65.5 188.0,-65.6 190.3,-66.1 189.3,-66.6 187.0,-67.2 185.0,-67.5 183.0,-68.0 181.5,-68.6 180.0,-68.9 178.0,-69.5 176.5,-69.8 175.5,-70.0M30.0,-69.8 32.0,-69.9 33.1,-69.2 35.0,-69.2 37.5,-68.8 39.5,-68.2 41.0,-67.8 40.5,-66.5 39.2,-66.1 37.5,-66.2 35.5,-66.4 33.5,-66.7 33.0,-66.0 34.5,-65.0 35.5,-64.4 36.5,-64.2 37.5,-63.8 38.5,-64.5 39.7,-64.6 40.5,-64.8 40.3,-65.5 41.5,-66.0 43.5,-66.4 44.2,-67.0 44.0,-68.0 43.3,-68.6 45.5,-68.5 46.3,-68.0 48.5,-67.7 50.5,-68.2 53.0,-68.6 54.5,-68.3 57.0,-68.6 59.0,-68.6 60.5,-69.6 62.5,-69.5 64.5,-69.3 66.0,-69.0 67.0,-68.5 68.3,-68.2 68.8,-69.5 67.5,-70.0M72.8,-70.0 73.2,-69.0 72.8,-68.0 72.5,-67.0 71.5,-66.5 72.0,-66.3 73.5,-66.6 74.5,-67.5 75.0,-68.5 76.5,-68.3 77.5,-68.6 78.2,-70.0M84.0,-70.0 83.0,-69.5 82.5,-68.5 84.0,-68.9 86.0,-69.6 87.0,-70.0M129.8,-33.3 130.9,-33.9 131.7,-33.3 131.6,-32.3 131.3,-31.4 130.7,-31.0 130.2,-31.3 130.3,-32.5 129.7,-33.0 129.8,-33.3M132.5,-33.3 133.0,-34.0 134.0,-34.3 134.6,-34.2 134.7,-33.8 134.2,-33.2 133.0,-32.8 132.5,-33.3M130.9,-34.0 131.5,-34.5 132.7,-35.5 134.0,-35.5 135.3,-35.6 136.0,-35.9 136.7,-37.2 137.3,-36.8 138.3,-37.1 139.1,-38.0 139.9,-39.5 140.0,-40.5 140.3,-41.2 141.1,-40.9 141.4,-41.4 141.6,-40.5 142.0,-39.5 141.5,-38.5 141.0,-38.3 141.0,-37.0 140.8,-36.0 140.9,-35.7 140.4,-35.1 139.8,-35.0 139.8,-35.5 139.2,-35.2 138.8,-34.6 138.3,-35.0 137.0,-34.6 136.9,-34.3 136.0,-33.5 135.3,-33.7 135.1,-34.2 135.2,-34.6 134.0,-34.6 133.0,-34.4 132.0,-33.9 130.9,-34.0M140.0,-41.5 141.0,-41.8 140.5,-42.6 140.4,-43.3 141.5,-43.2 141.7,-44.5 141.9,-45.5 143.0,-44.8 144.0,-44.1 145.3,-44.3 145.2,-43.6 145.8,-43.4 144.4,-42.9 143.3,-42.0 141.7,-42.6 141.0,-42.3 140.4,-41.4 140.0,-41.5M142.0,-46.0 143.0,-46.6 143.5,-47.5 144.7,-48.6 143.1,-49.2 143.3,-51.0 143.2,-52.5 143.0,-53.6 142.6,-54.3 142.2,-53.5 141.7,-52.0 142.0,-50.5 142.1,-48.5 141.9,-47.0 142.0,-46.0M121.0,-25.2 122.0,-25.0 121.5,-23.0 120.8,-21.9 120.2,-22.7 120.1,-23.5 121.0,-25.2M108.6,-19.2 109.7,-20.0 110.7,-20.1 111.0,-19.6 110.1,-18.3 109.5,-18.2 108.6,-18.5 108.6,-19.2M79.8,-8.0 80.0,-9.6 80.4,-9.8 81.2,-8.5 81.8,-7.4 81.6,-6.4 80.6,-5.9 80.0,-6.4 79.8,-8.0M47.0,15.0 47.8,14.0 48.3,13.3 49.3,12.0 49.9,13.3 50.2,14.5 50.4,15.0M95.3,-5.6 96.0,-4.5 97.5,-2.5 98.7,-1.7 99.5,-0.2 100.4,1.0 101.0,2.3 102.3,3.5 103.7,5.0 104.6,5.9 105.8,5.8 105.9,4.2 106.0,3.0 104.7,2.3 104.5,1.0 103.5,0.8 103.0,-0.2 101.5,-1.7 100.3,-2.5 98.7,-3.7 97.5,-5.2 95.3,-5.6M105.2,6.8 106.8,6.0 108.3,6.3 110.4,6.9 112.7,7.0 114.4,7.7 114.6,8.7 112.0,8.3 110.0,8.0 108.0,7.8 106.5,7.4 105.2,6.8M115.1,8.1 115.7,8.4 115.2,8.8 115.1,8.1M116.0,8.4 116.7,8.3 116.5,8.9 116.0,8.4M117.0,8.5 118.5,8.2 119.1,8.6 117.8,9.0 117.0,8.5M119.8,8.5 121.5,8.5 123.0,8.3 122.5,8.8 120.5,8.8 119.8,8.5M124.0,10.1 125.2,9.0 127.3,8.4 126.0,9.3 124.4,10.3 124.0,10.1M119.0,9.6 120.8,10.0 120.2,10.3 119.0,9.6M109.6,-2.0 110.3,-1.6 111.3,-2.2 113.0,-3.2 114.0,-4.4 115.0,-5.0 116.0,-6.0 116.8,-7.0 117.5,-6.4 118.1,-5.8 119.2,-5.2 118.0,-4.3 117.7,-3.0 118.1,-1.0 117.5,-0.0 116.8,1.3 116.5,2.5 116.2,3.8 114.6,3.4 113.0,3.2 111.5,3.0 110.2,2.9 110.0,1.5 109.3,-0.0 108.9,-0.8 109.6,-2.0M119.8,0.9 120.1,-0.5 121.0,-1.2 122.5,-1.0 124.0,-0.9 124.9,-1.5 125.2,-1.3 124.5,-0.5 123.0,-0.5 121.0,-0.5 120.3,0.5 120.8,1.3 121.6,0.8 123.3,0.9 122.5,1.5 121.4,2.0 122.5,3.0 122.8,4.5 121.6,4.8 121.3,3.8 120.9,2.7 120.4,2.9 120.4,5.5 119.5,5.6 119.4,5.1 119.4,3.0 119.0,2.5 119.3,1.2 119.8,0.9M127.5,-1.8 128.0,-1.0 128.7,-0.9 128.0,-0.4 128.9,0.6 127.9,0.2 127.6,-0.8 127.5,-1.8M127.9,3.2 129.0,2.8 130.8,3.0 130.4,3.6 128.5,3.4 127.9,3.2M126.0,3.1 127.2,3.3 126.7,3.8 126.0,3.6 126.0,3.1M131.0,1.4 132.5,0.4 134.1,0.9 135.0,3.3 136.5,2.3 137.5,1.5 139.0,2.0 141.0,2.6 142.8,3.3 144.5,3.8 145.8,5.0 146.5,5.8 147.7,6.2 147.0,7.0 147.8,8.0 148.6,9.0 149.5,9.8 150.5,10.3 149.0,10.3 147.2,9.5 146.0,8.2 144.5,7.6 143.5,8.3 143.0,9.2 141.0,9.2 139.8,8.0 138.5,8.4 138.0,7.5 138.6,6.5 137.6,5.4 135.5,4.4 134.0,3.8 133.0,4.0 132.0,2.9 133.2,2.4 132.0,2.2 131.0,1.4M148.3,5.5 149.5,5.6 150.5,5.5 151.5,4.9 152.3,4.2 152.0,5.5 150.5,6.2 148.3,5.5M150.7,2.6 152.0,3.3 153.2,4.7 152.5,4.2 150.7,2.6M129.5,15.0 130.1,13.2 130.3,12.7 131.0,12.2 132.6,11.6 133.5,11.9 135.5,12.0 136.9,12.3 136.0,13.4 135.5,15.0M141.4,15.0 141.6,12.6 142.5,10.7 143.4,12.5 143.8,14.0 144.5,14.3 145.3,15.0M124.0,15.0 125.0,14.5 126.0,14.0 127.0,13.9 128.2,14.9 129.0,15.0M120.6,-18.5 122.2,-18.5 122.3,-17.0 121.6,-15.9 121.6,-14.9 121.8,-14.0 122.6,-14.2 123.1,-13.7 124.0,-13.0 123.0,-13.0 122.0,-13.8 120.6,-14.2 120.6,-14.8 120.0,-16.3 120.4,-17.5 120.6,-18.5M122.0,-7.0 123.0,-7.7 123.8,-7.8 124.5,-8.5 125.5,-9.8 126.3,-8.0 126.5,-7.0 125.5,-5.8 124.2,-6.2 124.0,-7.2 122.0,-7.0M124.5,-11.0 125.8,-11.0 125.5,-12.6 124.3,-12.5 124.5,-11.0M124.3,-10.0 125.3,-10.2 125.0,-11.3 124.3,-11.6 124.3,-10.0M122.0,-10.5 123.0,-11.0 122.5,-11.8 122.0,-11.5 122.0,-10.5M122.4,-9.0 123.3,-9.3 123.5,-10.8 122.8,-10.6 122.4,-9.0M123.3,-9.5 124.1,-11.2 123.8,-10.3 123.3,-9.5M120.3,-13.5 121.5,-13.2 121.2,-12.2 120.3,-13.5M117.2,-8.4 118.5,-9.4 119.8,-11.5 119.3,-10.5 117.9,-9.2 117.2,-8.4M204.2,-19.8 204.9,-19.3 205.0,-19.8 204.4,-20.2 204.2,-19.8M203.3,-20.9 203.9,-20.7 203.5,-20.6 203.3,-20.9M193.0,-70.0 193.3,-69.0 193.2,-68.3 194.5,-68.0 196.0,-67.6 197.4,-66.9 196.0,-66.5 194.0,-66.3 192.0,-65.8 193.5,-64.6 195.5,-64.5 197.5,-64.4 198.5,-63.8 196.0,-63.3 195.0,-62.5 194.5,-61.5 195.5,-60.5 196.5,-59.5 198.5,-58.6 200.0,-58.7 202.5,-58.0 201.0,-57.2 199.0,-56.5 197.5,-55.6 196.0,-54.8 197.5,-54.9 199.0,-55.3 201.0,-55.9 203.5,-56.6 205.5,-57.5 206.5,-58.5 208.0,-59.2 208.5,-60.3 209.5,-61.0 210.0,-60.5 211.0,-60.0 212.5,-60.6 214.0,-60.4 216.0,-60.0 218.5,-59.9 220.3,-59.5 222.0,-58.7 223.5,-58.0 225.6,-58.3 225.5,-57.5 226.5,-56.5 227.5,-55.5 229.5,-54.8 229.7,-54.3 230.5,-53.0 231.5,-52.0 232.5,-51.0 233.0,-50.3 234.0,-49.8 235.0,-49.5 236.5,-48.8 237.0,-48.2 237.7,-47.6 236.6,-47.0 236.0,-46.2 236.0,-45.0 235.9,-43.4 235.8,-42.0 235.6,-40.4 236.5,-39.0 237.0,-38.3 237.6,-37.8 238.0,-37.0 238.9,-35.5 239.5,-34.5 240.5,-34.1 241.6,-33.7 242.5,-33.2 242.8,-32.7 243.3,-31.8 244.0,-30.5 244.6,-29.4 245.5,-28.3 246.0,-27.0 247.0,-26.0 248.0,-24.8 249.0,-24.0 250.1,-22.9 250.5,-23.5 249.7,-24.1 249.2,-25.5 248.3,-26.5 247.2,-27.5 246.8,-28.5 245.7,-29.8 245.2,-31.0 245.3,-31.8 246.3,-31.4 247.3,-30.8 248.0,-29.2 249.1,-27.9 250.3,-26.3 251.2,-25.3 252.0,-24.4 253.6,-23.2 254.5,-22.0 254.7,-21.3 254.8,-20.6 255.3,-19.6 255.7,-19.1 256.9,-18.2 258.0,-17.8 260.1,-16.8 261.8,-16.2 263.2,-15.8 264.8,-16.2 265.5,-16.0 266.8,-15.5 267.8,-14.7 268.5,-14.2 269.3,-13.9 271.0,-13.3 272.2,-13.2 272.8,-12.5 273.5,-11.8 274.3,-10.7 274.5,-9.9 275.5,-8.8 276.5,-8.3 277.5,-8.0 278.0,-7.3 279.0,-7.5 279.8,-8.2 280.0,-8.5M280.0,-9.4 279.0,-9.1 278.0,-9.3 277.0,-9.5 276.5,-10.5 276.3,-11.5 276.4,-13.0 276.5,-14.5 276.8,-15.1 276.0,-15.8 275.0,-15.9 274.0,-15.8 272.5,-15.8 271.8,-15.9 271.5,-16.8 271.8,-17.5 272.2,-18.5 272.6,-19.5 273.0,-21.0 273.2,-21.5 272.5,-21.5 270.5,-21.4 269.5,-20.7 269.5,-19.8 268.5,-18.7 267.5,-18.6 266.0,-18.5 265.5,-18.5 264.5,-18.7 263.9,-19.2 263.3,-20.0 262.8,-21.0 262.2,-22.3 262.3,-23.5 262.3,-25.0 262.6,-26.5 262.6,-27.8 263.0,-28.3 264.0,-28.8 265.2,-29.3 266.5,-29.7 267.5,-29.6 268.5,-29.5 269.5,-29.3 270.6,-29.1 270.9,-29.8 271.5,-30.3 272.0,-30.6 273.5,-30.3 274.5,-30.2 275.5,-30.0 276.0,-29.9 276.9,-29.0 277.3,-28.3 277.4,-27.5 277.8,-26.7 278.5,-25.5 279.1,-25.3 279.8,-25.4 280.0,-25.7M275.1,-21.9 276.0,-22.0 277.0,-22.6 278.0,-23.1 280.0,-23.2M280.0,-21.8 279.0,-21.7 278.0,-22.3 277.5,-22.0 276.3,-21.5 275.1,-21.9M265.8,-58.8 266.5,-57.8 267.8,-57.1 269.5,-56.9 271.0,-56.5 272.5,-55.3 274.0,-55.2 275.5,-55.0 277.5,-54.5 278.0,-53.8 278.3,-52.6 278.6,-51.6 279.2,-51.3 280.0,-51.4M280.0,-62.4 278.0,-62.5 276.0,-62.0 274.0,-62.7 273.0,-63.5 273.5,-64.0 271.5,-64.7 270.5,-64.0 269.0,-63.5 268.0,-62.3 266.5,-61.3 265.3,-60.0 265.5,-59.5 265.8,-58.8M280.0,-66.5 278.5,-66.3 276.5,-67.0 274.0,-68.0 272.0,-68.8 270.5,-68.5 270.0,-67.5 268.5,-67.9 268.0,-68.5 269.0,-69.5 270.5,-70.0M197.8,-70.0 200.0,-70.3M224.5,-70.0 223.5,-69.4 222.0,-69.1 221.0,-69.6 219.5,-69.8 218.5,-70.0M226.5,-70.0 227.5,-69.6 229.0,-69.5 230.5,-69.9M234.0,-70.0 235.5,-69.2 237.0,-69.4 239.5,-69.0 242.5,-68.7 245.0,-68.3 247.0,-67.9 249.0,-68.0 251.5,-67.8 253.0,-68.2 255.0,-67.8 256.5,-68.5 258.5,-68.2 260.0,-68.6 262.0,-69.0 263.5,-69.3 264.0,-70.0M267.8,-46.7 269.0,-46.9 270.0,-47.2 271.0,-47.9 272.0,-48.6 273.5,-48.7 275.0,-48.0 275.5,-47.0 275.4,-46.5 273.5,-46.6 272.0,-46.5 270.5,-46.8 269.5,-46.8 268.5,-46.6 267.8,-46.7M272.2,-41.7 272.8,-42.8 272.5,-44.0 272.8,-45.1 273.2,-45.9 274.2,-45.8 273.9,-44.9 273.6,-44.0 273.7,-43.0 273.5,-42.0 272.8,-41.6 272.2,-41.7M275.5,-45.9 277.0,-46.2 278.4,-46.0 279.3,-45.4 279.7,-44.6 278.4,-43.2 277.6,-43.0 277.5,-44.0 277.2,-45.0 276.3,-45.4 275.5,-45.9M276.8,-41.8 277.8,-41.5 279.0,-41.9 280.0,-42.5M280.0,-43.3 279.0,-43.4 280.0,-43.9M235.0,-65.5 237.0,-66.8 239.5,-66.9 241.0,-66.0 239.0,-65.2 237.0,-65.5 235.0,-65.5M243.5,-61.5 245.5,-61.8 247.0,-62.5 249.0,-62.7 251.0,-62.6 249.0,-62.1 246.5,-61.2 244.0,-61.0 243.5,-61.5M261.8,-50.7 262.2,-52.0 261.0,-52.5 260.5,-53.5 261.3,-53.8 263.0,-53.6 262.5,-52.0 262.5,-50.8 261.8,-50.7M103.7,-51.5 104.5,-51.8 106.5,-52.7 108.5,-54.0 109.6,-55.7 109.0,-55.8 108.0,-54.5 106.0,-53.0 104.0,-51.7 103.7,-51.5M31.6,1.0 32.5,-0.3 33.9,-0.1 34.6,0.4 34.0,1.0 33.8,2.5 32.2,2.8 31.6,1.0M30.0,3.5 30.5,5.5 30.8,6.8 31.2,8.5 30.6,8.7 30.1,7.0 29.6,5.5 29.3,4.0 30.0,3.5M34.0,9.5 34.5,10.5 34.6,11.8 35.0,12.8 35.3,14.3 34.8,14.0 34.3,12.3 34.0,11.0 34.0,9.5M35.7,-4.5 36.2,-3.5 36.1,-2.5 35.8,-3.5 35.7,-4.5M72.6,-66.6 69.5,-66.2 66.0,-65.8 65.3,-64.2 65.5,-62.7 67.0,-61.6 69.5,-61.0 72.5,-60.9 75.0,-60.8 77.5,-60.6 80.0,-59.8 82.0,-58.9 83.5,-57.5 84.2,-56.7M85.8,-70.2 86.2,-66.7 88.1,-65.6 87.3,-62.9 88.5,-62.3M88.1,-65.6 90.4,-65.2 91.9,-64.4M123.7,-70.2 123.2,-67.0 126.0,-64.5 128.6,-63.4 132.0,-62.8 134.7,-62.2 135.3,-60.4M128.6,-63.4 124.0,-62.2 120.0,-61.6 116.0,-60.5 112.7,-59.7M130.7,-47.5 132.5,-48.3 135.0,-48.5 136.5,-49.5 137.5,-51.0 139.0,-52.0 140.7,-53.0M114.0,-29.5 115.5,-29.8 116.5,-30.3 117.2,-31.0M274.0,-46.5 276.0,-46.3 277.5,-45.8 279.0,-45.5M36.9,-65.4 40.0,-64.6 41.5,-63.9 43.5,-62.9 44.9,-62.2M52.0,-67.6 53.5,-67.0 54.5,-66.2 56.7,-65.9M41.2,-57.9 43.5,-56.5 46.0,-56.2 49.2,-55.8M30.2,-60.8 31.0,-61.5 32.5,-61.3 32.8,-60.6 31.6,-60.1 30.6,-60.2 30.2,-60.8M34.6,-61.2 35.4,-62.6 36.3,-62.1 35.9,-61.3 35.2,-61.0 34.6,-61.2M280.0,-1.2 279.8,-0.5 279.4,0.8 279.1,2.2 279.8,3.2 279.0,4.5 278.8,6.0 279.5,7.5 280.0,8.3M240.0,-70.0 242.0,-69.3 245.0,-69.1 248.0,-69.3 250.0,-69.0 253.0,-69.2 255.0,-69.6 257.0,-70.0M261.5,-68.8 263.0,-68.6 264.0,-69.2 262.5,-69.6 261.5,-68.8M274.5,-64.8 276.0,-63.9 278.0,-64.2 280.0,-64.6M270.5,-65.0 272.5,-65.6 274.0,-66.2 275.5,-66.8M268.5,-63.3 270.5,-63.6 271.5,-64.0M153.6,-69.4 158.0,-69.8 162.0,-69.5 166.0,-69.0 170.5,-68.9 173.0,-69.5 175.5,-70.0M30.0,-22.0 31.4,-22.0 33.5,-22.0 36.9,-22.0M36.5,-14.3 36.6,-16.0 37.0,-17.0 38.6,-18.0M36.5,-14.3 37.5,-14.2 38.5,-14.5 40.0,-14.5 41.7,-13.2 42.4,-12.5M42.4,-12.5 41.8,-11.7 42.9,-11.0 43.2,-11.5M42.9,-11.0 44.0,-9.0 46.0,-8.0 48.0,-8.0 47.0,-6.5 45.0,-5.0 43.5,-4.8 42.0,-4.0M42.0,-4.0 41.0,-3.9 39.5,-3.4 38.0,-3.6 36.0,-4.5 35.5,-5.0M41.0,-3.9 41.0,-2.0 41.0,1.7M33.9,1.0 37.6,3.0 39.2,4.7M40.4,10.5 38.0,11.3 35.0,11.5M33.9,1.0 34.0,-1.0 35.0,-2.0 35.5,-5.0M30.0,1.0 31.6,1.0M33.9,9.4 32.9,9.3 31.3,8.6M33.9,9.4 33.2,10.8 33.0,12.5 32.9,14.0 34.0,14.5 35.3,14.3M35.3,14.3 35.8,16.0M30.0,-4.0 31.2,-3.8 33.5,-3.8 34.0,-4.6 35.5,-5.0M33.5,-12.0 34.2,-10.5 34.5,-8.0 33.0,-7.8 34.0,-5.0 35.5,-5.0M30.0,-9.5 31.5,-9.8 32.8,-11.9 33.5,-12.0M33.5,-12.0 34.8,-13.0 36.0,-12.7 36.5,-14.3M34.2,-31.3 34.9,-29.5M35.5,-33.0 35.6,-32.5 35.5,-31.0 35.0,-29.5M35.9,-35.3 36.5,-34.6 36.0,-33.5 35.8,-33.3M35.6,-32.7 36.8,-32.3 38.8,-33.4M36.2,-36.6 36.8,-36.8 38.5,-36.8 40.5,-37.0 42.3,-37.2M38.8,-33.4 41.0,-34.4 41.2,-36.5 42.3,-37.2M38.8,-33.4 39.2,-32.2 37.0,-31.5 38.0,-30.5 37.5,-30.0 36.1,-29.2 34.9,-29.3M39.2,-32.2 42.0,-31.1 44.7,-29.2 46.5,-29.1 47.7,-28.5 48.4,-28.5M46.5,-29.1 47.4,-30.0 48.0,-30.0M42.3,-37.2 44.3,-37.1 44.8,-37.2 45.5,-35.9 46.1,-35.1 45.7,-34.0 47.5,-33.0 47.8,-31.5 48.0,-30.5 48.5,-30.0M44.3,-37.1 44.8,-39.7 44.4,-40.0 43.6,-41.1 42.5,-41.5 41.6,-41.6M44.8,-39.7 46.5,-38.9 48.0,-38.8 48.9,-38.4M43.6,-41.1 45.0,-41.2 46.5,-41.1 46.5,-41.9 46.2,-42.9 44.5,-42.7 42.5,-43.2 40.0,-43.4M46.5,-41.9 48.5,-41.8M43.3,-12.7 43.5,-13.5 43.9,-16.5 45.0,-17.3 47.0,-16.9 48.5,-18.0 52.0,-19.0 53.1,-16.6M52.0,-19.0 55.0,-22.0 55.2,-22.7 55.6,-24.0 56.4,-24.9M51.6,-24.3 52.5,-24.0 55.0,-22.0M50.8,-25.0 51.6,-24.3M54.0,-37.4 55.5,-38.0 57.3,-38.0 59.5,-37.3 60.5,-36.7 61.2,-36.6M61.2,-36.6 60.6,-35.0 60.9,-34.3 60.5,-33.7 60.9,-32.5 60.6,-31.5 61.7,-31.4 60.9,-29.8M60.9,-29.8 61.8,-28.6 62.8,-28.2 62.8,-27.4 63.2,-26.6 61.8,-26.2 61.6,-25.2M60.9,-29.8 62.5,-29.4 64.5,-29.5 66.3,-29.9 66.5,-31.0 68.0,-31.6 69.3,-31.9 69.5,-33.0 70.3,-33.4 69.9,-34.0 71.1,-34.7 71.5,-35.6 71.2,-36.1 72.6,-36.8 74.0,-36.8 74.8,-37.0M61.2,-36.6 62.3,-35.3 64.5,-36.3 65.5,-37.3 66.5,-37.4 67.8,-37.2 68.5,-37.5 70.0,-37.5 71.0,-38.0 71.5,-37.1 73.0,-37.4 74.8,-37.0M52.9,-41.9 55.5,-41.3 56.0,-41.3 57.0,-41.3 58.5,-42.7 60.0,-42.0 61.0,-41.2 62.0,-40.5 63.5,-39.4 65.0,-38.5 66.5,-38.0 66.5,-37.4M53.5,-41.5 52.9,-41.9M55.9,-45.0 56.0,-41.3M55.9,-45.0 58.5,-45.6M61.0,-44.4 62.0,-43.5 64.9,-43.7 66.1,-43.0 66.0,-42.0 68.0,-41.0 69.0,-41.5 70.4,-42.3 71.0,-42.3M71.0,-42.3 73.5,-42.5 75.0,-42.8 77.0,-42.9 79.0,-42.8 80.2,-42.1M68.5,-37.5 68.9,-38.5 67.4,-39.1 68.5,-39.5 69.5,-40.1 70.5,-39.6 71.7,-39.4 73.6,-39.5M70.6,-41.0 71.0,-40.3 71.8,-40.1 73.0,-40.9 71.9,-41.4 70.6,-41.0M73.6,-39.5 73.5,-38.5 74.8,-37.0M73.6,-39.5 74.8,-40.4 76.5,-40.4 78.5,-41.5 80.2,-42.1M80.2,-42.1 80.1,-42.8 80.8,-43.2 80.2,-44.9 82.6,-45.2 83.0,-47.2 85.1,-47.0 85.7,-48.3 86.8,-49.1 87.4,-49.1M46.5,-48.5 47.3,-49.2 47.0,-50.0 48.6,-50.6 50.8,-51.7 52.3,-51.7 55.7,-50.6 57.5,-51.0 59.9,-50.8 61.3,-50.8 61.5,-51.3 60.2,-52.0 60.9,-52.5 60.0,-53.0 61.7,-53.9 65.2,-54.4 69.2,-55.4 71.0,-54.1 73.4,-53.5 74.4,-53.6 76.8,-54.5 79.0,-52.4 82.0,-50.7 83.4,-51.0 85.0,-50.0 87.4,-49.1M46.5,-48.5 47.5,-47.3 48.5,-46.5 47.9,-46.0M87.4,-49.1 89.0,-49.6 90.7,-50.3 92.2,-50.8 94.1,-50.5 95.8,-50.0 97.3,-49.7 98.2,-50.4 97.8,-51.0 99.0,-52.0 101.0,-51.5 102.1,-51.3 102.6,-50.3 104.6,-50.3 106.9,-50.3 108.5,-49.3 110.7,-49.1 113.0,-49.6 114.4,-50.2 116.7,-49.9M87.4,-49.1 88.2,-48.5 90.0,-47.9 91.0,-46.9 90.3,-45.7 93.5,-44.9 95.3,-44.2 96.4,-42.7 100.8,-42.7 104.0,-41.6 105.0,-41.6 107.0,-42.4 110.4,-42.9 111.9,-43.7 111.4,-44.4 112.0,-45.1 114.5,-45.3 116.0,-46.7 117.4,-46.7 118.0,-47.0 119.7,-46.7 119.0,-47.5 117.3,-47.7 116.0,-48.5 116.7,-49.9M116.7,-49.9 117.9,-49.5 119.3,-50.1 119.3,-50.9 120.2,-51.6 121.0,-52.5 122.5,-53.4 125.0,-53.2 126.6,-52.8 127.5,-50.5 128.2,-49.6 130.7,-48.9 130.7,-47.5 132.5,-47.8 134.0,-48.3 134.6,-47.6 133.9,-46.3 133.1,-44.9 131.3,-44.9 131.0,-43.0 130.6,-42.4M130.6,-42.4 129.6,-42.4 128.0,-42.0 126.9,-41.8 125.0,-40.5 124.4,-40.0M124.7,-38.0 126.2,-37.7 127.0,-38.2 128.4,-38.6M74.8,-37.0 75.9,-36.7 77.5,-35.5 78.0,-35.3 78.8,-34.3 79.2,-32.5 78.5,-32.6 79.0,-31.1 80.0,-30.8 81.1,-30.2M74.8,-37.0 75.5,-35.9 75.0,-34.5 74.0,-33.4 74.8,-32.5 74.4,-31.0 73.9,-30.0 72.9,-28.9 71.8,-27.9 70.6,-27.9 69.5,-26.7 70.2,-26.0 70.2,-24.8 69.1,-24.3 68.3,-23.7M81.1,-30.2 80.1,-28.8 81.0,-28.4 82.5,-27.4 84.0,-27.4 85.3,-26.7 86.8,-26.4 88.1,-26.4 88.2,-27.8 87.0,-28.0 85.9,-28.2 84.2,-28.8 82.0,-30.1 81.1,-30.2M88.8,-27.3 89.6,-28.1 91.0,-28.0 92.0,-27.5 91.7,-26.8 90.0,-26.8 88.8,-27.3M88.2,-27.8 88.8,-27.3M92.0,-27.5 93.5,-28.7 95.5,-29.0 96.2,-29.4 97.3,-28.3 97.4,-27.9M88.1,-26.4 88.8,-26.3 89.4,-25.9 88.5,-25.5 88.2,-24.5 88.7,-24.2 88.6,-22.9 89.0,-22.0M89.4,-25.9 90.5,-25.2 92.0,-25.2 92.4,-24.3 91.9,-24.1 91.6,-23.0 92.1,-23.6 92.4,-22.0 92.6,-21.3M92.4,-22.0 93.2,-22.3 93.3,-23.0 93.4,-24.1 94.2,-23.9 94.6,-25.2 95.3,-26.6 96.4,-27.3 97.1,-27.1 97.4,-27.9M97.4,-27.9 98.3,-27.5 98.7,-26.2 97.7,-24.8 97.7,-23.9 98.9,-24.1 99.5,-22.9 99.2,-22.1 100.1,-21.6 101.2,-21.4M101.2,-21.4 101.8,-22.4 102.2,-22.5 103.0,-22.4 104.5,-22.8 105.3,-23.3 106.7,-22.8 106.6,-22.2 107.9,-21.6M100.1,-21.6 100.5,-20.4 100.1,-20.4 99.5,-20.2 98.5,-19.7 97.8,-18.6 97.4,-18.4 97.8,-17.6 98.5,-16.8 98.9,-16.2 98.5,-15.3 99.1,-13.8 99.2,-12.8 99.7,-11.2 98.9,-10.0 98.6,-9.9M100.5,-20.4 101.3,-19.5 101.0,-17.6 102.1,-18.1 103.2,-18.0 104.7,-17.4 104.8,-16.4 105.6,-15.6 105.5,-14.3M101.2,-21.4 102.2,-22.0 102.4,-21.4 103.2,-20.8 104.4,-20.8 104.8,-19.9 104.2,-19.6 105.1,-18.7 106.0,-17.9 106.6,-17.0 107.3,-15.9 107.6,-15.2 107.4,-14.2M105.5,-14.3 106.5,-14.6 107.4,-14.2M105.5,-14.3 104.3,-14.4 102.9,-14.2 102.6,-12.2 102.3,-12.1M107.4,-14.2 107.5,-12.3 106.0,-11.2 105.1,-10.9 104.4,-10.4M100.4,-6.5 101.0,-6.3 101.8,-5.8 102.1,-6.2M109.6,-2.0 111.0,-1.0 112.5,-1.4 114.2,-1.4 114.8,-2.3 115.5,-3.2 115.6,-4.0 117.0,-4.3 117.9,-4.1M141.0,2.6 141.0,6.0 140.9,6.9 141.0,9.2M124.9,9.1 125.1,9.4M219.0,-70.0 219.0,-60.3M219.0,-60.3 220.5,-60.0 222.0,-59.8 223.5,-59.3 224.6,-59.5 225.8,-59.0 226.8,-58.3 227.7,-56.6 229.0,-56.0 229.9,-55.5M236.9,-49.0 240.0,-49.0 245.0,-49.0 250.0,-49.0 255.0,-49.0 260.0,-49.0 264.8,-49.0 265.0,-49.4 265.5,-48.9 267.5,-48.2 268.3,-48.0M272.5,-46.5 276.0,-46.3 277.6,-45.0 277.6,-43.0M242.9,-32.5 245.0,-32.7 245.2,-32.2 248.9,-31.3 251.9,-31.3 251.9,-31.8 253.5,-31.8 253.5,-31.2 255.5,-30.0 256.6,-29.5 258.0,-29.8 259.3,-29.0 260.0,-27.8 260.8,-26.4 262.6,-25.9M267.8,-14.7 267.8,-16.1 268.9,-16.1 268.6,-17.8 270.8,-17.8 270.8,-17.0M270.8,-15.8 270.8,-17.8M269.7,-14.0 270.3,-14.5 270.5,-15.6 271.8,-15.9M270.3,-14.5 271.4,-14.4 272.2,-13.2M272.7,-13.0 273.3,-13.7 274.4,-14.0 275.0,-14.8 276.8,-15.0M274.3,-11.1 275.2,-11.0 276.3,-10.9M277.3,-8.5 277.6,-9.6M30.0,-67.5 30.1,-65.7 29.8,-64.8 30.5,-64.2 30.0,-63.5 31.5,-62.9 30.0,-61.7M30.0,-55.9 31.8,-55.7 32.7,-53.4 31.8,-52.1M30.0,-51.5 31.8,-52.1 34.4,-51.8 35.4,-50.6 38.2,-50.1 40.1,-49.6 40.1,-48.3 38.8,-47.8 38.2,-47.1" fill="none" stroke="#000" stroke-width="0.337" stroke-linejoin="round"/></g>
</g>
<rect x="30.35" y="491.45" width="534.05" height="181.75" fill="none" stroke="#2a2a2a" stroke-width="1.2"/>
<text x="40.71" y="684.80" font-size="8.8" fill="#222" textLength="22.0" lengthAdjust="spacingAndGlyphs">40°E</text>
<text x="83.44" y="684.80" font-size="8.8" fill="#222" textLength="22.0" lengthAdjust="spacingAndGlyphs">60°E</text>
<text x="126.16" y="684.80" font-size="8.8" fill="#222" textLength="22.0" lengthAdjust="spacingAndGlyphs">80°E</text>
<text x="166.38" y="684.80" font-size="8.8" fill="#222" textLength="27.0" lengthAdjust="spacingAndGlyphs">100°E</text>
<text x="209.11" y="684.80" font-size="8.8" fill="#222" textLength="27.0" lengthAdjust="spacingAndGlyphs">120°E</text>
<text x="251.83" y="684.80" font-size="8.8" fill="#222" textLength="27.0" lengthAdjust="spacingAndGlyphs">140°E</text>
<text x="294.56" y="684.80" font-size="8.8" fill="#222" textLength="27.0" lengthAdjust="spacingAndGlyphs">160°E</text>
<text x="341.63" y="684.80" font-size="8.8" fill="#222" textLength="18.3" lengthAdjust="spacingAndGlyphs">180°</text>
<text x="378.70" y="684.80" font-size="8.8" fill="#222" textLength="29.6" lengthAdjust="spacingAndGlyphs">160°W</text>
<text x="421.43" y="684.80" font-size="8.8" fill="#222" textLength="29.6" lengthAdjust="spacingAndGlyphs">140°W</text>
<text x="464.15" y="684.80" font-size="8.8" fill="#222" textLength="29.6" lengthAdjust="spacingAndGlyphs">120°W</text>
<text x="506.88" y="684.80" font-size="8.8" fill="#222" textLength="29.6" lengthAdjust="spacingAndGlyphs">100°W</text>
<text x="14.15" y="644.03" font-size="8.8" fill="#222" textLength="11.6" lengthAdjust="spacingAndGlyphs">0°</text>
<text x="3.35" y="601.26" font-size="8.8" fill="#222" textLength="22.4" lengthAdjust="spacingAndGlyphs">20°N</text>
<text x="3.35" y="558.50" font-size="8.8" fill="#222" textLength="22.4" lengthAdjust="spacingAndGlyphs">40°N</text>
<text x="3.35" y="515.73" font-size="8.8" fill="#222" textLength="22.4" lengthAdjust="spacingAndGlyphs">60°N</text>
<text x="35.40" y="525.00" font-size="32" font-weight="bold" fill="#000" stroke="#000" stroke-width="0.7" textLength="13.0" lengthAdjust="spacingAndGlyphs">c</text>
<rect x="576.50" y="663.31" width="12.00" height="9.99" fill="#ffffff"/>
<rect x="576.50" y="653.62" width="12.00" height="9.99" fill="#ffffdd"/>
<rect x="576.50" y="643.93" width="12.00" height="9.99" fill="#f7fccc"/>
<rect x="576.50" y="634.24" width="12.00" height="9.99" fill="#f0f9bb"/>
<rect x="576.50" y="624.56" width="12.00" height="9.99" fill="#e1f3ba"/>
<rect x="576.50" y="614.87" width="12.00" height="9.99" fill="#d1edbb"/>
<rect x="576.50" y="605.18" width="12.00" height="9.99" fill="#b6e2be"/>
<rect x="576.50" y="595.49" width="12.00" height="9.99" fill="#97d6c1"/>
<rect x="576.50" y="585.80" width="12.00" height="9.99" fill="#7bccc4"/>
<rect x="576.50" y="576.11" width="12.00" height="9.99" fill="#61c2c8"/>
<rect x="576.50" y="566.42" width="12.00" height="9.99" fill="#4cb5c9"/>
<rect x="576.50" y="556.73" width="12.00" height="9.99" fill="#3da6c7"/>
<rect x="576.50" y="547.04" width="12.00" height="9.99" fill="#3494c2"/>
<rect x="576.50" y="537.36" width="12.00" height="9.99" fill="#377eb8"/>
<rect x="576.50" y="527.67" width="12.00" height="9.99" fill="#386aaf"/>
<rect x="576.50" y="517.98" width="12.00" height="9.99" fill="#3a58a6"/>
<rect x="576.50" y="508.29" width="12.00" height="9.99" fill="#39479c"/>
<rect x="576.50" y="498.60" width="12.00" height="9.99" fill="#2d3d82"/>
<polygon points="576.50,498.90 582.50,489.60 588.50,498.90" fill="#213469"/>
<polygon points="576.50,498.60 582.50,489.60 588.50,498.60 588.50,673.00 582.50,680.40 576.50,673.00" fill="none" stroke="#bbbbbb" stroke-width="0.8"/>
<line x1="588.50" y1="673.00" x2="590.30" y2="673.00" stroke="#444" stroke-width="0.6"/>
<text x="591.10" y="675.50" font-size="7.4" fill="#333" textLength="10.6" lengthAdjust="spacingAndGlyphs">0.0</text>
<line x1="588.50" y1="653.62" x2="590.30" y2="653.62" stroke="#444" stroke-width="0.6"/>
<text x="591.10" y="656.12" font-size="7.4" fill="#333" textLength="10.6" lengthAdjust="spacingAndGlyphs">0.5</text>
<line x1="588.50" y1="634.24" x2="590.30" y2="634.24" stroke="#444" stroke-width="0.6"/>
<text x="591.10" y="636.74" font-size="7.4" fill="#333" textLength="10.6" lengthAdjust="spacingAndGlyphs">1.0</text>
<line x1="588.50" y1="614.87" x2="590.30" y2="614.87" stroke="#444" stroke-width="0.6"/>
<text x="591.10" y="617.37" font-size="7.4" fill="#333" textLength="10.6" lengthAdjust="spacingAndGlyphs">1.5</text>
<line x1="588.50" y1="595.49" x2="590.30" y2="595.49" stroke="#444" stroke-width="0.6"/>
<text x="591.10" y="597.99" font-size="7.4" fill="#333" textLength="10.6" lengthAdjust="spacingAndGlyphs">2.0</text>
<line x1="588.50" y1="576.11" x2="590.30" y2="576.11" stroke="#444" stroke-width="0.6"/>
<text x="591.10" y="578.61" font-size="7.4" fill="#333" textLength="10.6" lengthAdjust="spacingAndGlyphs">2.5</text>
<line x1="588.50" y1="556.73" x2="590.30" y2="556.73" stroke="#444" stroke-width="0.6"/>
<text x="591.10" y="559.23" font-size="7.4" fill="#333" textLength="10.6" lengthAdjust="spacingAndGlyphs">3.0</text>
<line x1="588.50" y1="537.36" x2="590.30" y2="537.36" stroke="#444" stroke-width="0.6"/>
<text x="591.10" y="539.86" font-size="7.4" fill="#333" textLength="10.6" lengthAdjust="spacingAndGlyphs">3.5</text>
<line x1="588.50" y1="517.98" x2="590.30" y2="517.98" stroke="#444" stroke-width="0.6"/>
<text x="591.10" y="520.48" font-size="7.4" fill="#333" textLength="10.6" lengthAdjust="spacingAndGlyphs">4.0</text>
<line x1="588.50" y1="498.60" x2="590.30" y2="498.60" stroke="#444" stroke-width="0.6"/>
<text x="591.10" y="501.10" font-size="7.4" fill="#333" textLength="10.6" lengthAdjust="spacingAndGlyphs">4.5</text>
<text x="578.40" y="585.90" font-size="9.6" fill="#222" textLength="62" lengthAdjust="spacingAndGlyphs" transform="rotate(-90 609.40 585.90)">Frequency (%)</text>
</g>
</svg>
</body></html>
